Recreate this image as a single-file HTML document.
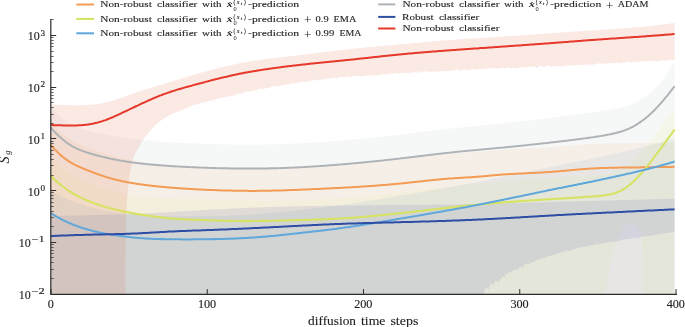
<!DOCTYPE html>
<html><head><meta charset="utf-8"><style>html,body{margin:0;padding:0;background:#fff;width:685px;height:327px;overflow:hidden}svg{display:block}</style></head><body>
<svg width="685" height="327" viewBox="0 0 685 327">
<rect width="685" height="327" fill="#fff"/>
<g stroke="none">
<polygon points="50.8,122.1 51.5,122.9 52.5,123.9 53.5,125.0 54.5,126.1 55.5,127.1 56.5,128.2 57.5,129.2 58.5,130.2 59.5,131.1 60.5,132.1 61.5,132.9 62.5,133.8 63.5,134.6 64.5,135.4 65.5,136.1 66.5,136.9 67.5,137.6 68.5,138.2 69.5,138.9 70.5,139.5 71.5,140.1 72.5,140.6 73.5,141.2 74.5,141.7 75.5,142.2 76.5,142.7 77.5,143.2 78.5,143.7 79.5,144.1 80.5,144.6 81.5,145.0 82.5,145.4 83.5,145.8 84.5,146.3 85.5,146.7 86.5,147.1 87.5,147.5 88.5,147.9 89.5,148.3 90.5,148.7 91.5,149.1 92.5,149.5 93.5,149.8 94.5,150.2 95.5,150.6 96.5,151.0 97.5,151.3 98.5,151.7 99.5,152.1 100.5,152.4 101.5,152.8 102.5,153.1 103.5,153.4 104.5,153.8 105.5,154.1 106.5,154.4 107.5,154.7 108.5,155.0 109.5,155.3 110.5,155.6 111.5,155.9 112.5,156.2 113.5,156.5 114.5,156.7 115.5,157.0 116.5,157.2 117.5,157.5 118.5,157.7 119.5,157.9 120.5,158.2 121.5,158.4 122.5,158.6 123.5,158.8 124.5,159.0 125.5,159.2 126.5,159.4 127.5,159.6 128.5,159.8 129.5,160.0 130.5,160.2 131.5,160.3 132.5,160.5 133.5,160.7 134.5,160.8 135.5,161.0 136.5,161.2 137.5,161.3 138.5,161.5 139.5,161.6 140.5,161.8 141.5,161.9 142.5,162.0 143.5,162.2 144.5,162.3 145.5,162.4 146.5,162.6 147.5,162.7 148.5,162.8 149.5,162.9 150.5,163.1 151.5,163.2 152.5,163.3 153.5,163.4 154.5,163.5 155.5,163.6 156.5,163.7 157.5,163.8 158.5,163.9 159.5,164.0 160.5,164.1 161.5,164.2 162.5,164.3 163.5,164.4 164.5,164.5 165.5,164.6 166.5,164.7 167.5,164.8 168.5,164.9 169.5,165.0 170.5,165.0 171.5,165.1 172.5,165.2 173.5,165.3 174.5,165.4 175.5,165.5 176.5,165.5 177.5,165.6 178.5,165.7 179.5,165.7 180.5,165.8 181.5,165.9 182.5,166.0 183.5,166.0 184.5,166.1 185.5,166.2 186.5,166.2 187.5,166.3 188.5,166.4 189.5,166.4 190.5,166.5 191.5,166.5 192.5,166.6 193.5,166.6 194.5,166.7 195.5,166.8 196.5,166.8 197.5,166.9 198.5,166.9 199.5,167.0 200.5,167.0 201.5,167.1 202.5,167.1 203.5,167.2 204.5,167.2 205.5,167.3 206.5,167.3 207.5,167.3 208.5,167.4 209.5,167.4 210.5,167.5 211.5,167.5 212.5,167.6 213.5,167.6 214.5,167.6 215.5,167.7 216.5,167.7 217.5,167.7 218.5,167.8 219.5,167.8 220.5,167.8 221.5,167.9 222.5,167.9 223.5,167.9 224.5,168.0 225.5,168.0 226.5,168.0 227.5,168.0 228.5,168.1 229.5,168.1 230.5,168.1 231.5,168.1 232.5,168.2 233.5,168.2 234.5,168.2 235.5,168.2 236.5,168.2 237.5,168.2 238.5,168.3 239.5,168.3 240.5,168.3 241.5,168.3 242.5,168.3 243.5,168.3 244.5,168.3 245.5,168.3 246.5,168.3 247.5,168.3 248.5,168.4 249.5,168.4 250.5,168.4 251.5,168.4 252.5,168.4 253.5,168.4 254.5,168.4 255.5,168.4 256.5,168.3 257.5,168.3 258.5,168.3 259.5,168.3 260.5,168.3 261.5,168.3 262.5,168.3 263.5,168.3 264.5,168.2 265.5,168.2 266.5,168.2 267.5,168.2 268.5,168.2 269.5,168.1 270.5,168.1 271.5,168.1 272.5,168.1 273.5,168.0 274.5,168.0 275.5,168.0 276.5,167.9 277.5,167.9 278.5,167.9 279.5,167.8 280.5,167.8 281.5,167.7 282.5,167.7 283.5,167.7 284.5,167.6 285.5,167.6 286.5,167.5 287.5,167.5 288.5,167.4 289.5,167.4 290.5,167.3 291.5,167.3 292.5,167.2 293.5,167.2 294.5,167.1 295.5,167.1 296.5,167.0 297.5,167.0 298.5,166.9 299.5,166.9 300.5,166.8 301.5,166.7 302.5,166.7 303.5,166.6 304.5,166.6 305.5,166.5 306.5,166.5 307.5,166.4 308.5,166.3 309.5,166.3 310.5,166.2 311.5,166.2 312.5,166.1 313.5,166.0 314.5,166.0 315.5,165.9 316.5,165.9 317.5,165.8 318.5,165.7 319.5,165.7 320.5,165.6 321.5,165.5 322.5,165.5 323.5,165.4 324.5,165.3 325.5,165.3 326.5,165.2 327.5,165.1 328.5,165.1 329.5,165.0 330.5,164.9 331.5,164.9 332.5,164.8 333.5,164.7 334.5,164.7 335.5,164.6 336.5,164.5 337.5,164.5 338.5,164.4 339.5,164.3 340.5,164.3 341.5,164.2 342.5,164.1 343.5,164.0 344.5,164.0 345.5,163.9 346.5,163.8 347.5,163.8 348.5,163.7 349.5,163.6 350.5,163.5 351.5,163.4 352.5,163.4 353.5,163.3 354.5,163.2 355.5,163.1 356.5,163.1 357.5,163.0 358.5,162.9 359.5,162.8 360.5,162.7 361.5,162.7 362.5,162.6 363.5,162.5 364.5,162.4 365.5,162.3 366.5,162.2 367.5,162.1 368.5,162.1 369.5,162.0 370.5,161.9 371.5,161.8 372.5,161.7 373.5,161.6 374.5,161.5 375.5,161.4 376.5,161.3 377.5,161.2 378.5,161.2 379.5,161.1 380.5,161.0 381.5,160.9 382.5,160.8 383.5,160.7 384.5,160.6 385.5,160.5 386.5,160.4 387.5,160.3 388.5,160.2 389.5,160.1 390.5,160.0 391.5,159.9 392.5,159.8 393.5,159.6 394.5,159.5 395.5,159.4 396.5,159.3 397.5,159.2 398.5,159.1 399.5,159.0 400.5,158.9 401.5,158.8 402.5,158.6 403.5,158.5 404.5,158.4 405.5,158.3 406.5,158.2 407.5,158.1 408.5,157.9 409.5,157.8 410.5,157.7 411.5,157.6 412.5,157.5 413.5,157.3 414.5,157.2 415.5,157.1 416.5,157.0 417.5,156.9 418.5,156.8 419.5,156.6 420.5,156.5 421.5,156.4 422.5,156.3 423.5,156.2 424.5,156.0 425.5,155.9 426.5,155.8 427.5,155.7 428.5,155.6 429.5,155.5 430.5,155.4 431.5,155.3 432.5,155.2 433.5,155.0 434.5,154.9 435.5,154.8 436.5,154.7 437.5,154.6 438.5,154.5 439.5,154.4 440.5,154.3 441.5,154.2 442.5,154.2 443.5,154.1 444.5,154.0 445.5,153.9 446.5,153.8 447.5,153.7 448.5,153.6 449.5,153.6 450.5,153.5 451.5,153.4 452.5,153.4 453.5,153.3 454.5,153.2 455.5,153.1 456.5,153.1 457.5,153.0 458.5,153.0 459.5,152.9 460.5,152.8 461.5,152.8 462.5,152.7 463.5,152.7 464.5,152.6 465.5,152.5 466.5,152.5 467.5,152.4 468.5,152.4 469.5,152.3 470.5,152.2 471.5,152.2 472.5,152.1 473.5,152.0 474.5,152.0 475.5,151.9 476.5,151.8 477.5,151.8 478.5,151.7 479.5,151.6 480.5,151.5 481.5,151.4 482.5,151.4 483.5,151.3 484.5,151.2 485.5,151.1 486.5,151.0 487.5,150.9 488.5,150.8 489.5,150.7 490.5,150.6 491.5,150.6 492.5,150.5 493.5,150.4 494.5,150.3 495.5,150.2 496.5,150.1 497.5,150.0 498.5,150.0 499.5,149.9 500.5,149.8 501.5,149.7 502.5,149.6 503.5,149.6 504.5,149.5 505.5,149.4 506.5,149.4 507.5,149.3 508.5,149.3 509.5,149.2 510.5,149.1 511.5,149.1 512.5,149.0 513.5,149.0 514.5,148.9 515.5,148.9 516.5,148.8 517.5,148.8 518.5,148.7 519.5,148.7 520.5,148.7 521.5,148.6 522.5,148.6 523.5,148.5 524.5,148.5 525.5,148.4 526.5,148.4 527.5,148.4 528.5,148.3 529.5,148.3 530.5,148.2 531.5,148.2 532.5,148.2 533.5,148.1 534.5,148.1 535.5,148.0 536.5,148.0 537.5,147.9 538.5,147.9 539.5,147.8 540.5,147.8 541.5,147.7 542.5,147.7 543.5,147.6 544.5,147.6 545.5,147.5 546.5,147.5 547.5,147.4 548.5,147.3 549.5,147.3 550.5,147.2 551.5,147.1 552.5,147.1 553.5,147.0 554.5,146.9 555.5,146.8 556.5,146.8 557.5,146.7 558.5,146.6 559.5,146.5 560.5,146.4 561.5,146.3 562.5,146.3 563.5,146.2 564.5,146.1 565.5,146.0 566.5,145.9 567.5,145.8 568.5,145.7 569.5,145.7 570.5,145.6 571.5,145.5 572.5,145.4 573.5,145.3 574.5,145.2 575.5,145.1 576.5,145.1 577.5,145.0 578.5,144.9 579.5,144.8 580.5,144.7 581.5,144.7 582.5,144.6 583.5,144.5 584.5,144.4 585.5,144.4 586.5,144.3 587.5,144.2 588.5,144.2 589.5,144.1 590.5,144.1 591.5,144.0 592.5,143.9 593.5,143.9 594.5,143.8 595.5,143.8 596.5,143.8 597.5,143.7 598.5,143.7 599.5,143.6 600.5,143.6 601.5,143.6 602.5,143.5 603.5,143.5 604.5,143.5 605.5,143.5 606.5,143.4 607.5,143.4 608.5,143.4 609.5,143.4 610.5,143.4 611.5,143.3 612.5,143.3 613.5,143.3 614.5,143.3 615.5,143.3 616.5,143.3 617.5,143.3 618.5,143.2 619.5,143.2 620.5,143.2 621.5,143.2 622.5,143.2 623.5,143.2 624.5,143.2 625.5,143.2 626.5,143.2 627.5,143.2 628.5,143.2 629.5,143.2 630.5,143.2 631.5,143.1 632.5,143.1 633.5,143.1 634.5,143.1 635.5,143.1 636.5,143.1 637.5,143.1 638.5,143.1 639.5,143.1 640.5,143.1 641.5,143.1 642.5,143.1 643.5,143.1 644.5,143.1 645.5,143.0 646.5,143.0 647.5,143.0 648.5,143.0 649.5,143.0 650.5,143.0 651.5,143.0 652.5,143.0 653.5,143.0 654.5,143.0 655.5,143.0 656.5,143.0 657.5,143.0 658.5,142.9 659.5,142.9 660.5,142.9 661.5,142.9 662.5,142.9 663.5,142.9 664.5,142.9 665.5,142.9 666.5,142.9 667.5,142.9 668.5,142.9 669.5,142.8 670.5,142.8 671.5,142.8 672.5,142.8 673.5,142.8 674.5,142.8 674.6,142.8 674.6,294.0 674.5,294.0 673.5,294.0 672.5,294.0 671.5,294.0 670.5,294.0 669.5,294.0 668.5,294.0 667.5,294.0 666.5,294.0 665.5,294.0 664.5,294.0 663.5,294.0 662.5,294.0 661.5,294.0 660.5,294.0 659.5,294.0 658.5,294.0 657.5,294.0 656.5,294.0 655.5,294.0 654.5,294.0 653.5,294.0 652.5,294.0 651.5,294.0 650.5,294.0 649.5,294.0 648.5,294.0 647.5,294.0 646.5,294.0 645.5,294.0 644.5,294.0 643.5,294.0 642.5,294.0 641.5,294.0 640.5,294.0 639.5,294.0 638.5,294.0 637.5,294.0 636.5,294.0 635.5,294.0 634.5,294.0 633.5,294.0 632.5,294.0 631.5,294.0 630.5,294.0 629.5,294.0 628.5,294.0 627.5,294.0 626.5,294.0 625.5,294.0 624.5,294.0 623.5,294.0 622.5,294.0 621.5,294.0 620.5,294.0 619.5,294.0 618.5,294.0 617.5,294.0 616.5,294.0 615.5,294.0 614.5,294.0 613.5,294.0 612.5,294.0 611.5,294.0 610.5,294.0 609.5,294.0 608.5,294.0 607.5,294.0 606.5,294.0 605.5,294.0 604.5,294.0 603.5,294.0 602.5,294.0 601.5,294.0 600.5,294.0 599.5,294.0 598.5,294.0 597.5,294.0 596.5,294.0 595.5,294.0 594.5,294.0 593.5,294.0 592.5,294.0 591.5,294.0 590.5,294.0 589.5,294.0 588.5,294.0 587.5,294.0 586.5,294.0 585.5,294.0 584.5,294.0 583.5,294.0 582.5,294.0 581.5,294.0 580.5,294.0 579.5,294.0 578.5,294.0 577.5,294.0 576.5,294.0 575.5,294.0 574.5,294.0 573.5,294.0 572.5,294.0 571.5,294.0 570.5,294.0 569.5,294.0 568.5,294.0 567.5,294.0 566.5,294.0 565.5,294.0 564.5,294.0 563.5,294.0 562.5,294.0 561.5,294.0 560.5,294.0 559.5,294.0 558.5,294.0 557.5,294.0 556.5,294.0 555.5,294.0 554.5,294.0 553.5,294.0 552.5,294.0 551.5,294.0 550.5,294.0 549.5,294.0 548.5,294.0 547.5,294.0 546.5,294.0 545.5,294.0 544.5,294.0 543.5,294.0 542.5,294.0 541.5,294.0 540.5,294.0 539.5,294.0 538.5,294.0 537.5,294.0 536.5,294.0 535.5,294.0 534.5,294.0 533.5,294.0 532.5,294.0 531.5,294.0 530.5,294.0 529.5,294.0 528.5,294.0 527.5,294.0 526.5,294.0 525.5,294.0 524.5,294.0 523.5,294.0 522.5,294.0 521.5,294.0 520.5,294.0 519.5,294.0 518.5,294.0 517.5,294.0 516.5,294.0 515.5,294.0 514.5,294.0 513.5,294.0 512.5,294.0 511.5,294.0 510.5,294.0 509.5,294.0 508.5,294.0 507.5,294.0 506.5,294.0 505.5,294.0 504.5,294.0 503.5,294.0 502.5,294.0 501.5,294.0 500.5,294.0 499.5,294.0 498.5,294.0 497.5,294.0 496.5,294.0 495.5,294.0 494.5,294.0 493.5,294.0 492.5,294.0 491.5,294.0 490.5,294.0 489.5,294.0 488.5,294.0 487.5,294.0 486.5,294.0 485.5,294.0 484.5,294.0 483.5,294.0 482.5,294.0 481.5,294.0 480.5,294.0 479.5,294.0 478.5,294.0 477.5,294.0 476.5,294.0 475.5,294.0 474.5,294.0 473.5,294.0 472.5,294.0 471.5,294.0 470.5,294.0 469.5,294.0 468.5,294.0 467.5,294.0 466.5,294.0 465.5,294.0 464.5,294.0 463.5,294.0 462.5,294.0 461.5,294.0 460.5,294.0 459.5,294.0 458.5,294.0 457.5,294.0 456.5,294.0 455.5,294.0 454.5,294.0 453.5,294.0 452.5,294.0 451.5,294.0 450.5,294.0 449.5,294.0 448.5,294.0 447.5,294.0 446.5,294.0 445.5,294.0 444.5,294.0 443.5,294.0 442.5,294.0 441.5,294.0 440.5,294.0 439.5,294.0 438.5,294.0 437.5,294.0 436.5,294.0 435.5,294.0 434.5,294.0 433.5,294.0 432.5,294.0 431.5,294.0 430.5,294.0 429.5,294.0 428.5,294.0 427.5,294.0 426.5,294.0 425.5,294.0 424.5,294.0 423.5,294.0 422.5,294.0 421.5,294.0 420.5,294.0 419.5,294.0 418.5,294.0 417.5,294.0 416.5,294.0 415.5,294.0 414.5,294.0 413.5,294.0 412.5,294.0 411.5,294.0 410.5,294.0 409.5,294.0 408.5,294.0 407.5,294.0 406.5,294.0 405.5,294.0 404.5,294.0 403.5,294.0 402.5,294.0 401.5,294.0 400.5,294.0 399.5,294.0 398.5,294.0 397.5,294.0 396.5,294.0 395.5,294.0 394.5,294.0 393.5,294.0 392.5,294.0 391.5,294.0 390.5,294.0 389.5,294.0 388.5,294.0 387.5,294.0 386.5,294.0 385.5,294.0 384.5,294.0 383.5,294.0 382.5,294.0 381.5,294.0 380.5,294.0 379.5,294.0 378.5,294.0 377.5,294.0 376.5,294.0 375.5,294.0 374.5,294.0 373.5,294.0 372.5,294.0 371.5,294.0 370.5,294.0 369.5,294.0 368.5,294.0 367.5,294.0 366.5,294.0 365.5,294.0 364.5,294.0 363.5,294.0 362.5,294.0 361.5,294.0 360.5,294.0 359.5,294.0 358.5,294.0 357.5,294.0 356.5,294.0 355.5,294.0 354.5,294.0 353.5,294.0 352.5,294.0 351.5,294.0 350.5,294.0 349.5,294.0 348.5,294.0 347.5,294.0 346.5,294.0 345.5,294.0 344.5,294.0 343.5,294.0 342.5,294.0 341.5,294.0 340.5,294.0 339.5,294.0 338.5,294.0 337.5,294.0 336.5,294.0 335.5,294.0 334.5,294.0 333.5,294.0 332.5,294.0 331.5,294.0 330.5,294.0 329.5,294.0 328.5,294.0 327.5,294.0 326.5,294.0 325.5,294.0 324.5,294.0 323.5,294.0 322.5,294.0 321.5,294.0 320.5,294.0 319.5,294.0 318.5,294.0 317.5,294.0 316.5,294.0 315.5,294.0 314.5,294.0 313.5,294.0 312.5,294.0 311.5,294.0 310.5,294.0 309.5,294.0 308.5,294.0 307.5,294.0 306.5,294.0 305.5,294.0 304.5,294.0 303.5,294.0 302.5,294.0 301.5,294.0 300.5,294.0 299.5,294.0 298.5,294.0 297.5,294.0 296.5,294.0 295.5,294.0 294.5,294.0 293.5,294.0 292.5,294.0 291.5,294.0 290.5,294.0 289.5,294.0 288.5,294.0 287.5,294.0 286.5,294.0 285.5,294.0 284.5,294.0 283.5,294.0 282.5,294.0 281.5,294.0 280.5,294.0 279.5,294.0 278.5,294.0 277.5,294.0 276.5,294.0 275.5,294.0 274.5,294.0 273.5,294.0 272.5,294.0 271.5,294.0 270.5,294.0 269.5,294.0 268.5,294.0 267.5,294.0 266.5,294.0 265.5,294.0 264.5,294.0 263.5,294.0 262.5,294.0 261.5,294.0 260.5,294.0 259.5,294.0 258.5,294.0 257.5,294.0 256.5,294.0 255.5,294.0 254.5,294.0 253.5,294.0 252.5,294.0 251.5,294.0 250.5,294.0 249.5,294.0 248.5,294.0 247.5,294.0 246.5,294.0 245.5,294.0 244.5,294.0 243.5,294.0 242.5,294.0 241.5,294.0 240.5,294.0 239.5,294.0 238.5,294.0 237.5,294.0 236.5,294.0 235.5,294.0 234.5,294.0 233.5,294.0 232.5,294.0 231.5,294.0 230.5,294.0 229.5,294.0 228.5,294.0 227.5,294.0 226.5,294.0 225.5,294.0 224.5,294.0 223.5,294.0 222.5,294.0 221.5,294.0 220.5,294.0 219.5,294.0 218.5,294.0 217.5,294.0 216.5,294.0 215.5,294.0 214.5,294.0 213.5,294.0 212.5,294.0 211.5,294.0 210.5,294.0 209.5,294.0 208.5,294.0 207.5,294.0 206.5,294.0 205.5,294.0 204.5,294.0 203.5,294.0 202.5,294.0 201.5,294.0 200.5,294.0 199.5,294.0 198.5,294.0 197.5,294.0 196.5,294.0 195.5,294.0 194.5,294.0 193.5,294.0 192.5,294.0 191.5,294.0 190.5,294.0 189.5,294.0 188.5,294.0 187.5,294.0 186.5,294.0 185.5,294.0 184.5,294.0 183.5,294.0 182.5,294.0 181.5,294.0 180.5,294.0 179.5,294.0 178.5,294.0 177.5,294.0 176.5,294.0 175.5,294.0 174.5,294.0 173.5,294.0 172.5,294.0 171.5,294.0 170.5,294.0 169.5,294.0 168.5,294.0 167.5,294.0 166.5,294.0 165.5,294.0 164.5,294.0 163.5,294.0 162.5,294.0 161.5,294.0 160.5,294.0 159.5,294.0 158.5,294.0 157.5,294.0 156.5,294.0 155.5,294.0 154.5,294.0 153.5,294.0 152.5,294.0 151.5,294.0 150.5,294.0 149.5,294.0 148.5,294.0 147.5,294.0 146.5,294.0 145.5,294.0 144.5,294.0 143.5,294.0 142.5,294.0 141.5,294.0 140.5,294.0 139.5,294.0 138.5,294.0 137.5,294.0 136.5,294.0 135.5,294.0 134.5,294.0 133.5,294.0 132.5,294.0 131.5,294.0 130.5,294.0 129.5,294.0 128.5,294.0 127.5,294.0 126.5,294.0 125.5,294.0 124.5,294.0 123.5,294.0 122.5,294.0 121.5,294.0 120.5,294.0 119.5,294.0 118.5,294.0 117.5,294.0 116.5,294.0 115.5,294.0 114.5,294.0 113.5,294.0 112.5,294.0 111.5,294.0 110.5,294.0 109.5,294.0 108.5,294.0 107.5,294.0 106.5,294.0 105.5,294.0 104.5,294.0 103.5,294.0 102.5,294.0 101.5,294.0 100.5,294.0 99.5,294.0 98.5,294.0 97.5,294.0 96.5,294.0 95.5,294.0 94.5,294.0 93.5,294.0 92.5,294.0 91.5,294.0 90.5,294.0 89.5,294.0 88.5,294.0 87.5,294.0 86.5,294.0 85.5,294.0 84.5,294.0 83.5,294.0 82.5,294.0 81.5,294.0 80.5,294.0 79.5,294.0 78.5,294.0 77.5,294.0 76.5,294.0 75.5,294.0 74.5,294.0 73.5,294.0 72.5,294.0 71.5,294.0 70.5,294.0 69.5,294.0 68.5,294.0 67.5,294.0 66.5,294.0 65.5,294.0 64.5,294.0 63.5,294.0 62.5,294.0 61.5,294.0 60.5,294.0 59.5,294.0 58.5,294.0 57.5,294.0 56.5,294.0 55.5,294.0 54.5,294.0 53.5,294.0 52.5,294.0 51.5,294.0 50.8,294.0" fill="#ff9f4b" fill-opacity="0.094"/>
<polygon points="50.8,158.3 51.5,158.9 52.5,159.8 53.5,160.7 54.5,161.6 55.5,162.5 56.5,163.4 57.5,164.3 58.5,165.1 59.5,166.0 60.5,166.8 61.5,167.6 62.5,168.4 63.5,169.2 64.5,170.0 65.5,170.7 66.5,171.4 67.5,172.1 68.5,172.8 69.5,173.5 70.5,174.1 71.5,174.8 72.5,175.4 73.5,176.0 74.5,176.6 75.5,177.2 76.5,177.7 77.5,178.2 78.5,178.8 79.5,179.3 80.5,179.8 81.5,180.3 82.5,180.7 83.5,181.2 84.5,181.6 85.5,182.1 86.5,182.5 87.5,183.0 88.5,183.4 89.5,183.8 90.5,184.2 91.5,184.6 92.5,185.0 93.5,185.3 94.5,185.7 95.5,186.1 96.5,186.4 97.5,186.8 98.5,187.1 99.5,187.4 100.5,187.8 101.5,188.1 102.5,188.4 103.5,188.7 104.5,189.0 105.5,189.3 106.5,189.6 107.5,189.9 108.5,190.1 109.5,190.4 110.5,190.7 111.5,190.9 112.5,191.2 113.5,191.4 114.5,191.7 115.5,191.9 116.5,192.2 117.5,192.4 118.5,192.6 119.5,192.9 120.5,193.1 121.5,193.3 122.5,193.5 123.5,193.8 124.5,194.0 125.5,194.2 126.5,194.4 127.5,194.6 128.5,194.8 129.5,195.0 130.5,195.2 131.5,195.3 132.5,195.5 133.5,195.7 134.5,195.8 135.5,195.9 136.5,196.1 137.5,196.2 138.5,196.3 139.5,196.4 140.5,196.5 141.5,196.6 142.5,196.7 143.5,196.8 144.5,196.9 145.5,197.0 146.5,197.1 147.5,197.2 148.5,197.3 149.5,197.4 150.5,197.5 151.5,197.5 152.5,197.6 153.5,197.7 154.5,197.8 155.5,197.8 156.5,197.9 157.5,198.0 158.5,198.0 159.5,198.1 160.5,198.1 161.5,198.2 162.5,198.3 163.5,198.3 164.5,198.3 165.5,198.4 166.5,198.4 167.5,198.5 168.5,198.5 169.5,198.5 170.5,198.5 171.5,198.6 172.5,198.6 173.5,198.6 174.5,198.6 175.5,198.6 176.5,198.6 177.5,198.7 178.5,198.7 179.5,198.7 180.5,198.7 181.5,198.7 182.5,198.7 183.5,198.7 184.5,198.7 185.5,198.7 186.5,198.7 187.5,198.7 188.5,198.7 189.5,198.7 190.5,198.7 191.5,198.7 192.5,198.7 193.5,198.8 194.5,198.8 195.5,198.8 196.5,198.8 197.5,198.8 198.5,198.9 199.5,198.9 200.5,198.9 201.5,199.0 202.5,199.0 203.5,199.1 204.5,199.1 205.5,199.1 206.5,199.2 207.5,199.2 208.5,199.3 209.5,199.3 210.5,199.4 211.5,199.4 212.5,199.4 213.5,199.5 214.5,199.5 215.5,199.6 216.5,199.6 217.5,199.7 218.5,199.7 219.5,199.7 220.5,199.8 221.5,199.8 222.5,199.9 223.5,199.9 224.5,200.0 225.5,200.0 226.5,200.0 227.5,200.1 228.5,200.1 229.5,200.2 230.5,200.2 231.5,200.2 232.5,200.3 233.5,200.3 234.5,200.3 235.5,200.4 236.5,200.4 237.5,200.4 238.5,200.5 239.5,200.5 240.5,200.5 241.5,200.5 242.5,200.6 243.5,200.6 244.5,200.6 245.5,200.6 246.5,200.6 247.5,200.7 248.5,200.7 249.5,200.7 250.5,200.7 251.5,200.7 252.5,200.7 253.5,200.7 254.5,200.7 255.5,200.7 256.5,200.7 257.5,200.8 258.5,200.8 259.5,200.8 260.5,200.8 261.5,200.8 262.5,200.8 263.5,200.8 264.5,200.8 265.5,200.8 266.5,200.7 267.5,200.7 268.5,200.7 269.5,200.7 270.5,200.7 271.5,200.7 272.5,200.7 273.5,200.7 274.5,200.7 275.5,200.7 276.5,200.6 277.5,200.6 278.5,200.6 279.5,200.6 280.5,200.6 281.5,200.5 282.5,200.5 283.5,200.5 284.5,200.5 285.5,200.4 286.5,200.4 287.5,200.4 288.5,200.4 289.5,200.3 290.5,200.3 291.5,200.3 292.5,200.3 293.5,200.2 294.5,200.2 295.5,200.2 296.5,200.1 297.5,200.1 298.5,200.1 299.5,200.0 300.5,200.0 301.5,200.0 302.5,200.0 303.5,199.9 304.5,199.9 305.5,199.9 306.5,199.8 307.5,199.8 308.5,199.8 309.5,199.7 310.5,199.7 311.5,199.7 312.5,199.6 313.5,199.6 314.5,199.6 315.5,199.5 316.5,199.5 317.5,199.5 318.5,199.4 319.5,199.4 320.5,199.3 321.5,199.3 322.5,199.3 323.5,199.2 324.5,199.2 325.5,199.1 326.5,199.1 327.5,199.0 328.5,199.0 329.5,198.9 330.5,198.9 331.5,198.8 332.5,198.7 333.5,198.7 334.5,198.6 335.5,198.6 336.5,198.5 337.5,198.4 338.5,198.4 339.5,198.3 340.5,198.2 341.5,198.2 342.5,198.1 343.5,198.0 344.5,198.0 345.5,197.9 346.5,197.8 347.5,197.7 348.5,197.7 349.5,197.6 350.5,197.5 351.5,197.4 352.5,197.3 353.5,197.3 354.5,197.2 355.5,197.1 356.5,197.0 357.5,196.9 358.5,196.8 359.5,196.7 360.5,196.7 361.5,196.6 362.5,196.5 363.5,196.4 364.5,196.3 365.5,196.2 366.5,196.1 367.5,196.0 368.5,195.9 369.5,195.8 370.5,195.7 371.5,195.6 372.5,195.5 373.5,195.4 374.5,195.3 375.5,195.2 376.5,195.1 377.5,195.0 378.5,194.9 379.5,194.8 380.5,194.7 381.5,194.6 382.5,194.5 383.5,194.3 384.5,194.2 385.5,194.1 386.5,194.0 387.5,193.9 388.5,193.8 389.5,193.7 390.5,193.6 391.5,193.4 392.5,193.3 393.5,193.2 394.5,193.1 395.5,193.0 396.5,192.9 397.5,192.8 398.5,192.6 399.5,192.5 400.5,192.4 401.5,192.3 402.5,192.2 403.5,192.0 404.5,191.9 405.5,191.8 406.5,191.7 407.5,191.6 408.5,191.4 409.5,191.3 410.5,191.2 411.5,191.1 412.5,191.0 413.5,190.8 414.5,190.7 415.5,190.6 416.5,190.5 417.5,190.4 418.5,190.2 419.5,190.1 420.5,190.0 421.5,189.9 422.5,189.7 423.5,189.6 424.5,189.5 425.5,189.4 426.5,189.3 427.5,189.1 428.5,189.0 429.5,188.9 430.5,188.8 431.5,188.7 432.5,188.5 433.5,188.4 434.5,188.3 435.5,188.2 436.5,188.1 437.5,187.9 438.5,187.8 439.5,187.7 440.5,187.6 441.5,187.5 442.5,187.4 443.5,187.2 444.5,187.1 445.5,187.0 446.5,186.9 447.5,186.8 448.5,186.7 449.5,186.6 450.5,186.4 451.5,186.3 452.5,186.2 453.5,186.1 454.5,186.0 455.5,185.9 456.5,185.8 457.5,185.7 458.5,185.6 459.5,185.5 460.5,185.4 461.5,185.3 462.5,185.1 463.5,185.0 464.5,184.9 465.5,184.8 466.5,184.7 467.5,184.6 468.5,184.5 469.5,184.4 470.5,184.3 471.5,184.2 472.5,184.1 473.5,184.0 474.5,183.9 475.5,183.8 476.5,183.8 477.5,183.7 478.5,183.6 479.5,183.5 480.5,183.4 481.5,183.3 482.5,183.2 483.5,183.1 484.5,183.0 485.5,182.9 486.5,182.8 487.5,182.8 488.5,182.7 489.5,182.6 490.5,182.5 491.5,182.4 492.5,182.3 493.5,182.2 494.5,182.2 495.5,182.1 496.5,182.0 497.5,181.9 498.5,181.8 499.5,181.7 500.5,181.7 501.5,181.6 502.5,181.5 503.5,181.4 504.5,181.3 505.5,181.3 506.5,181.2 507.5,181.1 508.5,181.0 509.5,181.0 510.5,180.9 511.5,180.8 512.5,180.7 513.5,180.7 514.5,180.6 515.5,180.5 516.5,180.4 517.5,180.4 518.5,180.3 519.5,180.2 520.5,180.2 521.5,180.1 522.5,180.0 523.5,179.9 524.5,179.9 525.5,179.8 526.5,179.7 527.5,179.7 528.5,179.6 529.5,179.5 530.5,179.5 531.5,179.4 532.5,179.3 533.5,179.3 534.5,179.2 535.5,179.1 536.5,179.1 537.5,179.0 538.5,178.9 539.5,178.9 540.5,178.8 541.5,178.7 542.5,178.7 543.5,178.6 544.5,178.5 545.5,178.5 546.5,178.4 547.5,178.4 548.5,178.3 549.5,178.2 550.5,178.2 551.5,178.1 552.5,178.0 553.5,178.0 554.5,177.9 555.5,177.9 556.5,177.8 557.5,177.7 558.5,177.7 559.5,177.6 560.5,177.6 561.5,177.5 562.5,177.4 563.5,177.4 564.5,177.3 565.5,177.2 566.5,177.2 567.5,177.1 568.5,177.1 569.5,177.0 570.5,176.9 571.5,176.9 572.5,176.8 573.5,176.7 574.5,176.7 575.5,176.6 576.5,176.6 577.5,176.5 578.5,176.4 579.5,176.4 580.5,176.3 581.5,176.2 582.5,176.2 583.5,176.1 584.5,176.1 585.5,176.0 586.5,175.9 587.5,175.9 588.5,175.8 589.5,175.7 590.5,175.7 591.5,175.6 592.5,175.5 593.5,175.5 594.5,175.4 595.5,175.3 596.5,175.2 597.5,175.1 598.5,175.1 599.5,175.0 600.5,174.9 601.5,174.7 602.5,174.6 603.5,174.5 604.5,174.4 605.5,174.2 606.5,174.1 607.5,173.9 608.5,173.7 609.5,173.5 610.5,173.3 611.5,173.1 612.5,172.8 613.5,172.6 614.5,172.3 615.5,171.9 616.5,171.6 617.5,171.2 618.5,170.8 619.5,170.4 620.5,169.9 621.5,169.4 622.5,168.8 623.5,168.3 624.5,167.6 625.5,167.0 626.5,166.3 627.5,165.6 628.5,164.8 629.5,164.0 630.5,163.2 631.5,162.3 632.5,161.4 633.5,160.5 634.5,159.5 635.5,158.6 636.5,157.5 637.5,156.5 638.5,155.4 639.5,154.3 640.5,153.2 641.5,152.1 642.5,150.9 643.5,149.8 644.5,148.6 645.5,147.4 646.5,146.1 647.5,144.9 648.5,143.6 649.5,142.4 650.5,141.1 651.5,139.8 652.5,138.5 653.5,137.1 654.5,135.8 655.5,134.5 656.5,133.1 657.5,131.8 658.5,130.5 659.5,129.1 660.5,127.8 661.5,126.4 662.5,125.0 663.5,123.7 664.5,122.3 665.5,121.0 666.5,119.6 667.5,118.2 668.5,116.9 669.5,115.5 670.5,114.1 671.5,112.8 672.5,111.4 673.5,110.0 674.5,108.7 674.6,108.5 674.6,294.0 674.5,294.0 673.5,294.0 672.5,294.0 671.5,294.0 670.5,294.0 669.5,294.0 668.5,294.0 667.5,294.0 666.5,294.0 665.5,294.0 664.5,294.0 663.5,294.0 662.5,294.0 661.5,294.0 660.5,294.0 659.5,294.0 658.5,294.0 657.5,294.0 656.5,294.0 655.5,294.0 654.5,294.0 653.5,294.0 652.5,294.0 651.5,294.0 650.5,294.0 649.5,294.0 648.5,294.0 647.5,294.0 646.5,294.0 645.5,294.0 644.5,294.0 643.5,294.0 642.5,251.6 641.5,239.2 640.5,233.6 639.5,230.5 638.5,228.1 637.5,226.3 636.5,225.0 635.5,224.4 634.5,223.9 633.5,223.5 632.5,223.2 631.5,223.1 630.5,223.0 629.5,223.1 628.5,223.6 627.5,224.1 626.5,224.9 625.5,225.6 624.5,226.5 623.5,227.8 622.5,229.2 621.5,230.9 620.5,232.7 619.5,234.7 618.5,237.1 617.5,239.8 616.5,242.7 615.5,245.7 614.5,248.8 613.5,252.2 612.5,255.9 611.5,259.8 610.5,264.2 609.5,268.9 608.5,274.1 607.5,280.0 606.5,286.8 605.5,294.2 604.5,294.0 603.5,294.0 602.5,294.0 601.5,294.0 600.5,294.0 599.5,294.0 598.5,294.0 597.5,294.0 596.5,294.0 595.5,294.0 594.5,294.0 593.5,294.0 592.5,294.0 591.5,294.0 590.5,294.0 589.5,294.0 588.5,294.0 587.5,294.0 586.5,294.0 585.5,294.0 584.5,294.0 583.5,294.0 582.5,294.0 581.5,294.0 580.5,294.0 579.5,294.0 578.5,294.0 577.5,294.0 576.5,294.0 575.5,294.0 574.5,294.0 573.5,294.0 572.5,294.0 571.5,294.0 570.5,294.0 569.5,294.0 568.5,294.0 567.5,294.0 566.5,294.0 565.5,294.0 564.5,294.0 563.5,294.0 562.5,294.0 561.5,294.0 560.5,294.0 559.5,294.0 558.5,294.0 557.5,294.0 556.5,294.0 555.5,294.0 554.5,294.0 553.5,294.0 552.5,294.0 551.5,294.0 550.5,294.0 549.5,294.0 548.5,294.0 547.5,294.0 546.5,294.0 545.5,294.0 544.5,294.0 543.5,294.0 542.5,294.0 541.5,294.0 540.5,294.0 539.5,294.0 538.5,294.0 537.5,294.0 536.5,294.0 535.5,294.0 534.5,294.0 533.5,294.0 532.5,294.0 531.5,294.0 530.5,294.0 529.5,294.0 528.5,294.0 527.5,294.0 526.5,294.0 525.5,294.0 524.5,294.0 523.5,294.0 522.5,294.0 521.5,294.0 520.5,294.0 519.5,294.0 518.5,294.0 517.5,294.0 516.5,294.0 515.5,294.0 514.5,294.0 513.5,294.0 512.5,294.0 511.5,294.0 510.5,294.0 509.5,294.0 508.5,294.0 507.5,294.0 506.5,294.0 505.5,294.0 504.5,294.0 503.5,294.0 502.5,294.0 501.5,294.0 500.5,294.0 499.5,294.0 498.5,294.0 497.5,294.0 496.5,294.0 495.5,294.0 494.5,294.0 493.5,294.0 492.5,294.0 491.5,294.0 490.5,294.0 489.5,294.0 488.5,294.0 487.5,294.0 486.5,294.0 485.5,294.0 484.5,294.0 483.5,294.0 482.5,294.0 481.5,294.0 480.5,294.0 479.5,294.0 478.5,294.0 477.5,294.0 476.5,294.0 475.5,294.0 474.5,294.0 473.5,294.0 472.5,294.0 471.5,294.0 470.5,294.0 469.5,294.0 468.5,294.0 467.5,294.0 466.5,294.0 465.5,294.0 464.5,294.0 463.5,294.0 462.5,294.0 461.5,294.0 460.5,294.0 459.5,294.0 458.5,294.0 457.5,294.0 456.5,294.0 455.5,294.0 454.5,294.0 453.5,294.0 452.5,294.0 451.5,294.0 450.5,294.0 449.5,294.0 448.5,294.0 447.5,294.0 446.5,294.0 445.5,294.0 444.5,294.0 443.5,294.0 442.5,294.0 441.5,294.0 440.5,294.0 439.5,294.0 438.5,294.0 437.5,294.0 436.5,294.0 435.5,294.0 434.5,294.0 433.5,294.0 432.5,294.0 431.5,294.0 430.5,294.0 429.5,294.0 428.5,294.0 427.5,294.0 426.5,294.0 425.5,294.0 424.5,294.0 423.5,294.0 422.5,294.0 421.5,294.0 420.5,294.0 419.5,294.0 418.5,294.0 417.5,294.0 416.5,294.0 415.5,294.0 414.5,294.0 413.5,294.0 412.5,294.0 411.5,294.0 410.5,294.0 409.5,294.0 408.5,294.0 407.5,294.0 406.5,294.0 405.5,294.0 404.5,294.0 403.5,294.0 402.5,294.0 401.5,294.0 400.5,294.0 399.5,294.0 398.5,294.0 397.5,294.0 396.5,294.0 395.5,294.0 394.5,294.0 393.5,294.0 392.5,294.0 391.5,294.0 390.5,294.0 389.5,294.0 388.5,294.0 387.5,294.0 386.5,294.0 385.5,294.0 384.5,294.0 383.5,294.0 382.5,294.0 381.5,294.0 380.5,294.0 379.5,294.0 378.5,294.0 377.5,294.0 376.5,294.0 375.5,294.0 374.5,294.0 373.5,294.0 372.5,294.0 371.5,294.0 370.5,294.0 369.5,294.0 368.5,294.0 367.5,294.0 366.5,294.0 365.5,294.0 364.5,294.0 363.5,294.0 362.5,294.0 361.5,294.0 360.5,294.0 359.5,294.0 358.5,294.0 357.5,294.0 356.5,294.0 355.5,294.0 354.5,294.0 353.5,294.0 352.5,294.0 351.5,294.0 350.5,294.0 349.5,294.0 348.5,294.0 347.5,294.0 346.5,294.0 345.5,294.0 344.5,294.0 343.5,294.0 342.5,294.0 341.5,294.0 340.5,294.0 339.5,294.0 338.5,294.0 337.5,294.0 336.5,294.0 335.5,294.0 334.5,294.0 333.5,294.0 332.5,294.0 331.5,294.0 330.5,294.0 329.5,294.0 328.5,294.0 327.5,294.0 326.5,294.0 325.5,294.0 324.5,294.0 323.5,294.0 322.5,294.0 321.5,294.0 320.5,294.0 319.5,294.0 318.5,294.0 317.5,294.0 316.5,294.0 315.5,294.0 314.5,294.0 313.5,294.0 312.5,294.0 311.5,294.0 310.5,294.0 309.5,294.0 308.5,294.0 307.5,294.0 306.5,294.0 305.5,294.0 304.5,294.0 303.5,294.0 302.5,294.0 301.5,294.0 300.5,294.0 299.5,294.0 298.5,294.0 297.5,294.0 296.5,294.0 295.5,294.0 294.5,294.0 293.5,294.0 292.5,294.0 291.5,294.0 290.5,294.0 289.5,294.0 288.5,294.0 287.5,294.0 286.5,294.0 285.5,294.0 284.5,294.0 283.5,294.0 282.5,294.0 281.5,294.0 280.5,294.0 279.5,294.0 278.5,294.0 277.5,294.0 276.5,294.0 275.5,294.0 274.5,294.0 273.5,294.0 272.5,294.0 271.5,294.0 270.5,294.0 269.5,294.0 268.5,294.0 267.5,294.0 266.5,294.0 265.5,294.0 264.5,294.0 263.5,294.0 262.5,294.0 261.5,294.0 260.5,294.0 259.5,294.0 258.5,294.0 257.5,294.0 256.5,294.0 255.5,294.0 254.5,294.0 253.5,294.0 252.5,294.0 251.5,294.0 250.5,294.0 249.5,294.0 248.5,294.0 247.5,294.0 246.5,294.0 245.5,294.0 244.5,294.0 243.5,294.0 242.5,294.0 241.5,294.0 240.5,294.0 239.5,294.0 238.5,294.0 237.5,294.0 236.5,294.0 235.5,294.0 234.5,294.0 233.5,294.0 232.5,294.0 231.5,294.0 230.5,294.0 229.5,294.0 228.5,294.0 227.5,294.0 226.5,294.0 225.5,294.0 224.5,294.0 223.5,294.0 222.5,294.0 221.5,294.0 220.5,294.0 219.5,294.0 218.5,294.0 217.5,294.0 216.5,294.0 215.5,294.0 214.5,294.0 213.5,294.0 212.5,294.0 211.5,294.0 210.5,294.0 209.5,294.0 208.5,294.0 207.5,294.0 206.5,294.0 205.5,294.0 204.5,294.0 203.5,294.0 202.5,294.0 201.5,294.0 200.5,294.0 199.5,294.0 198.5,294.0 197.5,294.0 196.5,294.0 195.5,294.0 194.5,294.0 193.5,294.0 192.5,294.0 191.5,294.0 190.5,294.0 189.5,294.0 188.5,294.0 187.5,294.0 186.5,294.0 185.5,294.0 184.5,294.0 183.5,294.0 182.5,294.0 181.5,294.0 180.5,294.0 179.5,294.0 178.5,294.0 177.5,294.0 176.5,294.0 175.5,294.0 174.5,294.0 173.5,294.0 172.5,294.0 171.5,294.0 170.5,294.0 169.5,294.0 168.5,294.0 167.5,294.0 166.5,294.0 165.5,294.0 164.5,294.0 163.5,294.0 162.5,294.0 161.5,294.0 160.5,294.0 159.5,294.0 158.5,294.0 157.5,294.0 156.5,294.0 155.5,294.0 154.5,294.0 153.5,294.0 152.5,294.0 151.5,294.0 150.5,294.0 149.5,294.0 148.5,294.0 147.5,294.0 146.5,294.0 145.5,294.0 144.5,294.0 143.5,294.0 142.5,294.0 141.5,294.0 140.5,294.0 139.5,294.0 138.5,294.0 137.5,294.0 136.5,294.0 135.5,294.0 134.5,294.0 133.5,294.0 132.5,294.0 131.5,294.0 130.5,294.0 129.5,294.0 128.5,294.0 127.5,294.0 126.5,294.0 125.5,294.0 124.5,294.0 123.5,294.0 122.5,294.0 121.5,294.0 120.5,294.0 119.5,294.0 118.5,294.0 117.5,294.0 116.5,294.0 115.5,294.0 114.5,294.0 113.5,294.0 112.5,294.0 111.5,294.0 110.5,294.0 109.5,294.0 108.5,294.0 107.5,294.0 106.5,294.0 105.5,294.0 104.5,294.0 103.5,294.0 102.5,294.0 101.5,294.0 100.5,294.0 99.5,294.0 98.5,294.0 97.5,294.0 96.5,294.0 95.5,294.0 94.5,294.0 93.5,294.0 92.5,294.0 91.5,294.0 90.5,294.0 89.5,294.0 88.5,294.0 87.5,294.0 86.5,294.0 85.5,294.0 84.5,294.0 83.5,294.0 82.5,294.0 81.5,294.0 80.5,294.0 79.5,294.0 78.5,294.0 77.5,294.0 76.5,294.0 75.5,294.0 74.5,294.0 73.5,294.0 72.5,294.0 71.5,294.0 70.5,294.0 69.5,294.0 68.5,294.0 67.5,294.0 66.5,294.0 65.5,294.0 64.5,294.0 63.5,294.0 62.5,294.0 61.5,294.0 60.5,294.0 59.5,294.0 58.5,294.0 57.5,294.0 56.5,294.0 55.5,294.0 54.5,294.0 53.5,294.0 52.5,294.0 51.5,294.0 50.8,294.0" fill="#deec46" fill-opacity="0.075"/>
<polygon points="50.8,190.2 51.5,190.7 52.5,191.2 53.5,191.8 54.5,192.4 55.5,193.0 56.5,193.6 57.5,194.1 58.5,194.7 59.5,195.2 60.5,195.8 61.5,196.3 62.5,196.8 63.5,197.3 64.5,197.8 65.5,198.3 66.5,198.7 67.5,199.2 68.5,199.7 69.5,200.1 70.5,200.5 71.5,200.9 72.5,201.4 73.5,201.8 74.5,202.2 75.5,202.5 76.5,202.9 77.5,203.3 78.5,203.6 79.5,204.0 80.5,204.3 81.5,204.7 82.5,205.0 83.5,205.3 84.5,205.6 85.5,205.9 86.5,206.2 87.5,206.5 88.5,206.8 89.5,207.1 90.5,207.3 91.5,207.6 92.5,207.9 93.5,208.1 94.5,208.4 95.5,208.6 96.5,208.8 97.5,209.0 98.5,209.3 99.5,209.5 100.5,209.7 101.5,209.9 102.5,210.1 103.5,210.3 104.5,210.5 105.5,210.7 106.5,210.8 107.5,211.0 108.5,211.2 109.5,211.3 110.5,211.5 111.5,211.7 112.5,211.8 113.5,212.0 114.5,212.1 115.5,212.3 116.5,212.4 117.5,212.6 118.5,212.7 119.5,212.8 120.5,213.0 121.5,213.1 122.5,213.2 123.5,213.3 124.5,213.5 125.5,213.6 126.5,213.7 127.5,213.8 128.5,213.9 129.5,214.1 130.5,214.2 131.5,214.3 132.5,214.4 133.5,214.5 134.5,214.6 135.5,214.7 136.5,214.8 137.5,214.9 138.5,214.9 139.5,215.0 140.5,215.1 141.5,215.2 142.5,215.3 143.5,215.3 144.5,215.4 145.5,215.5 146.5,215.5 147.5,215.6 148.5,215.6 149.5,215.7 150.5,215.7 151.5,215.8 152.5,215.8 153.5,215.9 154.5,215.9 155.5,215.9 156.5,216.0 157.5,216.0 158.5,216.0 159.5,216.1 160.5,216.1 161.5,216.1 162.5,216.1 163.5,216.1 164.5,216.2 165.5,216.2 166.5,216.2 167.5,216.2 168.5,216.2 169.5,216.2 170.5,216.3 171.5,216.3 172.5,216.3 173.5,216.3 174.5,216.3 175.5,216.3 176.5,216.3 177.5,216.3 178.5,216.3 179.5,216.3 180.5,216.3 181.5,216.3 182.5,216.4 183.5,216.4 184.5,216.4 185.5,216.4 186.5,216.4 187.5,216.4 188.5,216.4 189.5,216.4 190.5,216.4 191.5,216.4 192.5,216.4 193.5,216.3 194.5,216.3 195.5,216.3 196.5,216.3 197.5,216.3 198.5,216.3 199.5,216.3 200.5,216.3 201.5,216.3 202.5,216.3 203.5,216.3 204.5,216.3 205.5,216.2 206.5,216.2 207.5,216.2 208.5,216.2 209.5,216.2 210.5,216.2 211.5,216.2 212.5,216.1 213.5,216.1 214.5,216.1 215.5,216.1 216.5,216.1 217.5,216.0 218.5,216.0 219.5,216.0 220.5,216.0 221.5,216.0 222.5,215.9 223.5,215.9 224.5,215.9 225.5,215.8 226.5,215.8 227.5,215.8 228.5,215.7 229.5,215.7 230.5,215.7 231.5,215.6 232.5,215.6 233.5,215.6 234.5,215.5 235.5,215.5 236.5,215.4 237.5,215.4 238.5,215.3 239.5,215.3 240.5,215.2 241.5,215.2 242.5,215.1 243.5,215.1 244.5,215.0 245.5,215.0 246.5,214.9 247.5,214.9 248.5,214.8 249.5,214.8 250.5,214.7 251.5,214.6 252.5,214.6 253.5,214.5 254.5,214.4 255.5,214.4 256.5,214.3 257.5,214.2 258.5,214.1 259.5,214.1 260.5,214.0 261.5,213.9 262.5,213.8 263.5,213.8 264.5,213.7 265.5,213.6 266.5,213.5 267.5,213.4 268.5,213.3 269.5,213.2 270.5,213.1 271.5,213.0 272.5,213.0 273.5,212.9 274.5,212.8 275.5,212.7 276.5,212.6 277.5,212.5 278.5,212.4 279.5,212.3 280.5,212.1 281.5,212.0 282.5,211.9 283.5,211.8 284.5,211.7 285.5,211.6 286.5,211.5 287.5,211.4 288.5,211.3 289.5,211.2 290.5,211.1 291.5,210.9 292.5,210.8 293.5,210.7 294.5,210.6 295.5,210.5 296.5,210.4 297.5,210.3 298.5,210.2 299.5,210.0 300.5,209.9 301.5,209.8 302.5,209.7 303.5,209.6 304.5,209.5 305.5,209.4 306.5,209.3 307.5,209.2 308.5,209.0 309.5,208.9 310.5,208.8 311.5,208.7 312.5,208.6 313.5,208.5 314.5,208.4 315.5,208.3 316.5,208.2 317.5,208.0 318.5,207.9 319.5,207.8 320.5,207.7 321.5,207.6 322.5,207.5 323.5,207.4 324.5,207.2 325.5,207.1 326.5,207.0 327.5,206.9 328.5,206.8 329.5,206.6 330.5,206.5 331.5,206.4 332.5,206.2 333.5,206.1 334.5,206.0 335.5,205.9 336.5,205.7 337.5,205.6 338.5,205.5 339.5,205.3 340.5,205.2 341.5,205.0 342.5,204.9 343.5,204.8 344.5,204.6 345.5,204.5 346.5,204.3 347.5,204.2 348.5,204.0 349.5,203.9 350.5,203.7 351.5,203.6 352.5,203.5 353.5,203.3 354.5,203.2 355.5,203.0 356.5,202.8 357.5,202.7 358.5,202.5 359.5,202.4 360.5,202.2 361.5,202.1 362.5,201.9 363.5,201.8 364.5,201.6 365.5,201.4 366.5,201.3 367.5,201.1 368.5,201.0 369.5,200.8 370.5,200.6 371.5,200.5 372.5,200.3 373.5,200.2 374.5,200.0 375.5,199.8 376.5,199.7 377.5,199.5 378.5,199.3 379.5,199.2 380.5,199.0 381.5,198.8 382.5,198.7 383.5,198.5 384.5,198.3 385.5,198.2 386.5,198.0 387.5,197.8 388.5,197.7 389.5,197.5 390.5,197.3 391.5,197.2 392.5,197.0 393.5,196.8 394.5,196.7 395.5,196.5 396.5,196.3 397.5,196.1 398.5,196.0 399.5,195.8 400.5,195.6 401.5,195.5 402.5,195.3 403.5,195.1 404.5,195.0 405.5,194.8 406.5,194.6 407.5,194.4 408.5,194.3 409.5,194.1 410.5,193.9 411.5,193.8 412.5,193.6 413.5,193.4 414.5,193.2 415.5,193.1 416.5,192.9 417.5,192.7 418.5,192.6 419.5,192.4 420.5,192.2 421.5,192.0 422.5,191.9 423.5,191.7 424.5,191.5 425.5,191.3 426.5,191.2 427.5,191.0 428.5,190.8 429.5,190.7 430.5,190.5 431.5,190.3 432.5,190.1 433.5,190.0 434.5,189.8 435.5,189.6 436.5,189.4 437.5,189.3 438.5,189.1 439.5,188.9 440.5,188.7 441.5,188.5 442.5,188.4 443.5,188.2 444.5,188.0 445.5,187.8 446.5,187.6 447.5,187.5 448.5,187.3 449.5,187.1 450.5,186.9 451.5,186.7 452.5,186.6 453.5,186.4 454.5,186.2 455.5,186.0 456.5,185.8 457.5,185.7 458.5,185.5 459.5,185.3 460.5,185.1 461.5,184.9 462.5,184.7 463.5,184.5 464.5,184.4 465.5,184.2 466.5,184.0 467.5,183.8 468.5,183.6 469.5,183.4 470.5,183.2 471.5,183.0 472.5,182.8 473.5,182.7 474.5,182.5 475.5,182.3 476.5,182.1 477.5,181.9 478.5,181.7 479.5,181.5 480.5,181.3 481.5,181.1 482.5,180.9 483.5,180.7 484.5,180.5 485.5,180.3 486.5,180.1 487.5,179.9 488.5,179.7 489.5,179.5 490.5,179.3 491.5,179.1 492.5,178.9 493.5,178.7 494.5,178.5 495.5,178.3 496.5,178.1 497.5,177.9 498.5,177.7 499.5,177.5 500.5,177.3 501.5,177.1 502.5,176.9 503.5,176.7 504.5,176.5 505.5,176.3 506.5,176.1 507.5,175.9 508.5,175.6 509.5,175.4 510.5,175.2 511.5,175.0 512.5,174.8 513.5,174.6 514.5,174.4 515.5,174.2 516.5,174.0 517.5,173.8 518.5,173.6 519.5,173.4 520.5,173.2 521.5,173.0 522.5,172.7 523.5,172.5 524.5,172.3 525.5,172.1 526.5,171.9 527.5,171.7 528.5,171.5 529.5,171.3 530.5,171.1 531.5,170.9 532.5,170.7 533.5,170.5 534.5,170.2 535.5,170.0 536.5,169.8 537.5,169.6 538.5,169.4 539.5,169.2 540.5,169.0 541.5,168.8 542.5,168.6 543.5,168.4 544.5,168.2 545.5,168.0 546.5,167.8 547.5,167.6 548.5,167.3 549.5,167.1 550.5,166.9 551.5,166.7 552.5,166.5 553.5,166.3 554.5,166.1 555.5,165.9 556.5,165.7 557.5,165.5 558.5,165.3 559.5,165.1 560.5,164.9 561.5,164.7 562.5,164.5 563.5,164.3 564.5,164.1 565.5,163.9 566.5,163.7 567.5,163.5 568.5,163.3 569.5,163.1 570.5,162.9 571.5,162.7 572.5,162.5 573.5,162.3 574.5,162.1 575.5,161.9 576.5,161.7 577.5,161.5 578.5,161.3 579.5,161.1 580.5,160.9 581.5,160.7 582.5,160.5 583.5,160.3 584.5,160.1 585.5,159.9 586.5,159.7 587.5,159.5 588.5,159.3 589.5,159.1 590.5,158.9 591.5,158.7 592.5,158.5 593.5,158.3 594.5,158.0 595.5,157.8 596.5,157.6 597.5,157.4 598.5,157.2 599.5,157.0 600.5,156.8 601.5,156.6 602.5,156.3 603.5,156.1 604.5,155.9 605.5,155.7 606.5,155.5 607.5,155.3 608.5,155.0 609.5,154.8 610.5,154.6 611.5,154.4 612.5,154.2 613.5,154.0 614.5,153.7 615.5,153.5 616.5,153.3 617.5,153.1 618.5,152.9 619.5,152.6 620.5,152.4 621.5,152.2 622.5,152.0 623.5,151.7 624.5,151.5 625.5,151.3 626.5,151.1 627.5,150.8 628.5,150.6 629.5,150.4 630.5,150.2 631.5,149.9 632.5,149.7 633.5,149.5 634.5,149.3 635.5,149.0 636.5,148.8 637.5,148.5 638.5,148.3 639.5,148.1 640.5,147.8 641.5,147.6 642.5,147.4 643.5,147.1 644.5,146.9 645.5,146.6 646.5,146.4 647.5,146.1 648.5,145.9 649.5,145.6 650.5,145.3 651.5,145.1 652.5,144.8 653.5,144.5 654.5,144.3 655.5,144.0 656.5,143.7 657.5,143.5 658.5,143.2 659.5,142.9 660.5,142.6 661.5,142.4 662.5,142.1 663.5,141.8 664.5,141.5 665.5,141.2 666.5,140.9 667.5,140.7 668.5,140.4 669.5,140.1 670.5,139.8 671.5,139.5 672.5,139.2 673.5,138.9 674.5,138.6 674.6,138.6 674.6,294.0 674.5,294.0 673.5,294.0 672.5,294.0 671.5,294.0 670.5,294.0 669.5,294.0 668.5,294.0 667.5,294.0 666.5,294.0 665.5,294.0 664.5,294.0 663.5,294.0 662.5,294.0 661.5,294.0 660.5,294.0 659.5,294.0 658.5,294.0 657.5,294.0 656.5,294.0 655.5,294.0 654.5,294.0 653.5,294.0 652.5,294.0 651.5,294.0 650.5,294.0 649.5,294.0 648.5,294.0 647.5,294.0 646.5,294.0 645.5,294.0 644.5,294.0 643.5,294.0 642.5,294.0 641.5,294.0 640.5,294.0 639.5,294.0 638.5,294.0 637.5,294.0 636.5,294.0 635.5,294.0 634.5,294.0 633.5,294.0 632.5,294.0 631.5,294.0 630.5,294.0 629.5,294.0 628.5,294.0 627.5,294.0 626.5,294.0 625.5,294.0 624.5,294.0 623.5,294.0 622.5,294.0 621.5,294.0 620.5,294.0 619.5,294.0 618.5,294.0 617.5,294.0 616.5,294.0 615.5,294.0 614.5,294.0 613.5,294.0 612.5,294.0 611.5,294.0 610.5,294.0 609.5,294.0 608.5,294.0 607.5,294.0 606.5,294.0 605.5,294.0 604.5,294.0 603.5,294.0 602.5,294.0 601.5,294.0 600.5,294.0 599.5,294.0 598.5,294.0 597.5,294.0 596.5,294.0 595.5,294.0 594.5,294.0 593.5,294.0 592.5,294.0 591.5,294.0 590.5,294.0 589.5,294.0 588.5,294.0 587.5,294.0 586.5,294.0 585.5,294.0 584.5,294.0 583.5,294.0 582.5,294.0 581.5,294.0 580.5,294.0 579.5,294.0 578.5,294.0 577.5,294.0 576.5,294.0 575.5,294.0 574.5,294.0 573.5,294.0 572.5,294.0 571.5,294.0 570.5,294.0 569.5,294.0 568.5,294.0 567.5,294.0 566.5,294.0 565.5,294.0 564.5,294.0 563.5,294.0 562.5,294.0 561.5,294.0 560.5,294.0 559.5,294.0 558.5,294.0 557.5,294.0 556.5,294.0 555.5,294.0 554.5,294.0 553.5,294.0 552.5,294.0 551.5,294.0 550.5,294.0 549.5,294.0 548.5,294.0 547.5,294.0 546.5,294.0 545.5,294.0 544.5,294.0 543.5,294.0 542.5,294.0 541.5,294.0 540.5,294.0 539.5,294.0 538.5,294.0 537.5,294.0 536.5,294.0 535.5,294.0 534.5,294.0 533.5,294.0 532.5,294.0 531.5,294.0 530.5,294.0 529.5,294.0 528.5,294.0 527.5,294.0 526.5,294.0 525.5,294.0 524.5,294.0 523.5,294.0 522.5,294.0 521.5,294.0 520.5,294.0 519.5,294.0 518.5,294.0 517.5,294.0 516.5,294.0 515.5,294.0 514.5,294.0 513.5,294.0 512.5,294.0 511.5,294.0 510.5,294.0 509.5,294.0 508.5,294.0 507.5,294.0 506.5,294.0 505.5,294.0 504.5,294.0 503.5,294.0 502.5,294.0 501.5,294.0 500.5,294.0 499.5,294.0 498.5,294.0 497.5,294.0 496.5,294.0 495.5,294.0 494.5,294.0 493.5,294.0 492.5,294.0 491.5,294.0 490.5,294.0 489.5,294.0 488.5,294.0 487.5,294.0 486.5,294.0 485.5,294.0 484.5,294.0 483.5,294.0 482.5,294.0 481.5,294.0 480.5,294.0 479.5,294.0 478.5,294.0 477.5,294.0 476.5,294.0 475.5,294.0 474.5,294.0 473.5,294.0 472.5,294.0 471.5,294.0 470.5,294.0 469.5,294.0 468.5,294.0 467.5,294.0 466.5,294.0 465.5,294.0 464.5,294.0 463.5,294.0 462.5,294.0 461.5,294.0 460.5,294.0 459.5,294.0 458.5,294.0 457.5,294.0 456.5,294.0 455.5,294.0 454.5,294.0 453.5,294.0 452.5,294.0 451.5,294.0 450.5,294.0 449.5,294.0 448.5,294.0 447.5,294.0 446.5,294.0 445.5,294.0 444.5,294.0 443.5,294.0 442.5,294.0 441.5,294.0 440.5,294.0 439.5,294.0 438.5,294.0 437.5,294.0 436.5,294.0 435.5,294.0 434.5,294.0 433.5,294.0 432.5,294.0 431.5,294.0 430.5,294.0 429.5,294.0 428.5,294.0 427.5,294.0 426.5,294.0 425.5,294.0 424.5,294.0 423.5,294.0 422.5,294.0 421.5,294.0 420.5,294.0 419.5,294.0 418.5,294.0 417.5,294.0 416.5,294.0 415.5,294.0 414.5,294.0 413.5,294.0 412.5,294.0 411.5,294.0 410.5,294.0 409.5,294.0 408.5,294.0 407.5,294.0 406.5,294.0 405.5,294.0 404.5,294.0 403.5,294.0 402.5,294.0 401.5,294.0 400.5,294.0 399.5,294.0 398.5,294.0 397.5,294.0 396.5,294.0 395.5,294.0 394.5,294.0 393.5,294.0 392.5,294.0 391.5,294.0 390.5,294.0 389.5,294.0 388.5,294.0 387.5,294.0 386.5,294.0 385.5,294.0 384.5,294.0 383.5,294.0 382.5,294.0 381.5,294.0 380.5,294.0 379.5,294.0 378.5,294.0 377.5,294.0 376.5,294.0 375.5,294.0 374.5,294.0 373.5,294.0 372.5,294.0 371.5,294.0 370.5,294.0 369.5,294.0 368.5,294.0 367.5,294.0 366.5,294.0 365.5,294.0 364.5,294.0 363.5,294.0 362.5,294.0 361.5,294.0 360.5,294.0 359.5,294.0 358.5,294.0 357.5,294.0 356.5,294.0 355.5,294.0 354.5,294.0 353.5,294.0 352.5,294.0 351.5,294.0 350.5,294.0 349.5,294.0 348.5,294.0 347.5,294.0 346.5,294.0 345.5,294.0 344.5,294.0 343.5,294.0 342.5,294.0 341.5,294.0 340.5,294.0 339.5,294.0 338.5,294.0 337.5,294.0 336.5,294.0 335.5,294.0 334.5,294.0 333.5,294.0 332.5,294.0 331.5,294.0 330.5,294.0 329.5,294.0 328.5,294.0 327.5,294.0 326.5,294.0 325.5,294.0 324.5,294.0 323.5,294.0 322.5,294.0 321.5,294.0 320.5,294.0 319.5,294.0 318.5,294.0 317.5,294.0 316.5,294.0 315.5,294.0 314.5,294.0 313.5,294.0 312.5,294.0 311.5,294.0 310.5,294.0 309.5,294.0 308.5,294.0 307.5,294.0 306.5,294.0 305.5,294.0 304.5,294.0 303.5,294.0 302.5,294.0 301.5,294.0 300.5,294.0 299.5,294.0 298.5,294.0 297.5,294.0 296.5,294.0 295.5,294.0 294.5,294.0 293.5,294.0 292.5,294.0 291.5,294.0 290.5,294.0 289.5,294.0 288.5,294.0 287.5,294.0 286.5,294.0 285.5,294.0 284.5,294.0 283.5,294.0 282.5,294.0 281.5,294.0 280.5,294.0 279.5,294.0 278.5,294.0 277.5,294.0 276.5,294.0 275.5,294.0 274.5,294.0 273.5,294.0 272.5,294.0 271.5,294.0 270.5,294.0 269.5,294.0 268.5,294.0 267.5,294.0 266.5,294.0 265.5,294.0 264.5,294.0 263.5,294.0 262.5,294.0 261.5,294.0 260.5,294.0 259.5,294.0 258.5,294.0 257.5,294.0 256.5,294.0 255.5,294.0 254.5,294.0 253.5,294.0 252.5,294.0 251.5,294.0 250.5,294.0 249.5,294.0 248.5,294.0 247.5,294.0 246.5,294.0 245.5,294.0 244.5,294.0 243.5,294.0 242.5,294.0 241.5,294.0 240.5,294.0 239.5,294.0 238.5,294.0 237.5,294.0 236.5,294.0 235.5,294.0 234.5,294.0 233.5,294.0 232.5,294.0 231.5,294.0 230.5,294.0 229.5,294.0 228.5,294.0 227.5,294.0 226.5,294.0 225.5,294.0 224.5,294.0 223.5,294.0 222.5,294.0 221.5,294.0 220.5,294.0 219.5,294.0 218.5,294.0 217.5,294.0 216.5,294.0 215.5,294.0 214.5,294.0 213.5,294.0 212.5,294.0 211.5,294.0 210.5,294.0 209.5,294.0 208.5,294.0 207.5,294.0 206.5,294.0 205.5,294.0 204.5,294.0 203.5,294.0 202.5,294.0 201.5,294.0 200.5,294.0 199.5,294.0 198.5,294.0 197.5,294.0 196.5,294.0 195.5,294.0 194.5,294.0 193.5,294.0 192.5,294.0 191.5,294.0 190.5,294.0 189.5,294.0 188.5,294.0 187.5,294.0 186.5,294.0 185.5,294.0 184.5,294.0 183.5,294.0 182.5,294.0 181.5,294.0 180.5,294.0 179.5,294.0 178.5,294.0 177.5,294.0 176.5,294.0 175.5,294.0 174.5,294.0 173.5,294.0 172.5,294.0 171.5,294.0 170.5,294.0 169.5,294.0 168.5,294.0 167.5,294.0 166.5,294.0 165.5,294.0 164.5,294.0 163.5,294.0 162.5,294.0 161.5,294.0 160.5,294.0 159.5,294.0 158.5,294.0 157.5,294.0 156.5,294.0 155.5,294.0 154.5,294.0 153.5,294.0 152.5,294.0 151.5,294.0 150.5,294.0 149.5,294.0 148.5,294.0 147.5,294.0 146.5,294.0 145.5,294.0 144.5,294.0 143.5,294.0 142.5,294.0 141.5,294.0 140.5,294.0 139.5,294.0 138.5,294.0 137.5,294.0 136.5,294.0 135.5,294.0 134.5,294.0 133.5,294.0 132.5,294.0 131.5,294.0 130.5,294.0 129.5,294.0 128.5,294.0 127.5,294.0 126.5,294.0 125.5,294.0 124.5,294.0 123.5,294.0 122.5,294.0 121.5,294.0 120.5,294.0 119.5,294.0 118.5,294.0 117.5,294.0 116.5,294.0 115.5,294.0 114.5,294.0 113.5,294.0 112.5,294.0 111.5,294.0 110.5,294.0 109.5,294.0 108.5,294.0 107.5,294.0 106.5,294.0 105.5,294.0 104.5,294.0 103.5,294.0 102.5,294.0 101.5,294.0 100.5,294.0 99.5,294.0 98.5,294.0 97.5,294.0 96.5,294.0 95.5,294.0 94.5,294.0 93.5,294.0 92.5,294.0 91.5,294.0 90.5,294.0 89.5,294.0 88.5,294.0 87.5,294.0 86.5,294.0 85.5,294.0 84.5,294.0 83.5,294.0 82.5,294.0 81.5,294.0 80.5,294.0 79.5,294.0 78.5,294.0 77.5,294.0 76.5,294.0 75.5,294.0 74.5,294.0 73.5,294.0 72.5,294.0 71.5,294.0 70.5,294.0 69.5,294.0 68.5,294.0 67.5,294.0 66.5,294.0 65.5,294.0 64.5,294.0 63.5,294.0 62.5,294.0 61.5,294.0 60.5,294.0 59.5,294.0 58.5,294.0 57.5,294.0 56.5,294.0 55.5,294.0 54.5,294.0 53.5,294.0 52.5,294.0 51.5,294.0 50.8,294.0" fill="#5a99d8" fill-opacity="0.094"/>
<polygon points="50.8,107.8 51.5,108.5 52.5,109.5 53.5,110.5 54.5,111.4 55.5,112.4 56.5,113.4 57.5,114.3 58.5,115.2 59.5,116.1 60.5,117.0 61.5,117.8 62.5,118.6 63.5,119.4 64.5,120.1 65.5,120.8 66.5,121.5 67.5,122.2 68.5,122.8 69.5,123.4 70.5,124.0 71.5,124.5 72.5,125.0 73.5,125.5 74.5,126.0 75.5,126.5 76.5,126.9 77.5,127.3 78.5,127.7 79.5,128.1 80.5,128.4 81.5,128.7 82.5,129.1 83.5,129.4 84.5,129.7 85.5,130.0 86.5,130.3 87.5,130.5 88.5,130.8 89.5,131.1 90.5,131.3 91.5,131.6 92.5,131.8 93.5,132.0 94.5,132.3 95.5,132.5 96.5,132.7 97.5,133.0 98.5,133.2 99.5,133.4 100.5,133.6 101.5,133.8 102.5,134.0 103.5,134.2 104.5,134.4 105.5,134.6 106.5,134.8 107.5,135.0 108.5,135.2 109.5,135.4 110.5,135.6 111.5,135.8 112.5,135.9 113.5,136.1 114.5,136.3 115.5,136.4 116.5,136.6 117.5,136.8 118.5,136.9 119.5,137.1 120.5,137.2 121.5,137.4 122.5,137.5 123.5,137.7 124.5,137.8 125.5,138.0 126.5,138.1 127.5,138.3 128.5,138.4 129.5,138.5 130.5,138.7 131.5,138.8 132.5,138.9 133.5,139.0 134.5,139.2 135.5,139.3 136.5,139.4 137.5,139.5 138.5,139.6 139.5,139.7 140.5,139.8 141.5,140.0 142.5,140.1 143.5,140.2 144.5,140.3 145.5,140.4 146.5,140.4 147.5,140.5 148.5,140.6 149.5,140.7 150.5,140.8 151.5,140.9 152.5,141.0 153.5,141.1 154.5,141.1 155.5,141.2 156.5,141.3 157.5,141.4 158.5,141.4 159.5,141.5 160.5,141.6 161.5,141.6 162.5,141.7 163.5,141.8 164.5,141.8 165.5,141.9 166.5,142.0 167.5,142.0 168.5,142.1 169.5,142.2 170.5,142.2 171.5,142.3 172.5,142.3 173.5,142.4 174.5,142.4 175.5,142.5 176.5,142.6 177.5,142.6 178.5,142.7 179.5,142.7 180.5,142.8 181.5,142.8 182.5,142.9 183.5,142.9 184.5,142.9 185.5,143.0 186.5,143.0 187.5,143.1 188.5,143.1 189.5,143.2 190.5,143.2 191.5,143.3 192.5,143.3 193.5,143.3 194.5,143.4 195.5,143.4 196.5,143.5 197.5,143.5 198.5,143.5 199.5,143.6 200.5,143.6 201.5,143.6 202.5,143.7 203.5,143.7 204.5,143.7 205.5,143.8 206.5,143.8 207.5,143.8 208.5,143.9 209.5,143.9 210.5,143.9 211.5,144.0 212.5,144.0 213.5,144.0 214.5,144.0 215.5,144.1 216.5,144.1 217.5,144.1 218.5,144.1 219.5,144.2 220.5,144.2 221.5,144.2 222.5,144.2 223.5,144.2 224.5,144.3 225.5,144.3 226.5,144.3 227.5,144.3 228.5,144.3 229.5,144.4 230.5,144.4 231.5,144.4 232.5,144.4 233.5,144.4 234.5,144.4 235.5,144.4 236.5,144.5 237.5,144.5 238.5,144.5 239.5,144.5 240.5,144.5 241.5,144.5 242.5,144.5 243.5,144.5 244.5,144.5 245.5,144.5 246.5,144.5 247.5,144.5 248.5,144.5 249.5,144.5 250.5,144.5 251.5,144.5 252.5,144.5 253.5,144.5 254.5,144.5 255.5,144.5 256.5,144.5 257.5,144.5 258.5,144.5 259.5,144.5 260.5,144.5 261.5,144.5 262.5,144.5 263.5,144.4 264.5,144.4 265.5,144.4 266.5,144.4 267.5,144.4 268.5,144.4 269.5,144.3 270.5,144.3 271.5,144.3 272.5,144.3 273.5,144.3 274.5,144.2 275.5,144.2 276.5,144.2 277.5,144.2 278.5,144.1 279.5,144.1 280.5,144.1 281.5,144.0 282.5,144.0 283.5,144.0 284.5,143.9 285.5,143.9 286.5,143.9 287.5,143.8 288.5,143.8 289.5,143.7 290.5,143.7 291.5,143.6 292.5,143.6 293.5,143.6 294.5,143.5 295.5,143.5 296.5,143.4 297.5,143.4 298.5,143.3 299.5,143.3 300.5,143.2 301.5,143.2 302.5,143.1 303.5,143.1 304.5,143.0 305.5,142.9 306.5,142.9 307.5,142.8 308.5,142.8 309.5,142.7 310.5,142.6 311.5,142.6 312.5,142.5 313.5,142.5 314.5,142.4 315.5,142.3 316.5,142.3 317.5,142.2 318.5,142.1 319.5,142.1 320.5,142.0 321.5,141.9 322.5,141.9 323.5,141.8 324.5,141.7 325.5,141.6 326.5,141.6 327.5,141.5 328.5,141.4 329.5,141.3 330.5,141.3 331.5,141.2 332.5,141.1 333.5,141.0 334.5,141.0 335.5,140.9 336.5,140.8 337.5,140.7 338.5,140.6 339.5,140.6 340.5,140.5 341.5,140.4 342.5,140.3 343.5,140.2 344.5,140.1 345.5,140.0 346.5,140.0 347.5,139.9 348.5,139.8 349.5,139.7 350.5,139.6 351.5,139.5 352.5,139.4 353.5,139.3 354.5,139.2 355.5,139.2 356.5,139.1 357.5,139.0 358.5,138.9 359.5,138.8 360.5,138.7 361.5,138.6 362.5,138.5 363.5,138.4 364.5,138.3 365.5,138.2 366.5,138.1 367.5,138.0 368.5,137.9 369.5,137.8 370.5,137.7 371.5,137.6 372.5,137.5 373.5,137.4 374.5,137.3 375.5,137.2 376.5,137.1 377.5,137.0 378.5,136.9 379.5,136.8 380.5,136.7 381.5,136.6 382.5,136.5 383.5,136.4 384.5,136.2 385.5,136.1 386.5,136.0 387.5,135.9 388.5,135.8 389.5,135.7 390.5,135.6 391.5,135.5 392.5,135.4 393.5,135.2 394.5,135.1 395.5,135.0 396.5,134.9 397.5,134.8 398.5,134.7 399.5,134.6 400.5,134.4 401.5,134.3 402.5,134.2 403.5,134.1 404.5,134.0 405.5,133.8 406.5,133.7 407.5,133.6 408.5,133.5 409.5,133.4 410.5,133.2 411.5,133.1 412.5,133.0 413.5,132.9 414.5,132.8 415.5,132.6 416.5,132.5 417.5,132.4 418.5,132.3 419.5,132.2 420.5,132.0 421.5,131.9 422.5,131.8 423.5,131.7 424.5,131.6 425.5,131.4 426.5,131.3 427.5,131.2 428.5,131.1 429.5,131.0 430.5,130.8 431.5,130.7 432.5,130.6 433.5,130.5 434.5,130.4 435.5,130.2 436.5,130.1 437.5,130.0 438.5,129.9 439.5,129.8 440.5,129.7 441.5,129.6 442.5,129.4 443.5,129.3 444.5,129.2 445.5,129.1 446.5,129.0 447.5,128.9 448.5,128.8 449.5,128.7 450.5,128.6 451.5,128.4 452.5,128.3 453.5,128.2 454.5,128.1 455.5,128.0 456.5,127.9 457.5,127.8 458.5,127.7 459.5,127.6 460.5,127.5 461.5,127.4 462.5,127.3 463.5,127.2 464.5,127.1 465.5,127.0 466.5,126.9 467.5,126.8 468.5,126.7 469.5,126.6 470.5,126.5 471.5,126.4 472.5,126.3 473.5,126.2 474.5,126.1 475.5,126.0 476.5,125.9 477.5,125.8 478.5,125.7 479.5,125.6 480.5,125.5 481.5,125.4 482.5,125.3 483.5,125.2 484.5,125.1 485.5,125.0 486.5,124.9 487.5,124.8 488.5,124.7 489.5,124.6 490.5,124.5 491.5,124.4 492.5,124.3 493.5,124.2 494.5,124.1 495.5,124.0 496.5,123.9 497.5,123.8 498.5,123.7 499.5,123.6 500.5,123.5 501.5,123.4 502.5,123.3 503.5,123.2 504.5,123.1 505.5,123.0 506.5,122.9 507.5,122.7 508.5,122.6 509.5,122.5 510.5,122.4 511.5,122.3 512.5,122.2 513.5,122.1 514.5,122.0 515.5,121.9 516.5,121.8 517.5,121.7 518.5,121.5 519.5,121.4 520.5,121.3 521.5,121.2 522.5,121.1 523.5,121.0 524.5,120.9 525.5,120.8 526.5,120.6 527.5,120.5 528.5,120.4 529.5,120.3 530.5,120.2 531.5,120.1 532.5,119.9 533.5,119.8 534.5,119.7 535.5,119.6 536.5,119.5 537.5,119.4 538.5,119.2 539.5,119.1 540.5,119.0 541.5,118.9 542.5,118.8 543.5,118.6 544.5,118.5 545.5,118.4 546.5,118.3 547.5,118.2 548.5,118.0 549.5,117.9 550.5,117.8 551.5,117.7 552.5,117.6 553.5,117.4 554.5,117.3 555.5,117.2 556.5,117.1 557.5,116.9 558.5,116.8 559.5,116.7 560.5,116.6 561.5,116.4 562.5,116.3 563.5,116.2 564.5,116.1 565.5,115.9 566.5,115.8 567.5,115.7 568.5,115.5 569.5,115.4 570.5,115.3 571.5,115.2 572.5,115.0 573.5,114.9 574.5,114.8 575.5,114.6 576.5,114.5 577.5,114.4 578.5,114.2 579.5,114.1 580.5,114.0 581.5,113.8 582.5,113.7 583.5,113.6 584.5,113.4 585.5,113.3 586.5,113.1 587.5,113.0 588.5,112.9 589.5,112.7 590.5,112.6 591.5,112.4 592.5,112.3 593.5,112.1 594.5,112.0 595.5,111.9 596.5,111.7 597.5,111.5 598.5,111.4 599.5,111.2 600.5,111.1 601.5,110.9 602.5,110.8 603.5,110.6 604.5,110.4 605.5,110.3 606.5,110.1 607.5,110.0 608.5,109.8 609.5,109.7 610.5,109.5 611.5,109.3 612.5,109.2 613.5,109.0 614.5,108.8 615.5,108.6 616.5,108.5 617.5,108.3 618.5,108.1 619.5,107.9 620.5,107.6 621.5,107.4 622.5,107.2 623.5,106.9 624.5,106.6 625.5,106.3 626.5,106.0 627.5,105.7 628.5,105.4 629.5,105.0 630.5,104.6 631.5,104.2 632.5,103.8 633.5,103.3 634.5,102.8 635.5,102.3 636.5,101.8 637.5,101.3 638.5,100.7 639.5,100.1 640.5,99.5 641.5,98.9 642.5,98.2 643.5,97.6 644.5,96.9 645.5,96.2 646.5,95.5 647.5,94.8 648.5,94.1 649.5,93.3 650.5,92.5 651.5,91.7 652.5,90.8 653.5,89.9 654.5,88.9 655.5,87.9 656.5,86.9 657.5,85.9 658.5,84.8 659.5,83.6 660.5,82.5 661.5,81.2 662.5,79.9 663.5,78.6 664.5,77.2 665.5,75.8 666.5,74.3 667.5,72.8 668.5,71.2 669.5,69.7 670.5,68.0 671.5,66.4 672.5,64.7 673.5,63.0 674.5,61.3 674.6,61.2 674.6,294.0 674.5,294.0 673.5,294.0 672.5,294.0 671.5,294.0 670.5,294.0 669.5,294.0 668.5,294.0 667.5,294.0 666.5,294.0 665.5,294.0 664.5,294.0 663.5,294.0 662.5,294.0 661.5,294.0 660.5,294.0 659.5,294.0 658.5,294.0 657.5,294.0 656.5,294.0 655.5,294.0 654.5,294.0 653.5,294.0 652.5,294.0 651.5,294.0 650.5,294.0 649.5,294.0 648.5,294.0 647.5,294.0 646.5,294.0 645.5,294.0 644.5,294.0 643.5,294.0 642.5,294.0 641.5,294.0 640.5,294.0 639.5,294.0 638.5,294.0 637.5,294.0 636.5,294.0 635.5,294.0 634.5,294.0 633.5,294.0 632.5,294.0 631.5,294.0 630.5,294.0 629.5,294.0 628.5,294.0 627.5,294.0 626.5,294.0 625.5,294.0 624.5,294.0 623.5,294.0 622.5,294.0 621.5,294.0 620.5,294.0 619.5,294.0 618.5,294.0 617.5,294.0 616.5,294.0 615.5,294.0 614.5,294.0 613.5,294.0 612.5,294.0 611.5,294.0 610.5,294.0 609.5,294.0 608.5,294.0 607.5,294.0 606.5,294.0 605.5,294.0 604.5,294.0 603.5,294.0 602.5,294.0 601.5,294.0 600.5,294.0 599.5,294.0 598.5,294.0 597.5,294.0 596.5,294.0 595.5,294.0 594.5,294.0 593.5,294.0 592.5,294.0 591.5,294.0 590.5,294.0 589.5,294.0 588.5,294.0 587.5,294.0 586.5,294.0 585.5,294.0 584.5,294.0 583.5,294.0 582.5,294.0 581.5,294.0 580.5,294.0 579.5,294.0 578.5,294.0 577.5,294.0 576.5,294.0 575.5,294.0 574.5,294.0 573.5,294.0 572.5,294.0 571.5,294.0 570.5,294.0 569.5,294.0 568.5,294.0 567.5,294.0 566.5,294.0 565.5,294.0 564.5,294.0 563.5,294.0 562.5,294.0 561.5,294.0 560.5,294.0 559.5,294.0 558.5,294.0 557.5,294.0 556.5,294.0 555.5,294.0 554.5,294.0 553.5,294.0 552.5,294.0 551.5,294.0 550.5,294.0 549.5,294.0 548.5,294.0 547.5,294.0 546.5,294.0 545.5,294.0 544.5,294.0 543.5,294.0 542.5,294.0 541.5,294.0 540.5,294.0 539.5,294.0 538.5,294.0 537.5,294.0 536.5,294.0 535.5,294.0 534.5,294.0 533.5,294.0 532.5,294.0 531.5,294.0 530.5,294.0 529.5,294.0 528.5,294.0 527.5,294.0 526.5,294.0 525.5,294.0 524.5,294.0 523.5,294.0 522.5,294.0 521.5,294.0 520.5,294.0 519.5,294.0 518.5,294.0 517.5,294.0 516.5,294.0 515.5,294.0 514.5,294.0 513.5,294.0 512.5,294.0 511.5,294.0 510.5,294.0 509.5,294.0 508.5,294.0 507.5,294.0 506.5,294.0 505.5,294.0 504.5,294.0 503.5,294.0 502.5,294.0 501.5,294.0 500.5,294.0 499.5,294.0 498.5,294.0 497.5,294.0 496.5,294.0 495.5,294.0 494.5,294.0 493.5,294.0 492.5,294.0 491.5,294.0 490.5,294.0 489.5,294.0 488.5,294.0 487.5,294.0 486.5,294.0 485.5,294.0 484.5,294.0 483.5,294.0 482.5,294.0 481.5,294.0 480.5,294.0 479.5,294.0 478.5,294.0 477.5,294.0 476.5,294.0 475.5,294.0 474.5,294.0 473.5,294.0 472.5,294.0 471.5,294.0 470.5,294.0 469.5,294.0 468.5,294.0 467.5,294.0 466.5,294.0 465.5,294.0 464.5,294.0 463.5,294.0 462.5,294.0 461.5,294.0 460.5,294.0 459.5,294.0 458.5,294.0 457.5,294.0 456.5,294.0 455.5,294.0 454.5,294.0 453.5,294.0 452.5,294.0 451.5,294.0 450.5,294.0 449.5,294.0 448.5,294.0 447.5,294.0 446.5,294.0 445.5,294.0 444.5,294.0 443.5,294.0 442.5,294.0 441.5,294.0 440.5,294.0 439.5,294.0 438.5,294.0 437.5,294.0 436.5,294.0 435.5,294.0 434.5,294.0 433.5,294.0 432.5,294.0 431.5,294.0 430.5,294.0 429.5,294.0 428.5,294.0 427.5,294.0 426.5,294.0 425.5,294.0 424.5,294.0 423.5,294.0 422.5,294.0 421.5,294.0 420.5,294.0 419.5,294.0 418.5,294.0 417.5,294.0 416.5,294.0 415.5,294.0 414.5,294.0 413.5,294.0 412.5,294.0 411.5,294.0 410.5,294.0 409.5,294.0 408.5,294.0 407.5,294.0 406.5,294.0 405.5,294.0 404.5,294.0 403.5,294.0 402.5,294.0 401.5,294.0 400.5,294.0 399.5,294.0 398.5,294.0 397.5,294.0 396.5,294.0 395.5,294.0 394.5,294.0 393.5,294.0 392.5,294.0 391.5,294.0 390.5,294.0 389.5,294.0 388.5,294.0 387.5,294.0 386.5,294.0 385.5,294.0 384.5,294.0 383.5,294.0 382.5,294.0 381.5,294.0 380.5,294.0 379.5,294.0 378.5,294.0 377.5,294.0 376.5,294.0 375.5,294.0 374.5,294.0 373.5,294.0 372.5,294.0 371.5,294.0 370.5,294.0 369.5,294.0 368.5,294.0 367.5,294.0 366.5,294.0 365.5,294.0 364.5,294.0 363.5,294.0 362.5,294.0 361.5,294.0 360.5,294.0 359.5,294.0 358.5,294.0 357.5,294.0 356.5,294.0 355.5,294.0 354.5,294.0 353.5,294.0 352.5,294.0 351.5,294.0 350.5,294.0 349.5,294.0 348.5,294.0 347.5,294.0 346.5,294.0 345.5,294.0 344.5,294.0 343.5,294.0 342.5,294.0 341.5,294.0 340.5,294.0 339.5,294.0 338.5,294.0 337.5,294.0 336.5,294.0 335.5,294.0 334.5,294.0 333.5,294.0 332.5,294.0 331.5,294.0 330.5,294.0 329.5,294.0 328.5,294.0 327.5,294.0 326.5,294.0 325.5,294.0 324.5,294.0 323.5,294.0 322.5,294.0 321.5,294.0 320.5,294.0 319.5,294.0 318.5,294.0 317.5,294.0 316.5,294.0 315.5,294.0 314.5,294.0 313.5,294.0 312.5,294.0 311.5,294.0 310.5,294.0 309.5,294.0 308.5,294.0 307.5,294.0 306.5,294.0 305.5,294.0 304.5,294.0 303.5,294.0 302.5,294.0 301.5,294.0 300.5,294.0 299.5,294.0 298.5,294.0 297.5,294.0 296.5,294.0 295.5,294.0 294.5,294.0 293.5,294.0 292.5,294.0 291.5,294.0 290.5,294.0 289.5,294.0 288.5,294.0 287.5,294.0 286.5,294.0 285.5,294.0 284.5,294.0 283.5,294.0 282.5,294.0 281.5,294.0 280.5,294.0 279.5,294.0 278.5,294.0 277.5,294.0 276.5,294.0 275.5,294.0 274.5,294.0 273.5,294.0 272.5,294.0 271.5,294.0 270.5,294.0 269.5,294.0 268.5,294.0 267.5,294.0 266.5,294.0 265.5,294.0 264.5,294.0 263.5,294.0 262.5,294.0 261.5,294.0 260.5,294.0 259.5,294.0 258.5,294.0 257.5,294.0 256.5,294.0 255.5,294.0 254.5,294.0 253.5,294.0 252.5,294.0 251.5,294.0 250.5,294.0 249.5,294.0 248.5,294.0 247.5,294.0 246.5,294.0 245.5,294.0 244.5,294.0 243.5,294.0 242.5,294.0 241.5,294.0 240.5,294.0 239.5,294.0 238.5,294.0 237.5,294.0 236.5,294.0 235.5,294.0 234.5,294.0 233.5,294.0 232.5,294.0 231.5,294.0 230.5,294.0 229.5,294.0 228.5,294.0 227.5,294.0 226.5,294.0 225.5,294.0 224.5,294.0 223.5,294.0 222.5,294.0 221.5,294.0 220.5,294.0 219.5,294.0 218.5,294.0 217.5,294.0 216.5,294.0 215.5,294.0 214.5,294.0 213.5,294.0 212.5,294.0 211.5,294.0 210.5,294.0 209.5,294.0 208.5,294.0 207.5,294.0 206.5,294.0 205.5,294.0 204.5,294.0 203.5,294.0 202.5,294.0 201.5,294.0 200.5,294.0 199.5,294.0 198.5,294.0 197.5,294.0 196.5,294.0 195.5,294.0 194.5,294.0 193.5,294.0 192.5,294.0 191.5,294.0 190.5,294.0 189.5,294.0 188.5,294.0 187.5,294.0 186.5,294.0 185.5,294.0 184.5,294.0 183.5,294.0 182.5,294.0 181.5,294.0 180.5,294.0 179.5,294.0 178.5,294.0 177.5,294.0 176.5,294.0 175.5,294.0 174.5,294.0 173.5,294.0 172.5,294.0 171.5,294.0 170.5,294.0 169.5,294.0 168.5,294.0 167.5,294.0 166.5,294.0 165.5,294.0 164.5,294.0 163.5,294.0 162.5,294.0 161.5,294.0 160.5,294.0 159.5,294.0 158.5,294.0 157.5,294.0 156.5,294.0 155.5,294.0 154.5,294.0 153.5,294.0 152.5,294.0 151.5,294.0 150.5,294.0 149.5,294.0 148.5,294.0 147.5,294.0 146.5,294.0 145.5,294.0 144.5,294.0 143.5,294.0 142.5,294.0 141.5,294.0 140.5,294.0 139.5,294.0 138.5,294.0 137.5,294.0 136.5,294.0 135.5,294.0 134.5,294.0 133.5,294.0 132.5,294.0 131.5,294.0 130.5,294.0 129.5,294.0 128.5,294.0 127.5,294.0 126.5,294.0 125.5,294.0 124.5,294.0 123.5,294.0 122.5,294.0 121.5,294.0 120.5,294.0 119.5,294.0 118.5,294.0 117.5,294.0 116.5,294.0 115.5,294.0 114.5,294.0 113.5,294.0 112.5,294.0 111.5,294.0 110.5,294.0 109.5,294.0 108.5,294.0 107.5,294.0 106.5,294.0 105.5,294.0 104.5,294.0 103.5,294.0 102.5,294.0 101.5,294.0 100.5,294.0 99.5,294.0 98.5,294.0 97.5,294.0 96.5,294.0 95.5,294.0 94.5,294.0 93.5,294.0 92.5,294.0 91.5,294.0 90.5,294.0 89.5,294.0 88.5,294.0 87.5,294.0 86.5,294.0 85.5,294.0 84.5,294.0 83.5,294.0 82.5,294.0 81.5,294.0 80.5,294.0 79.5,294.0 78.5,294.0 77.5,294.0 76.5,294.0 75.5,294.0 74.5,294.0 73.5,294.0 72.5,294.0 71.5,294.0 70.5,294.0 69.5,294.0 68.5,294.0 67.5,294.0 66.5,294.0 65.5,294.0 64.5,294.0 63.5,294.0 62.5,294.0 61.5,294.0 60.5,294.0 59.5,294.0 58.5,294.0 57.5,294.0 56.5,294.0 55.5,294.0 54.5,294.0 53.5,294.0 52.5,294.0 51.5,294.0 50.8,294.0" fill="#a4b0ae" fill-opacity="0.1"/>
<polygon points="50.8,216.0 51.5,216.0 52.5,216.0 53.5,216.0 54.5,215.9 55.5,215.9 56.5,215.9 57.5,215.9 58.5,215.9 59.5,215.8 60.5,215.8 61.5,215.8 62.5,215.8 63.5,215.8 64.5,215.7 65.5,215.7 66.5,215.7 67.5,215.7 68.5,215.6 69.5,215.6 70.5,215.6 71.5,215.6 72.5,215.6 73.5,215.5 74.5,215.5 75.5,215.5 76.5,215.5 77.5,215.4 78.5,215.4 79.5,215.4 80.5,215.4 81.5,215.4 82.5,215.3 83.5,215.3 84.5,215.3 85.5,215.3 86.5,215.2 87.5,215.2 88.5,215.2 89.5,215.2 90.5,215.1 91.5,215.1 92.5,215.1 93.5,215.1 94.5,215.1 95.5,215.0 96.5,215.0 97.5,215.0 98.5,215.0 99.5,214.9 100.5,214.9 101.5,214.9 102.5,214.9 103.5,214.9 104.5,214.8 105.5,214.8 106.5,214.8 107.5,214.8 108.5,214.7 109.5,214.7 110.5,214.7 111.5,214.7 112.5,214.7 113.5,214.6 114.5,214.6 115.5,214.6 116.5,214.6 117.5,214.5 118.5,214.5 119.5,214.5 120.5,214.4 121.5,214.4 122.5,214.4 123.5,214.4 124.5,214.3 125.5,214.3 126.5,214.3 127.5,214.2 128.5,214.2 129.5,214.2 130.5,214.1 131.5,214.1 132.5,214.1 133.5,214.0 134.5,214.0 135.5,213.9 136.5,213.9 137.5,213.9 138.5,213.8 139.5,213.8 140.5,213.7 141.5,213.7 142.5,213.6 143.5,213.6 144.5,213.5 145.5,213.5 146.5,213.4 147.5,213.4 148.5,213.3 149.5,213.3 150.5,213.2 151.5,213.1 152.5,213.1 153.5,213.0 154.5,213.0 155.5,212.9 156.5,212.8 157.5,212.8 158.5,212.7 159.5,212.7 160.5,212.6 161.5,212.5 162.5,212.5 163.5,212.4 164.5,212.4 165.5,212.3 166.5,212.2 167.5,212.2 168.5,212.1 169.5,212.0 170.5,212.0 171.5,211.9 172.5,211.9 173.5,211.8 174.5,211.7 175.5,211.7 176.5,211.6 177.5,211.6 178.5,211.5 179.5,211.5 180.5,211.4 181.5,211.3 182.5,211.3 183.5,211.2 184.5,211.2 185.5,211.1 186.5,211.1 187.5,211.0 188.5,210.9 189.5,210.9 190.5,210.8 191.5,210.8 192.5,210.7 193.5,210.7 194.5,210.6 195.5,210.5 196.5,210.5 197.5,210.4 198.5,210.4 199.5,210.3 200.5,210.3 201.5,210.2 202.5,210.2 203.5,210.1 204.5,210.0 205.5,210.0 206.5,209.9 207.5,209.9 208.5,209.8 209.5,209.8 210.5,209.7 211.5,209.7 212.5,209.6 213.5,209.6 214.5,209.5 215.5,209.5 216.5,209.4 217.5,209.3 218.5,209.3 219.5,209.2 220.5,209.2 221.5,209.1 222.5,209.1 223.5,209.0 224.5,209.0 225.5,208.9 226.5,208.9 227.5,208.8 228.5,208.8 229.5,208.7 230.5,208.7 231.5,208.6 232.5,208.6 233.5,208.5 234.5,208.5 235.5,208.4 236.5,208.4 237.5,208.3 238.5,208.3 239.5,208.2 240.5,208.2 241.5,208.2 242.5,208.1 243.5,208.1 244.5,208.0 245.5,208.0 246.5,207.9 247.5,207.9 248.5,207.8 249.5,207.8 250.5,207.8 251.5,207.7 252.5,207.7 253.5,207.6 254.5,207.6 255.5,207.5 256.5,207.5 257.5,207.5 258.5,207.4 259.5,207.4 260.5,207.4 261.5,207.3 262.5,207.3 263.5,207.2 264.5,207.2 265.5,207.2 266.5,207.1 267.5,207.1 268.5,207.1 269.5,207.0 270.5,207.0 271.5,207.0 272.5,206.9 273.5,206.9 274.5,206.9 275.5,206.9 276.5,206.8 277.5,206.8 278.5,206.8 279.5,206.8 280.5,206.7 281.5,206.7 282.5,206.7 283.5,206.7 284.5,206.6 285.5,206.6 286.5,206.6 287.5,206.6 288.5,206.5 289.5,206.5 290.5,206.5 291.5,206.5 292.5,206.5 293.5,206.4 294.5,206.4 295.5,206.4 296.5,206.4 297.5,206.4 298.5,206.3 299.5,206.3 300.5,206.3 301.5,206.3 302.5,206.3 303.5,206.2 304.5,206.2 305.5,206.2 306.5,206.2 307.5,206.1 308.5,206.1 309.5,206.1 310.5,206.1 311.5,206.1 312.5,206.0 313.5,206.0 314.5,206.0 315.5,206.0 316.5,206.0 317.5,206.0 318.5,205.9 319.5,205.9 320.5,205.9 321.5,205.9 322.5,205.9 323.5,205.8 324.5,205.8 325.5,205.8 326.5,205.8 327.5,205.8 328.5,205.8 329.5,205.7 330.5,205.7 331.5,205.7 332.5,205.7 333.5,205.7 334.5,205.7 335.5,205.6 336.5,205.6 337.5,205.6 338.5,205.6 339.5,205.6 340.5,205.6 341.5,205.6 342.5,205.5 343.5,205.5 344.5,205.5 345.5,205.5 346.5,205.5 347.5,205.5 348.5,205.5 349.5,205.5 350.5,205.4 351.5,205.4 352.5,205.4 353.5,205.4 354.5,205.4 355.5,205.4 356.5,205.4 357.5,205.4 358.5,205.4 359.5,205.3 360.5,205.3 361.5,205.3 362.5,205.3 363.5,205.3 364.5,205.3 365.5,205.3 366.5,205.3 367.5,205.3 368.5,205.3 369.5,205.2 370.5,205.2 371.5,205.2 372.5,205.2 373.5,205.2 374.5,205.2 375.5,205.2 376.5,205.2 377.5,205.2 378.5,205.2 379.5,205.2 380.5,205.1 381.5,205.1 382.5,205.1 383.5,205.1 384.5,205.1 385.5,205.1 386.5,205.1 387.5,205.1 388.5,205.1 389.5,205.1 390.5,205.1 391.5,205.1 392.5,205.0 393.5,205.0 394.5,205.0 395.5,205.0 396.5,205.0 397.5,205.0 398.5,205.0 399.5,205.0 400.5,205.0 401.5,205.0 402.5,205.0 403.5,205.0 404.5,204.9 405.5,204.9 406.5,204.9 407.5,204.9 408.5,204.9 409.5,204.9 410.5,204.9 411.5,204.9 412.5,204.9 413.5,204.9 414.5,204.9 415.5,204.8 416.5,204.8 417.5,204.8 418.5,204.8 419.5,204.8 420.5,204.8 421.5,204.8 422.5,204.8 423.5,204.8 424.5,204.8 425.5,204.7 426.5,204.7 427.5,204.7 428.5,204.7 429.5,204.7 430.5,204.7 431.5,204.7 432.5,204.7 433.5,204.7 434.5,204.6 435.5,204.6 436.5,204.6 437.5,204.6 438.5,204.6 439.5,204.6 440.5,204.6 441.5,204.6 442.5,204.6 443.5,204.5 444.5,204.5 445.5,204.5 446.5,204.5 447.5,204.5 448.5,204.5 449.5,204.5 450.5,204.4 451.5,204.4 452.5,204.4 453.5,204.4 454.5,204.4 455.5,204.4 456.5,204.4 457.5,204.3 458.5,204.3 459.5,204.3 460.5,204.3 461.5,204.3 462.5,204.3 463.5,204.2 464.5,204.2 465.5,204.2 466.5,204.2 467.5,204.2 468.5,204.2 469.5,204.1 470.5,204.1 471.5,204.1 472.5,204.1 473.5,204.1 474.5,204.0 475.5,204.0 476.5,204.0 477.5,204.0 478.5,204.0 479.5,203.9 480.5,203.9 481.5,203.9 482.5,203.9 483.5,203.9 484.5,203.8 485.5,203.8 486.5,203.8 487.5,203.8 488.5,203.7 489.5,203.7 490.5,203.7 491.5,203.7 492.5,203.6 493.5,203.6 494.5,203.6 495.5,203.6 496.5,203.5 497.5,203.5 498.5,203.5 499.5,203.5 500.5,203.4 501.5,203.4 502.5,203.4 503.5,203.4 504.5,203.3 505.5,203.3 506.5,203.3 507.5,203.3 508.5,203.2 509.5,203.2 510.5,203.2 511.5,203.1 512.5,203.1 513.5,203.1 514.5,203.1 515.5,203.0 516.5,203.0 517.5,203.0 518.5,203.0 519.5,202.9 520.5,202.9 521.5,202.9 522.5,202.8 523.5,202.8 524.5,202.8 525.5,202.7 526.5,202.7 527.5,202.7 528.5,202.7 529.5,202.6 530.5,202.6 531.5,202.6 532.5,202.5 533.5,202.5 534.5,202.5 535.5,202.5 536.5,202.4 537.5,202.4 538.5,202.4 539.5,202.3 540.5,202.3 541.5,202.3 542.5,202.2 543.5,202.2 544.5,202.2 545.5,202.2 546.5,202.1 547.5,202.1 548.5,202.1 549.5,202.0 550.5,202.0 551.5,202.0 552.5,202.0 553.5,201.9 554.5,201.9 555.5,201.9 556.5,201.8 557.5,201.8 558.5,201.8 559.5,201.7 560.5,201.7 561.5,201.7 562.5,201.7 563.5,201.6 564.5,201.6 565.5,201.6 566.5,201.6 567.5,201.5 568.5,201.5 569.5,201.5 570.5,201.4 571.5,201.4 572.5,201.4 573.5,201.4 574.5,201.3 575.5,201.3 576.5,201.3 577.5,201.3 578.5,201.2 579.5,201.2 580.5,201.2 581.5,201.1 582.5,201.1 583.5,201.1 584.5,201.1 585.5,201.0 586.5,201.0 587.5,201.0 588.5,201.0 589.5,200.9 590.5,200.9 591.5,200.9 592.5,200.9 593.5,200.8 594.5,200.8 595.5,200.8 596.5,200.8 597.5,200.7 598.5,200.7 599.5,200.7 600.5,200.7 601.5,200.6 602.5,200.6 603.5,200.6 604.5,200.6 605.5,200.5 606.5,200.5 607.5,200.5 608.5,200.5 609.5,200.4 610.5,200.4 611.5,200.4 612.5,200.3 613.5,200.3 614.5,200.3 615.5,200.3 616.5,200.2 617.5,200.2 618.5,200.2 619.5,200.2 620.5,200.1 621.5,200.1 622.5,200.1 623.5,200.1 624.5,200.0 625.5,200.0 626.5,200.0 627.5,200.0 628.5,199.9 629.5,199.9 630.5,199.9 631.5,199.9 632.5,199.8 633.5,199.8 634.5,199.8 635.5,199.7 636.5,199.7 637.5,199.7 638.5,199.7 639.5,199.6 640.5,199.6 641.5,199.6 642.5,199.6 643.5,199.5 644.5,199.5 645.5,199.5 646.5,199.5 647.5,199.4 648.5,199.4 649.5,199.4 650.5,199.3 651.5,199.3 652.5,199.3 653.5,199.3 654.5,199.2 655.5,199.2 656.5,199.2 657.5,199.2 658.5,199.1 659.5,199.1 660.5,199.1 661.5,199.0 662.5,199.0 663.5,199.0 664.5,199.0 665.5,198.9 666.5,198.9 667.5,198.9 668.5,198.8 669.5,198.8 670.5,198.8 671.5,198.8 672.5,198.7 673.5,198.7 674.5,198.7 674.6,198.7 674.6,231.6 674.5,232.0 673.5,232.5 672.5,232.0 671.5,232.1 670.5,232.4 669.5,232.8 668.5,232.7 667.5,232.9 666.5,232.9 665.5,233.0 664.5,233.6 663.5,233.1 662.5,233.8 661.5,233.8 660.5,234.7 659.5,233.9 658.5,234.4 657.5,234.2 656.5,234.5 655.5,234.8 654.5,234.9 653.5,235.2 652.5,235.3 651.5,236.3 650.5,235.4 649.5,236.0 648.5,235.7 647.5,236.4 646.5,236.1 645.5,236.2 644.5,236.5 643.5,236.6 642.5,236.8 641.5,236.9 640.5,236.7 639.5,237.9 638.5,237.8 637.5,238.4 636.5,238.2 635.5,237.5 634.5,237.7 633.5,238.2 632.5,238.5 631.5,238.4 630.5,239.3 629.5,238.3 628.5,238.8 627.5,239.1 626.5,239.2 625.5,239.2 624.5,239.2 623.5,239.6 622.5,239.7 621.5,239.9 620.5,240.2 619.5,240.7 618.5,240.8 617.5,241.2 616.5,241.1 615.5,242.3 614.5,241.1 613.5,241.7 612.5,241.2 611.5,242.1 610.5,242.0 609.5,242.0 608.5,242.5 607.5,242.4 606.5,242.9 605.5,242.7 604.5,242.7 603.5,243.5 602.5,243.4 601.5,243.5 600.5,243.3 599.5,243.5 598.5,245.5 597.5,244.4 596.5,243.7 595.5,244.2 594.5,244.6 593.5,245.4 592.5,245.6 591.5,245.6 590.5,244.9 589.5,245.5 588.5,246.1 587.5,245.8 586.5,245.8 585.5,247.4 584.5,246.5 583.5,246.8 582.5,247.5 581.5,246.9 580.5,247.3 579.5,247.6 578.5,247.9 577.5,247.8 576.5,248.4 575.5,249.0 574.5,249.0 573.5,248.9 572.5,248.8 571.5,250.2 570.5,250.8 569.5,251.2 568.5,250.0 567.5,250.6 566.5,250.4 565.5,251.6 564.5,251.6 563.5,251.4 562.5,252.4 561.5,252.0 560.5,252.6 559.5,253.0 558.5,253.5 557.5,253.0 556.5,254.3 555.5,254.5 554.5,254.6 553.5,254.7 552.5,255.2 551.5,255.7 550.5,255.5 549.5,256.1 548.5,256.3 547.5,256.8 546.5,256.7 545.5,258.5 544.5,257.6 543.5,257.8 542.5,258.5 541.5,258.5 540.5,259.9 539.5,258.7 538.5,259.8 537.5,260.1 536.5,259.8 535.5,261.0 534.5,261.2 533.5,261.7 532.5,262.2 531.5,262.8 530.5,262.2 529.5,263.2 528.5,264.5 527.5,264.1 526.5,263.8 525.5,264.3 524.5,264.3 523.5,266.3 522.5,267.1 521.5,267.8 520.5,266.4 519.5,267.3 518.5,268.7 517.5,270.9 516.5,268.7 515.5,270.0 514.5,270.3 513.5,269.9 512.5,270.9 511.5,272.4 510.5,272.3 509.5,271.5 508.5,272.4 507.5,273.6 506.5,273.9 505.5,273.4 504.5,277.6 503.5,277.0 502.5,275.6 501.5,279.8 500.5,279.1 499.5,278.7 498.5,283.2 497.5,281.5 496.5,281.1 495.5,280.7 494.5,281.5 493.5,285.3 492.5,282.9 491.5,285.7 490.5,282.1 489.5,286.3 488.5,290.3 487.5,287.9 486.5,287.3 485.5,288.6 484.5,289.3 483.5,294.0 482.5,294.0 481.5,293.4 480.5,294.0 479.5,294.0 478.5,294.0 477.5,294.0 476.5,294.0 475.5,294.0 474.5,294.0 473.5,294.0 472.5,294.0 471.5,294.0 470.5,294.0 469.5,294.0 468.5,294.0 467.5,294.0 466.5,294.0 465.5,294.0 464.5,294.0 463.5,294.0 462.5,294.0 461.5,294.0 460.5,294.0 459.5,294.0 458.5,294.0 457.5,294.0 456.5,294.0 455.5,294.0 454.5,294.0 453.5,294.0 452.5,294.0 451.5,294.0 450.5,294.0 449.5,294.0 448.5,294.0 447.5,294.0 446.5,294.0 445.5,294.0 444.5,294.0 443.5,294.0 442.5,294.0 441.5,294.0 440.5,294.0 439.5,294.0 438.5,294.0 437.5,294.0 436.5,294.0 435.5,294.0 434.5,294.0 433.5,294.0 432.5,294.0 431.5,294.0 430.5,294.0 429.5,294.0 428.5,294.0 427.5,294.0 426.5,294.0 425.5,294.0 424.5,294.0 423.5,294.0 422.5,294.0 421.5,294.0 420.5,294.0 419.5,294.0 418.5,294.0 417.5,294.0 416.5,294.0 415.5,294.0 414.5,294.0 413.5,294.0 412.5,294.0 411.5,294.0 410.5,294.0 409.5,294.0 408.5,294.0 407.5,294.0 406.5,294.0 405.5,294.0 404.5,294.0 403.5,294.0 402.5,294.0 401.5,294.0 400.5,294.0 399.5,294.0 398.5,294.0 397.5,294.0 396.5,294.0 395.5,294.0 394.5,294.0 393.5,294.0 392.5,294.0 391.5,294.0 390.5,294.0 389.5,294.0 388.5,294.0 387.5,294.0 386.5,294.0 385.5,294.0 384.5,294.0 383.5,294.0 382.5,294.0 381.5,294.0 380.5,294.0 379.5,294.0 378.5,294.0 377.5,294.0 376.5,294.0 375.5,294.0 374.5,294.0 373.5,294.0 372.5,294.0 371.5,294.0 370.5,294.0 369.5,294.0 368.5,294.0 367.5,294.0 366.5,294.0 365.5,294.0 364.5,294.0 363.5,294.0 362.5,294.0 361.5,294.0 360.5,294.0 359.5,294.0 358.5,294.0 357.5,294.0 356.5,294.0 355.5,294.0 354.5,294.0 353.5,294.0 352.5,294.0 351.5,294.0 350.5,294.0 349.5,294.0 348.5,294.0 347.5,294.0 346.5,294.0 345.5,294.0 344.5,294.0 343.5,294.0 342.5,294.0 341.5,294.0 340.5,294.0 339.5,294.0 338.5,294.0 337.5,294.0 336.5,294.0 335.5,294.0 334.5,294.0 333.5,294.0 332.5,294.0 331.5,294.0 330.5,294.0 329.5,294.0 328.5,294.0 327.5,294.0 326.5,294.0 325.5,294.0 324.5,294.0 323.5,294.0 322.5,294.0 321.5,294.0 320.5,294.0 319.5,294.0 318.5,294.0 317.5,294.0 316.5,294.0 315.5,294.0 314.5,294.0 313.5,294.0 312.5,294.0 311.5,294.0 310.5,294.0 309.5,294.0 308.5,294.0 307.5,294.0 306.5,294.0 305.5,294.0 304.5,294.0 303.5,294.0 302.5,294.0 301.5,294.0 300.5,294.0 299.5,294.0 298.5,294.0 297.5,294.0 296.5,294.0 295.5,294.0 294.5,294.0 293.5,294.0 292.5,294.0 291.5,294.0 290.5,294.0 289.5,294.0 288.5,294.0 287.5,294.0 286.5,294.0 285.5,294.0 284.5,294.0 283.5,294.0 282.5,294.0 281.5,294.0 280.5,294.0 279.5,294.0 278.5,294.0 277.5,294.0 276.5,294.0 275.5,294.0 274.5,294.0 273.5,294.0 272.5,294.0 271.5,294.0 270.5,294.0 269.5,294.0 268.5,294.0 267.5,294.0 266.5,294.0 265.5,294.0 264.5,294.0 263.5,294.0 262.5,294.0 261.5,294.0 260.5,294.0 259.5,294.0 258.5,294.0 257.5,294.0 256.5,294.0 255.5,294.0 254.5,294.0 253.5,294.0 252.5,294.0 251.5,294.0 250.5,294.0 249.5,294.0 248.5,294.0 247.5,294.0 246.5,294.0 245.5,294.0 244.5,294.0 243.5,294.0 242.5,294.0 241.5,294.0 240.5,294.0 239.5,294.0 238.5,294.0 237.5,294.0 236.5,294.0 235.5,294.0 234.5,294.0 233.5,294.0 232.5,294.0 231.5,294.0 230.5,294.0 229.5,294.0 228.5,294.0 227.5,294.0 226.5,294.0 225.5,294.0 224.5,294.0 223.5,294.0 222.5,294.0 221.5,294.0 220.5,294.0 219.5,294.0 218.5,294.0 217.5,294.0 216.5,294.0 215.5,294.0 214.5,294.0 213.5,294.0 212.5,294.0 211.5,294.0 210.5,294.0 209.5,294.0 208.5,294.0 207.5,294.0 206.5,294.0 205.5,294.0 204.5,294.0 203.5,294.0 202.5,294.0 201.5,294.0 200.5,294.0 199.5,294.0 198.5,294.0 197.5,294.0 196.5,294.0 195.5,294.0 194.5,294.0 193.5,294.0 192.5,294.0 191.5,294.0 190.5,294.0 189.5,294.0 188.5,294.0 187.5,294.0 186.5,294.0 185.5,294.0 184.5,294.0 183.5,294.0 182.5,294.0 181.5,294.0 180.5,294.0 179.5,294.0 178.5,294.0 177.5,294.0 176.5,294.0 175.5,294.0 174.5,294.0 173.5,294.0 172.5,294.0 171.5,294.0 170.5,294.0 169.5,294.0 168.5,294.0 167.5,294.0 166.5,294.0 165.5,294.0 164.5,294.0 163.5,294.0 162.5,294.0 161.5,294.0 160.5,294.0 159.5,294.0 158.5,294.0 157.5,294.0 156.5,294.0 155.5,294.0 154.5,294.0 153.5,294.0 152.5,294.0 151.5,294.0 150.5,294.0 149.5,294.0 148.5,294.0 147.5,294.0 146.5,294.0 145.5,294.0 144.5,294.0 143.5,294.0 142.5,294.0 141.5,294.0 140.5,294.0 139.5,294.0 138.5,294.0 137.5,294.0 136.5,294.0 135.5,294.0 134.5,294.0 133.5,294.0 132.5,294.0 131.5,294.0 130.5,294.0 129.5,294.0 128.5,294.0 127.5,294.0 126.5,294.0 125.5,294.0 124.5,294.0 123.5,294.0 122.5,294.0 121.5,294.0 120.5,294.0 119.5,294.0 118.5,294.0 117.5,294.0 116.5,294.0 115.5,294.0 114.5,294.0 113.5,294.0 112.5,294.0 111.5,294.0 110.5,294.0 109.5,294.0 108.5,294.0 107.5,294.0 106.5,294.0 105.5,294.0 104.5,294.0 103.5,294.0 102.5,294.0 101.5,294.0 100.5,294.0 99.5,294.0 98.5,294.0 97.5,294.0 96.5,294.0 95.5,294.0 94.5,294.0 93.5,294.0 92.5,294.0 91.5,294.0 90.5,294.0 89.5,294.0 88.5,294.0 87.5,294.0 86.5,294.0 85.5,294.0 84.5,294.0 83.5,294.0 82.5,294.0 81.5,294.0 80.5,294.0 79.5,294.0 78.5,294.0 77.5,294.0 76.5,294.0 75.5,294.0 74.5,294.0 73.5,294.0 72.5,294.0 71.5,294.0 70.5,294.0 69.5,294.0 68.5,294.0 67.5,294.0 66.5,294.0 65.5,294.0 64.5,294.0 63.5,294.0 62.5,294.0 61.5,294.0 60.5,294.0 59.5,294.0 58.5,294.0 57.5,294.0 56.5,294.0 55.5,294.0 54.5,294.0 53.5,294.0 52.5,294.0 51.5,294.0 50.8,294.0" fill="#3238aa" fill-opacity="0.101"/>
<polygon points="50.8,104.6 51.5,104.6 52.5,104.6 53.5,104.6 54.5,104.7 55.5,104.7 56.5,104.8 57.5,104.8 58.5,104.8 59.5,104.9 60.5,104.9 61.5,104.9 62.5,104.9 63.5,105.0 64.5,105.0 65.5,105.0 66.5,105.1 67.5,105.1 68.5,105.1 69.5,105.1 70.5,105.2 71.5,105.2 72.5,105.2 73.5,105.2 74.5,105.2 75.5,105.2 76.5,105.2 77.5,105.2 78.5,105.2 79.5,105.2 80.5,105.2 81.5,105.2 82.5,105.2 83.5,105.2 84.5,105.1 85.5,105.1 86.5,105.0 87.5,105.0 88.5,104.9 89.5,104.8 90.5,104.8 91.5,104.7 92.5,104.6 93.5,104.5 94.5,104.4 95.5,104.3 96.5,104.1 97.5,104.0 98.5,103.9 99.5,103.7 100.5,103.5 101.5,103.4 102.5,103.2 103.5,103.0 104.5,102.8 105.5,102.5 106.5,102.3 107.5,102.1 108.5,101.8 109.5,101.6 110.5,101.3 111.5,101.0 112.5,100.7 113.5,100.4 114.5,100.1 115.5,99.8 116.5,99.5 117.5,99.1 118.5,98.8 119.5,98.4 120.5,98.1 121.5,97.7 122.5,97.4 123.5,97.0 124.5,96.7 125.5,96.3 126.5,95.9 127.5,95.6 128.5,95.2 129.5,94.8 130.5,94.5 131.5,94.1 132.5,93.8 133.5,93.4 134.5,93.1 135.5,92.7 136.5,92.4 137.5,92.1 138.5,91.7 139.5,91.4 140.5,91.1 141.5,90.7 142.5,90.4 143.5,90.1 144.5,89.8 145.5,89.4 146.5,89.1 147.5,88.8 148.5,88.5 149.5,88.2 150.5,87.9 151.5,87.6 152.5,87.3 153.5,87.0 154.5,86.7 155.5,86.4 156.5,86.1 157.5,85.8 158.5,85.5 159.5,85.2 160.5,84.9 161.5,84.6 162.5,84.3 163.5,84.0 164.5,83.7 165.5,83.4 166.5,83.1 167.5,82.8 168.5,82.5 169.5,82.2 170.5,81.9 171.5,81.6 172.5,81.3 173.5,81.0 174.5,80.7 175.5,80.4 176.5,80.1 177.5,79.8 178.5,79.5 179.5,79.2 180.5,78.9 181.5,78.6 182.5,78.3 183.5,78.0 184.5,77.7 185.5,77.4 186.5,77.1 187.5,76.8 188.5,76.5 189.5,76.2 190.5,75.9 191.5,75.6 192.5,75.3 193.5,75.0 194.5,74.7 195.5,74.4 196.5,74.1 197.5,73.8 198.5,73.5 199.5,73.2 200.5,72.9 201.5,72.6 202.5,72.3 203.5,72.0 204.5,71.8 205.5,71.5 206.5,71.2 207.5,70.9 208.5,70.6 209.5,70.4 210.5,70.1 211.5,69.8 212.5,69.6 213.5,69.3 214.5,69.0 215.5,68.8 216.5,68.5 217.5,68.3 218.5,68.0 219.5,67.8 220.5,67.5 221.5,67.3 222.5,67.1 223.5,66.8 224.5,66.6 225.5,66.4 226.5,66.1 227.5,65.9 228.5,65.7 229.5,65.4 230.5,65.2 231.5,65.0 232.5,64.8 233.5,64.6 234.5,64.4 235.5,64.2 236.5,63.9 237.5,63.7 238.5,63.5 239.5,63.3 240.5,63.1 241.5,62.9 242.5,62.8 243.5,62.6 244.5,62.4 245.5,62.2 246.5,62.0 247.5,61.8 248.5,61.7 249.5,61.5 250.5,61.3 251.5,61.1 252.5,61.0 253.5,60.8 254.5,60.7 255.5,60.5 256.5,60.4 257.5,60.2 258.5,60.1 259.5,59.9 260.5,59.8 261.5,59.6 262.5,59.5 263.5,59.4 264.5,59.2 265.5,59.1 266.5,59.0 267.5,58.9 268.5,58.7 269.5,58.6 270.5,58.5 271.5,58.4 272.5,58.3 273.5,58.1 274.5,58.0 275.5,57.9 276.5,57.8 277.5,57.7 278.5,57.6 279.5,57.5 280.5,57.3 281.5,57.2 282.5,57.1 283.5,57.0 284.5,56.9 285.5,56.8 286.5,56.7 287.5,56.6 288.5,56.5 289.5,56.3 290.5,56.2 291.5,56.1 292.5,56.0 293.5,55.9 294.5,55.8 295.5,55.6 296.5,55.5 297.5,55.4 298.5,55.3 299.5,55.2 300.5,55.0 301.5,54.9 302.5,54.8 303.5,54.7 304.5,54.6 305.5,54.4 306.5,54.3 307.5,54.2 308.5,54.1 309.5,53.9 310.5,53.8 311.5,53.7 312.5,53.6 313.5,53.4 314.5,53.3 315.5,53.2 316.5,53.1 317.5,52.9 318.5,52.8 319.5,52.7 320.5,52.5 321.5,52.4 322.5,52.3 323.5,52.2 324.5,52.0 325.5,51.9 326.5,51.8 327.5,51.7 328.5,51.6 329.5,51.4 330.5,51.3 331.5,51.2 332.5,51.1 333.5,50.9 334.5,50.8 335.5,50.7 336.5,50.6 337.5,50.5 338.5,50.3 339.5,50.2 340.5,50.1 341.5,50.0 342.5,49.9 343.5,49.8 344.5,49.7 345.5,49.5 346.5,49.4 347.5,49.3 348.5,49.2 349.5,49.1 350.5,49.0 351.5,48.9 352.5,48.8 353.5,48.7 354.5,48.6 355.5,48.5 356.5,48.4 357.5,48.3 358.5,48.2 359.5,48.1 360.5,48.0 361.5,47.9 362.5,47.8 363.5,47.7 364.5,47.6 365.5,47.5 366.5,47.4 367.5,47.3 368.5,47.2 369.5,47.1 370.5,47.0 371.5,47.0 372.5,46.9 373.5,46.8 374.5,46.7 375.5,46.6 376.5,46.5 377.5,46.4 378.5,46.3 379.5,46.2 380.5,46.2 381.5,46.1 382.5,46.0 383.5,45.9 384.5,45.8 385.5,45.7 386.5,45.6 387.5,45.5 388.5,45.5 389.5,45.4 390.5,45.3 391.5,45.2 392.5,45.1 393.5,45.0 394.5,44.9 395.5,44.9 396.5,44.8 397.5,44.7 398.5,44.6 399.5,44.5 400.5,44.4 401.5,44.3 402.5,44.2 403.5,44.1 404.5,44.1 405.5,44.0 406.5,43.9 407.5,43.8 408.5,43.7 409.5,43.6 410.5,43.5 411.5,43.4 412.5,43.3 413.5,43.2 414.5,43.1 415.5,43.0 416.5,43.0 417.5,42.9 418.5,42.8 419.5,42.7 420.5,42.6 421.5,42.5 422.5,42.4 423.5,42.3 424.5,42.2 425.5,42.1 426.5,42.0 427.5,41.9 428.5,41.9 429.5,41.8 430.5,41.7 431.5,41.6 432.5,41.5 433.5,41.4 434.5,41.3 435.5,41.2 436.5,41.1 437.5,41.1 438.5,41.0 439.5,40.9 440.5,40.8 441.5,40.7 442.5,40.6 443.5,40.6 444.5,40.5 445.5,40.4 446.5,40.3 447.5,40.2 448.5,40.2 449.5,40.1 450.5,40.0 451.5,39.9 452.5,39.9 453.5,39.8 454.5,39.7 455.5,39.6 456.5,39.6 457.5,39.5 458.5,39.4 459.5,39.3 460.5,39.3 461.5,39.2 462.5,39.1 463.5,39.1 464.5,39.0 465.5,38.9 466.5,38.9 467.5,38.8 468.5,38.7 469.5,38.7 470.5,38.6 471.5,38.5 472.5,38.5 473.5,38.4 474.5,38.4 475.5,38.3 476.5,38.2 477.5,38.2 478.5,38.1 479.5,38.0 480.5,38.0 481.5,37.9 482.5,37.9 483.5,37.8 484.5,37.7 485.5,37.7 486.5,37.6 487.5,37.6 488.5,37.5 489.5,37.4 490.5,37.4 491.5,37.3 492.5,37.2 493.5,37.2 494.5,37.1 495.5,37.1 496.5,37.0 497.5,36.9 498.5,36.9 499.5,36.8 500.5,36.7 501.5,36.7 502.5,36.6 503.5,36.5 504.5,36.5 505.5,36.4 506.5,36.3 507.5,36.3 508.5,36.2 509.5,36.1 510.5,36.1 511.5,36.0 512.5,35.9 513.5,35.9 514.5,35.8 515.5,35.7 516.5,35.7 517.5,35.6 518.5,35.5 519.5,35.5 520.5,35.4 521.5,35.3 522.5,35.3 523.5,35.2 524.5,35.1 525.5,35.0 526.5,35.0 527.5,34.9 528.5,34.8 529.5,34.8 530.5,34.7 531.5,34.6 532.5,34.5 533.5,34.5 534.5,34.4 535.5,34.3 536.5,34.3 537.5,34.2 538.5,34.1 539.5,34.1 540.5,34.0 541.5,33.9 542.5,33.8 543.5,33.8 544.5,33.7 545.5,33.6 546.5,33.6 547.5,33.5 548.5,33.4 549.5,33.3 550.5,33.3 551.5,33.2 552.5,33.1 553.5,33.1 554.5,33.0 555.5,32.9 556.5,32.9 557.5,32.8 558.5,32.7 559.5,32.6 560.5,32.6 561.5,32.5 562.5,32.4 563.5,32.4 564.5,32.3 565.5,32.2 566.5,32.2 567.5,32.1 568.5,32.0 569.5,32.0 570.5,31.9 571.5,31.8 572.5,31.8 573.5,31.7 574.5,31.6 575.5,31.6 576.5,31.5 577.5,31.4 578.5,31.4 579.5,31.3 580.5,31.2 581.5,31.2 582.5,31.1 583.5,31.0 584.5,30.9 585.5,30.9 586.5,30.8 587.5,30.8 588.5,30.7 589.5,30.6 590.5,30.6 591.5,30.5 592.5,30.4 593.5,30.4 594.5,30.3 595.5,30.2 596.5,30.2 597.5,30.1 598.5,30.0 599.5,30.0 600.5,29.9 601.5,29.8 602.5,29.8 603.5,29.7 604.5,29.6 605.5,29.6 606.5,29.5 607.5,29.4 608.5,29.4 609.5,29.3 610.5,29.2 611.5,29.2 612.5,29.1 613.5,29.0 614.5,29.0 615.5,28.9 616.5,28.8 617.5,28.8 618.5,28.7 619.5,28.6 620.5,28.6 621.5,28.5 622.5,28.4 623.5,28.3 624.5,28.3 625.5,28.2 626.5,28.1 627.5,28.0 628.5,28.0 629.5,27.9 630.5,27.8 631.5,27.7 632.5,27.6 633.5,27.6 634.5,27.5 635.5,27.4 636.5,27.3 637.5,27.2 638.5,27.1 639.5,27.0 640.5,27.0 641.5,26.9 642.5,26.8 643.5,26.7 644.5,26.6 645.5,26.5 646.5,26.4 647.5,26.3 648.5,26.2 649.5,26.1 650.5,26.0 651.5,25.9 652.5,25.7 653.5,25.6 654.5,25.5 655.5,25.4 656.5,25.3 657.5,25.2 658.5,25.1 659.5,24.9 660.5,24.8 661.5,24.7 662.5,24.6 663.5,24.5 664.5,24.3 665.5,24.2 666.5,24.1 667.5,24.0 668.5,23.8 669.5,23.7 670.5,23.6 671.5,23.5 672.5,23.3 673.5,23.2 674.5,23.1 674.6,23.1 674.6,58.2 674.5,59.6 673.5,60.6 672.5,59.7 671.5,60.5 670.5,59.0 669.5,61.0 668.5,60.3 667.5,59.8 666.5,60.1 665.5,60.9 664.5,61.0 663.5,60.1 662.5,60.3 661.5,60.1 660.5,60.4 659.5,61.7 658.5,60.9 657.5,61.0 656.5,61.0 655.5,61.2 654.5,61.0 653.5,62.0 652.5,60.4 651.5,60.3 650.5,60.9 649.5,61.6 648.5,61.1 647.5,61.7 646.5,59.9 645.5,61.2 644.5,61.8 643.5,61.2 642.5,61.4 641.5,61.3 640.5,61.1 639.5,62.4 638.5,61.9 637.5,61.2 636.5,61.5 635.5,62.4 634.5,61.4 633.5,62.2 632.5,61.8 631.5,62.7 630.5,62.4 629.5,62.3 628.5,61.9 627.5,61.1 626.5,62.8 625.5,61.5 624.5,62.9 623.5,62.4 622.5,62.4 621.5,63.0 620.5,62.5 619.5,63.6 618.5,62.7 617.5,63.4 616.5,61.7 615.5,62.8 614.5,63.2 613.5,62.5 612.5,63.7 611.5,63.3 610.5,62.8 609.5,63.0 608.5,63.3 607.5,63.2 606.5,63.4 605.5,63.6 604.5,63.5 603.5,63.5 602.5,63.4 601.5,63.3 600.5,64.4 599.5,63.4 598.5,62.9 597.5,63.9 596.5,63.4 595.5,64.3 594.5,64.0 593.5,65.1 592.5,64.3 591.5,65.6 590.5,64.0 589.5,64.5 588.5,64.5 587.5,65.3 586.5,64.3 585.5,65.4 584.5,64.0 583.5,65.2 582.5,65.4 581.5,64.7 580.5,64.6 579.5,65.3 578.5,64.6 577.5,65.1 576.5,65.5 575.5,65.5 574.5,65.1 573.5,64.7 572.5,66.0 571.5,64.7 570.5,65.6 569.5,65.8 568.5,65.1 567.5,65.2 566.5,65.7 565.5,65.7 564.5,65.9 563.5,66.2 562.5,65.8 561.5,66.6 560.5,66.6 559.5,66.7 558.5,65.7 557.5,66.3 556.5,65.8 555.5,66.2 554.5,66.3 553.5,65.9 552.5,66.1 551.5,66.6 550.5,67.5 549.5,65.8 548.5,66.3 547.5,65.0 546.5,65.9 545.5,66.6 544.5,67.0 543.5,67.2 542.5,66.2 541.5,66.0 540.5,65.6 539.5,66.2 538.5,67.0 537.5,67.2 536.5,67.9 535.5,67.1 534.5,66.5 533.5,67.2 532.5,67.1 531.5,66.0 530.5,67.4 529.5,66.5 528.5,67.0 527.5,67.5 526.5,67.1 525.5,67.0 524.5,67.0 523.5,67.9 522.5,67.8 521.5,67.6 520.5,67.0 519.5,67.4 518.5,67.6 517.5,68.6 516.5,68.0 515.5,67.9 514.5,68.5 513.5,68.3 512.5,67.5 511.5,68.5 510.5,67.4 509.5,67.4 508.5,68.1 507.5,67.6 506.5,68.0 505.5,68.0 504.5,69.0 503.5,68.1 502.5,67.7 501.5,68.2 500.5,68.3 499.5,68.0 498.5,68.2 497.5,69.0 496.5,68.6 495.5,68.1 494.5,68.8 493.5,68.1 492.5,68.4 491.5,67.8 490.5,68.6 489.5,68.5 488.5,68.6 487.5,68.5 486.5,69.1 485.5,68.7 484.5,68.3 483.5,68.7 482.5,68.9 481.5,69.2 480.5,69.7 479.5,68.7 478.5,68.8 477.5,69.1 476.5,69.4 475.5,69.9 474.5,69.3 473.5,69.2 472.5,69.3 471.5,69.5 470.5,69.5 469.5,69.8 468.5,70.0 467.5,70.1 466.5,70.4 465.5,69.0 464.5,69.7 463.5,69.6 462.5,70.6 461.5,70.0 460.5,70.2 459.5,70.7 458.5,70.1 457.5,68.4 456.5,69.8 455.5,70.4 454.5,69.9 453.5,70.6 452.5,69.4 451.5,70.8 450.5,71.0 449.5,70.5 448.5,71.4 447.5,71.6 446.5,70.3 445.5,70.9 444.5,70.9 443.5,70.5 442.5,71.6 441.5,70.9 440.5,71.4 439.5,70.8 438.5,71.4 437.5,71.6 436.5,71.8 435.5,71.5 434.5,71.5 433.5,71.6 432.5,71.7 431.5,72.2 430.5,71.3 429.5,71.3 428.5,71.9 427.5,72.5 426.5,71.6 425.5,70.5 424.5,71.2 423.5,71.8 422.5,71.2 421.5,72.2 420.5,72.8 419.5,70.4 418.5,72.4 417.5,72.4 416.5,72.8 415.5,72.3 414.5,71.9 413.5,72.6 412.5,72.6 411.5,73.1 410.5,71.9 409.5,73.8 408.5,73.1 407.5,73.1 406.5,72.7 405.5,73.2 404.5,72.7 403.5,72.7 402.5,73.0 401.5,72.9 400.5,73.6 399.5,73.4 398.5,73.7 397.5,72.8 396.5,73.0 395.5,73.6 394.5,73.1 393.5,73.4 392.5,73.9 391.5,72.6 390.5,74.0 389.5,74.2 388.5,73.2 387.5,73.4 386.5,74.6 385.5,74.3 384.5,73.9 383.5,74.8 382.5,73.7 381.5,74.1 380.5,75.3 379.5,75.6 378.5,75.2 377.5,75.1 376.5,75.3 375.5,74.4 374.5,75.7 373.5,74.9 372.5,75.6 371.5,75.6 370.5,75.7 369.5,75.6 368.5,75.4 367.5,76.0 366.5,76.0 365.5,75.1 364.5,75.5 363.5,76.0 362.5,76.2 361.5,76.5 360.5,76.1 359.5,76.1 358.5,76.1 357.5,76.6 356.5,76.1 355.5,76.3 354.5,74.9 353.5,76.7 352.5,76.5 351.5,77.4 350.5,76.3 349.5,76.4 348.5,77.0 347.5,76.0 346.5,77.4 345.5,76.9 344.5,77.4 343.5,76.7 342.5,77.9 341.5,76.8 340.5,77.4 339.5,76.1 338.5,77.3 337.5,78.6 336.5,78.2 335.5,77.7 334.5,77.4 333.5,79.1 332.5,78.1 331.5,78.0 330.5,78.5 329.5,78.6 328.5,78.9 327.5,78.7 326.5,77.7 325.5,78.9 324.5,79.3 323.5,79.9 322.5,79.0 321.5,80.2 320.5,79.2 319.5,79.6 318.5,79.6 317.5,80.1 316.5,80.0 315.5,80.8 314.5,80.0 313.5,80.5 312.5,80.6 311.5,79.2 310.5,81.6 309.5,81.7 308.5,80.6 307.5,81.5 306.5,81.9 305.5,81.4 304.5,82.2 303.5,81.3 302.5,82.6 301.5,81.4 300.5,82.7 299.5,82.2 298.5,81.9 297.5,83.0 296.5,82.9 295.5,83.4 294.5,83.6 293.5,84.1 292.5,82.6 291.5,84.1 290.5,83.6 289.5,84.3 288.5,84.4 287.5,84.1 286.5,85.0 285.5,85.2 284.5,84.9 283.5,85.1 282.5,85.5 281.5,85.6 280.5,85.4 279.5,85.4 278.5,87.0 277.5,85.5 276.5,85.9 275.5,86.3 274.5,85.7 273.5,86.1 272.5,87.2 271.5,86.6 270.5,87.6 269.5,87.6 268.5,88.2 267.5,87.8 266.5,87.9 265.5,88.3 264.5,88.8 263.5,89.2 262.5,88.7 261.5,89.1 260.5,88.8 259.5,88.2 258.5,89.6 257.5,90.0 256.5,89.9 255.5,90.0 254.5,91.1 253.5,90.5 252.5,90.7 251.5,90.9 250.5,91.6 249.5,92.0 248.5,91.6 247.5,91.3 246.5,91.2 245.5,92.6 244.5,92.2 243.5,92.2 242.5,93.6 241.5,93.7 240.5,93.5 239.5,93.5 238.5,92.8 237.5,94.4 236.5,94.3 235.5,94.9 234.5,94.7 233.5,95.9 232.5,95.8 231.5,95.7 230.5,96.3 229.5,96.1 228.5,96.7 227.5,96.7 226.5,96.3 225.5,97.5 224.5,97.5 223.5,97.3 222.5,97.9 221.5,98.4 220.5,96.5 219.5,99.1 218.5,98.8 217.5,98.5 216.5,99.3 215.5,99.6 214.5,99.7 213.5,99.8 212.5,100.7 211.5,100.5 210.5,100.5 209.5,101.5 208.5,101.1 207.5,101.3 206.5,101.7 205.5,101.7 204.5,102.5 203.5,102.7 202.5,102.8 201.5,102.6 200.5,103.4 199.5,103.8 198.5,104.0 197.5,104.0 196.5,104.5 195.5,104.5 194.5,104.8 193.5,105.1 192.5,105.6 191.5,105.9 190.5,106.4 189.5,106.7 188.5,107.0 187.5,107.5 186.5,107.9 185.5,108.4 184.5,108.8 183.5,109.3 182.5,109.7 181.5,110.2 180.5,110.6 179.5,111.0 178.5,111.4 177.5,111.8 176.5,112.2 175.5,112.6 168.4,115.8 161.7,120.0 158.0,122.8 154.5,126.0 149.6,131.7 144.7,137.6 141.3,142.5 139.3,146.3 137.0,150.2 134.0,155.7 130.8,168.5 128.7,181.3 127.0,198.4 126.1,215.0 125.6,250.0 125.3,294.0 50.8,294.0" fill="#e66440" fill-opacity="0.141"/>
</g>
<g fill="none" stroke-linejoin="round" stroke-linecap="butt">
<polyline points="50.8,145.1 51.5,145.8 52.5,146.9 53.5,148.0 54.5,149.1 55.5,150.1 56.5,151.1 57.5,152.1 58.5,153.1 59.5,154.1 60.5,155.0 61.5,155.9 62.5,156.7 63.5,157.5 64.5,158.3 65.5,159.0 66.5,159.7 67.5,160.4 68.5,161.1 69.5,161.7 70.5,162.3 71.5,162.9 72.5,163.5 73.5,164.0 74.5,164.6 75.5,165.1 76.5,165.5 77.5,166.0 78.5,166.5 79.5,166.9 80.5,167.4 81.5,167.8 82.5,168.2 83.5,168.6 84.5,169.0 85.5,169.4 86.5,169.9 87.5,170.3 88.5,170.6 89.5,171.0 90.5,171.4 91.5,171.8 92.5,172.2 93.5,172.6 94.5,173.0 95.5,173.3 96.5,173.7 97.5,174.1 98.5,174.4 99.5,174.8 100.5,175.1 101.5,175.5 102.5,175.8 103.5,176.1 104.5,176.5 105.5,176.8 106.5,177.1 107.5,177.4 108.5,177.7 109.5,178.0 110.5,178.3 111.5,178.6 112.5,178.9 113.5,179.1 114.5,179.4 115.5,179.6 116.5,179.9 117.5,180.1 118.5,180.4 119.5,180.6 120.5,180.8 121.5,181.0 122.5,181.2 123.5,181.4 124.5,181.6 125.5,181.8 126.5,182.0 127.5,182.2 128.5,182.4 129.5,182.6 130.5,182.8 131.5,182.9 132.5,183.1 133.5,183.3 134.5,183.4 135.5,183.6 136.5,183.7 137.5,183.9 138.5,184.0 139.5,184.2 140.5,184.3 141.5,184.5 142.5,184.6 143.5,184.8 144.5,184.9 145.5,185.0 146.5,185.1 147.5,185.3 148.5,185.4 149.5,185.5 150.5,185.6 151.5,185.7 152.5,185.9 153.5,186.0 154.5,186.1 155.5,186.2 156.5,186.3 157.5,186.4 158.5,186.5 159.5,186.6 160.5,186.7 161.5,186.8 162.5,186.9 163.5,187.0 164.5,187.1 165.5,187.2 166.5,187.2 167.5,187.3 168.5,187.4 169.5,187.5 170.5,187.6 171.5,187.7 172.5,187.7 173.5,187.8 174.5,187.9 175.5,188.0 176.5,188.1 177.5,188.1 178.5,188.2 179.5,188.3 180.5,188.3 181.5,188.4 182.5,188.5 183.5,188.5 184.5,188.6 185.5,188.7 186.5,188.7 187.5,188.8 188.5,188.9 189.5,188.9 190.5,189.0 191.5,189.0 192.5,189.1 193.5,189.2 194.5,189.2 195.5,189.3 196.5,189.3 197.5,189.4 198.5,189.4 199.5,189.5 200.5,189.5 201.5,189.6 202.5,189.6 203.5,189.7 204.5,189.7 205.5,189.8 206.5,189.8 207.5,189.9 208.5,189.9 209.5,189.9 210.5,190.0 211.5,190.0 212.5,190.1 213.5,190.1 214.5,190.1 215.5,190.2 216.5,190.2 217.5,190.2 218.5,190.3 219.5,190.3 220.5,190.3 221.5,190.4 222.5,190.4 223.5,190.4 224.5,190.5 225.5,190.5 226.5,190.5 227.5,190.5 228.5,190.6 229.5,190.6 230.5,190.6 231.5,190.6 232.5,190.7 233.5,190.7 234.5,190.7 235.5,190.7 236.5,190.7 237.5,190.7 238.5,190.8 239.5,190.8 240.5,190.8 241.5,190.8 242.5,190.8 243.5,190.8 244.5,190.8 245.5,190.8 246.5,190.8 247.5,190.8 248.5,190.9 249.5,190.9 250.5,190.9 251.5,190.9 252.5,190.9 253.5,190.9 254.5,190.9 255.5,190.9 256.5,190.9 257.5,190.8 258.5,190.8 259.5,190.8 260.5,190.8 261.5,190.8 262.5,190.8 263.5,190.8 264.5,190.8 265.5,190.8 266.5,190.8 267.5,190.7 268.5,190.7 269.5,190.7 270.5,190.7 271.5,190.7 272.5,190.6 273.5,190.6 274.5,190.6 275.5,190.6 276.5,190.5 277.5,190.5 278.5,190.5 279.5,190.5 280.5,190.4 281.5,190.4 282.5,190.4 283.5,190.3 284.5,190.3 285.5,190.3 286.5,190.2 287.5,190.2 288.5,190.2 289.5,190.1 290.5,190.1 291.5,190.1 292.5,190.0 293.5,190.0 294.5,189.9 295.5,189.9 296.5,189.9 297.5,189.8 298.5,189.8 299.5,189.7 300.5,189.7 301.5,189.7 302.5,189.6 303.5,189.6 304.5,189.5 305.5,189.5 306.5,189.4 307.5,189.4 308.5,189.4 309.5,189.3 310.5,189.3 311.5,189.2 312.5,189.2 313.5,189.1 314.5,189.1 315.5,189.0 316.5,189.0 317.5,189.0 318.5,188.9 319.5,188.9 320.5,188.8 321.5,188.8 322.5,188.7 323.5,188.7 324.5,188.6 325.5,188.6 326.5,188.5 327.5,188.5 328.5,188.4 329.5,188.4 330.5,188.3 331.5,188.3 332.5,188.2 333.5,188.2 334.5,188.1 335.5,188.1 336.5,188.0 337.5,188.0 338.5,187.9 339.5,187.9 340.5,187.8 341.5,187.8 342.5,187.7 343.5,187.7 344.5,187.6 345.5,187.6 346.5,187.5 347.5,187.5 348.5,187.4 349.5,187.3 350.5,187.3 351.5,187.2 352.5,187.2 353.5,187.1 354.5,187.1 355.5,187.0 356.5,186.9 357.5,186.9 358.5,186.8 359.5,186.7 360.5,186.7 361.5,186.6 362.5,186.6 363.5,186.5 364.5,186.4 365.5,186.4 366.5,186.3 367.5,186.2 368.5,186.2 369.5,186.1 370.5,186.0 371.5,185.9 372.5,185.9 373.5,185.8 374.5,185.7 375.5,185.7 376.5,185.6 377.5,185.5 378.5,185.4 379.5,185.3 380.5,185.3 381.5,185.2 382.5,185.1 383.5,185.0 384.5,184.9 385.5,184.9 386.5,184.8 387.5,184.7 388.5,184.6 389.5,184.5 390.5,184.4 391.5,184.3 392.5,184.3 393.5,184.2 394.5,184.1 395.5,184.0 396.5,183.9 397.5,183.8 398.5,183.7 399.5,183.6 400.5,183.5 401.5,183.4 402.5,183.3 403.5,183.2 404.5,183.1 405.5,183.0 406.5,182.9 407.5,182.8 408.5,182.7 409.5,182.6 410.5,182.5 411.5,182.3 412.5,182.2 413.5,182.1 414.5,182.0 415.5,181.9 416.5,181.8 417.5,181.7 418.5,181.6 419.5,181.5 420.5,181.4 421.5,181.3 422.5,181.2 423.5,181.0 424.5,180.9 425.5,180.8 426.5,180.7 427.5,180.6 428.5,180.5 429.5,180.4 430.5,180.3 431.5,180.2 432.5,180.1 433.5,180.0 434.5,179.9 435.5,179.8 436.5,179.7 437.5,179.6 438.5,179.5 439.5,179.4 440.5,179.3 441.5,179.2 442.5,179.1 443.5,179.1 444.5,179.0 445.5,178.9 446.5,178.8 447.5,178.7 448.5,178.6 449.5,178.6 450.5,178.5 451.5,178.4 452.5,178.4 453.5,178.3 454.5,178.2 455.5,178.1 456.5,178.1 457.5,178.0 458.5,178.0 459.5,177.9 460.5,177.8 461.5,177.8 462.5,177.7 463.5,177.7 464.5,177.6 465.5,177.5 466.5,177.5 467.5,177.4 468.5,177.3 469.5,177.3 470.5,177.2 471.5,177.2 472.5,177.1 473.5,177.0 474.5,177.0 475.5,176.9 476.5,176.8 477.5,176.7 478.5,176.7 479.5,176.6 480.5,176.5 481.5,176.4 482.5,176.3 483.5,176.2 484.5,176.2 485.5,176.1 486.5,176.0 487.5,175.9 488.5,175.8 489.5,175.7 490.5,175.6 491.5,175.5 492.5,175.4 493.5,175.3 494.5,175.2 495.5,175.1 496.5,175.0 497.5,175.0 498.5,174.9 499.5,174.8 500.5,174.7 501.5,174.6 502.5,174.6 503.5,174.5 504.5,174.4 505.5,174.3 506.5,174.3 507.5,174.2 508.5,174.2 509.5,174.1 510.5,174.0 511.5,174.0 512.5,173.9 513.5,173.9 514.5,173.8 515.5,173.8 516.5,173.7 517.5,173.7 518.5,173.6 519.5,173.6 520.5,173.5 521.5,173.5 522.5,173.4 523.5,173.4 524.5,173.3 525.5,173.3 526.5,173.2 527.5,173.2 528.5,173.1 529.5,173.1 530.5,173.1 531.5,173.0 532.5,173.0 533.5,172.9 534.5,172.9 535.5,172.8 536.5,172.8 537.5,172.7 538.5,172.7 539.5,172.6 540.5,172.6 541.5,172.5 542.5,172.4 543.5,172.4 544.5,172.3 545.5,172.3 546.5,172.2 547.5,172.1 548.5,172.1 549.5,172.0 550.5,171.9 551.5,171.9 552.5,171.8 553.5,171.7 554.5,171.6 555.5,171.5 556.5,171.5 557.5,171.4 558.5,171.3 559.5,171.2 560.5,171.1 561.5,171.0 562.5,170.9 563.5,170.9 564.5,170.8 565.5,170.7 566.5,170.6 567.5,170.5 568.5,170.4 569.5,170.3 570.5,170.2 571.5,170.1 572.5,170.0 573.5,169.9 574.5,169.8 575.5,169.8 576.5,169.7 577.5,169.6 578.5,169.5 579.5,169.4 580.5,169.3 581.5,169.2 582.5,169.2 583.5,169.1 584.5,169.0 585.5,168.9 586.5,168.9 587.5,168.8 588.5,168.7 589.5,168.7 590.5,168.6 591.5,168.5 592.5,168.5 593.5,168.4 594.5,168.4 595.5,168.3 596.5,168.3 597.5,168.2 598.5,168.2 599.5,168.1 600.5,168.1 601.5,168.1 602.5,168.0 603.5,168.0 604.5,168.0 605.5,167.9 606.5,167.9 607.5,167.9 608.5,167.8 609.5,167.8 610.5,167.8 611.5,167.8 612.5,167.8 613.5,167.7 614.5,167.7 615.5,167.7 616.5,167.7 617.5,167.7 618.5,167.6 619.5,167.6 620.5,167.6 621.5,167.6 622.5,167.6 623.5,167.6 624.5,167.6 625.5,167.5 626.5,167.5 627.5,167.5 628.5,167.5 629.5,167.5 630.5,167.5 631.5,167.5 632.5,167.5 633.5,167.4 634.5,167.4 635.5,167.4 636.5,167.4 637.5,167.4 638.5,167.4 639.5,167.4 640.5,167.3 641.5,167.3 642.5,167.3 643.5,167.3 644.5,167.3 645.5,167.3 646.5,167.3 647.5,167.2 648.5,167.2 649.5,167.2 650.5,167.2 651.5,167.2 652.5,167.2 653.5,167.1 654.5,167.1 655.5,167.1 656.5,167.1 657.5,167.1 658.5,167.1 659.5,167.1 660.5,167.0 661.5,167.0 662.5,167.0 663.5,167.0 664.5,167.0 665.5,167.0 666.5,166.9 667.5,166.9 668.5,166.9 669.5,166.9 670.5,166.9 671.5,166.9 672.5,166.8 673.5,166.8 674.5,166.8 674.6,166.8" stroke="#f49c55" stroke-width="2.0"/>
<polyline points="50.8,176.3 51.5,176.9 52.5,177.8 53.5,178.7 54.5,179.6 55.5,180.4 56.5,181.3 57.5,182.2 58.5,183.0 59.5,183.9 60.5,184.7 61.5,185.5 62.5,186.3 63.5,187.0 64.5,187.8 65.5,188.5 66.5,189.2 67.5,189.9 68.5,190.6 69.5,191.3 70.5,191.9 71.5,192.5 72.5,193.1 73.5,193.7 74.5,194.3 75.5,194.9 76.5,195.4 77.5,195.9 78.5,196.5 79.5,197.0 80.5,197.5 81.5,197.9 82.5,198.4 83.5,198.9 84.5,199.3 85.5,199.7 86.5,200.2 87.5,200.6 88.5,201.0 89.5,201.4 90.5,201.8 91.5,202.2 92.5,202.6 93.5,203.0 94.5,203.3 95.5,203.7 96.5,204.0 97.5,204.4 98.5,204.7 99.5,205.1 100.5,205.4 101.5,205.7 102.5,206.0 103.5,206.3 104.5,206.6 105.5,206.9 106.5,207.2 107.5,207.5 108.5,207.7 109.5,208.0 110.5,208.3 111.5,208.5 112.5,208.8 113.5,209.0 114.5,209.3 115.5,209.5 116.5,209.8 117.5,210.0 118.5,210.2 119.5,210.5 120.5,210.7 121.5,210.9 122.5,211.1 123.5,211.4 124.5,211.6 125.5,211.8 126.5,212.0 127.5,212.2 128.5,212.4 129.5,212.6 130.5,212.8 131.5,213.0 132.5,213.2 133.5,213.4 134.5,213.6 135.5,213.7 136.5,213.9 137.5,214.1 138.5,214.2 139.5,214.4 140.5,214.5 141.5,214.7 142.5,214.8 143.5,215.0 144.5,215.1 145.5,215.3 146.5,215.4 147.5,215.5 148.5,215.7 149.5,215.8 150.5,216.0 151.5,216.1 152.5,216.3 153.5,216.4 154.5,216.5 155.5,216.7 156.5,216.8 157.5,216.9 158.5,217.1 159.5,217.2 160.5,217.3 161.5,217.4 162.5,217.6 163.5,217.7 164.5,217.8 165.5,217.9 166.5,218.0 167.5,218.1 168.5,218.2 169.5,218.3 170.5,218.4 171.5,218.5 172.5,218.6 173.5,218.6 174.5,218.7 175.5,218.8 176.5,218.9 177.5,218.9 178.5,219.0 179.5,219.0 180.5,219.1 181.5,219.2 182.5,219.2 183.5,219.3 184.5,219.3 185.5,219.4 186.5,219.4 187.5,219.5 188.5,219.5 189.5,219.5 190.5,219.6 191.5,219.6 192.5,219.7 193.5,219.7 194.5,219.7 195.5,219.8 196.5,219.8 197.5,219.8 198.5,219.9 199.5,219.9 200.5,219.9 201.5,220.0 202.5,220.0 203.5,220.1 204.5,220.1 205.5,220.1 206.5,220.2 207.5,220.2 208.5,220.2 209.5,220.3 210.5,220.3 211.5,220.3 212.5,220.4 213.5,220.4 214.5,220.5 215.5,220.5 216.5,220.5 217.5,220.6 218.5,220.6 219.5,220.6 220.5,220.6 221.5,220.7 222.5,220.7 223.5,220.7 224.5,220.8 225.5,220.8 226.5,220.8 227.5,220.8 228.5,220.9 229.5,220.9 230.5,220.9 231.5,220.9 232.5,220.9 233.5,221.0 234.5,221.0 235.5,221.0 236.5,221.0 237.5,221.0 238.5,221.0 239.5,221.0 240.5,221.0 241.5,221.1 242.5,221.1 243.5,221.1 244.5,221.1 245.5,221.1 246.5,221.1 247.5,221.1 248.5,221.1 249.5,221.1 250.5,221.1 251.5,221.1 252.5,221.0 253.5,221.0 254.5,221.0 255.5,221.0 256.5,221.0 257.5,221.0 258.5,221.0 259.5,221.0 260.5,221.0 261.5,220.9 262.5,220.9 263.5,220.9 264.5,220.9 265.5,220.9 266.5,220.9 267.5,220.8 268.5,220.8 269.5,220.8 270.5,220.8 271.5,220.8 272.5,220.8 273.5,220.7 274.5,220.7 275.5,220.7 276.5,220.7 277.5,220.6 278.5,220.6 279.5,220.6 280.5,220.6 281.5,220.5 282.5,220.5 283.5,220.5 284.5,220.5 285.5,220.4 286.5,220.4 287.5,220.4 288.5,220.4 289.5,220.3 290.5,220.3 291.5,220.3 292.5,220.3 293.5,220.2 294.5,220.2 295.5,220.2 296.5,220.1 297.5,220.1 298.5,220.1 299.5,220.1 300.5,220.0 301.5,220.0 302.5,220.0 303.5,220.0 304.5,219.9 305.5,219.9 306.5,219.9 307.5,219.8 308.5,219.8 309.5,219.8 310.5,219.8 311.5,219.7 312.5,219.7 313.5,219.7 314.5,219.6 315.5,219.6 316.5,219.6 317.5,219.6 318.5,219.5 319.5,219.5 320.5,219.5 321.5,219.4 322.5,219.4 323.5,219.3 324.5,219.3 325.5,219.3 326.5,219.2 327.5,219.2 328.5,219.1 329.5,219.1 330.5,219.0 331.5,219.0 332.5,218.9 333.5,218.9 334.5,218.8 335.5,218.8 336.5,218.7 337.5,218.7 338.5,218.6 339.5,218.6 340.5,218.5 341.5,218.4 342.5,218.4 343.5,218.3 344.5,218.3 345.5,218.2 346.5,218.1 347.5,218.1 348.5,218.0 349.5,217.9 350.5,217.9 351.5,217.8 352.5,217.7 353.5,217.6 354.5,217.6 355.5,217.5 356.5,217.4 357.5,217.3 358.5,217.2 359.5,217.2 360.5,217.1 361.5,217.0 362.5,216.9 363.5,216.8 364.5,216.8 365.5,216.7 366.5,216.6 367.5,216.5 368.5,216.4 369.5,216.3 370.5,216.2 371.5,216.1 372.5,216.0 373.5,216.0 374.5,215.9 375.5,215.8 376.5,215.7 377.5,215.6 378.5,215.5 379.5,215.4 380.5,215.3 381.5,215.2 382.5,215.1 383.5,215.0 384.5,214.9 385.5,214.8 386.5,214.7 387.5,214.6 388.5,214.5 389.5,214.4 390.5,214.3 391.5,214.2 392.5,214.1 393.5,213.9 394.5,213.8 395.5,213.7 396.5,213.6 397.5,213.5 398.5,213.4 399.5,213.3 400.5,213.2 401.5,213.1 402.5,213.0 403.5,212.9 404.5,212.7 405.5,212.6 406.5,212.5 407.5,212.4 408.5,212.3 409.5,212.2 410.5,212.1 411.5,211.9 412.5,211.8 413.5,211.7 414.5,211.6 415.5,211.5 416.5,211.4 417.5,211.3 418.5,211.1 419.5,211.0 420.5,210.9 421.5,210.8 422.5,210.7 423.5,210.6 424.5,210.4 425.5,210.3 426.5,210.2 427.5,210.1 428.5,210.0 429.5,209.9 430.5,209.7 431.5,209.6 432.5,209.5 433.5,209.4 434.5,209.3 435.5,209.2 436.5,209.0 437.5,208.9 438.5,208.8 439.5,208.7 440.5,208.6 441.5,208.5 442.5,208.4 443.5,208.2 444.5,208.1 445.5,208.0 446.5,207.9 447.5,207.8 448.5,207.7 449.5,207.6 450.5,207.4 451.5,207.3 452.5,207.2 453.5,207.1 454.5,207.0 455.5,206.9 456.5,206.8 457.5,206.7 458.5,206.6 459.5,206.5 460.5,206.4 461.5,206.3 462.5,206.1 463.5,206.0 464.5,205.9 465.5,205.8 466.5,205.7 467.5,205.6 468.5,205.5 469.5,205.4 470.5,205.3 471.5,205.2 472.5,205.1 473.5,205.0 474.5,204.9 475.5,204.8 476.5,204.8 477.5,204.7 478.5,204.6 479.5,204.5 480.5,204.4 481.5,204.3 482.5,204.2 483.5,204.1 484.5,204.0 485.5,203.9 486.5,203.8 487.5,203.8 488.5,203.7 489.5,203.6 490.5,203.5 491.5,203.4 492.5,203.3 493.5,203.2 494.5,203.2 495.5,203.1 496.5,203.0 497.5,202.9 498.5,202.8 499.5,202.7 500.5,202.7 501.5,202.6 502.5,202.5 503.5,202.4 504.5,202.3 505.5,202.3 506.5,202.2 507.5,202.1 508.5,202.0 509.5,202.0 510.5,201.9 511.5,201.8 512.5,201.7 513.5,201.7 514.5,201.6 515.5,201.5 516.5,201.4 517.5,201.4 518.5,201.3 519.5,201.2 520.5,201.2 521.5,201.1 522.5,201.0 523.5,200.9 524.5,200.9 525.5,200.8 526.5,200.7 527.5,200.7 528.5,200.6 529.5,200.5 530.5,200.5 531.5,200.4 532.5,200.3 533.5,200.3 534.5,200.2 535.5,200.1 536.5,200.1 537.5,200.0 538.5,199.9 539.5,199.9 540.5,199.8 541.5,199.7 542.5,199.7 543.5,199.6 544.5,199.5 545.5,199.5 546.5,199.4 547.5,199.4 548.5,199.3 549.5,199.2 550.5,199.2 551.5,199.1 552.5,199.0 553.5,199.0 554.5,198.9 555.5,198.9 556.5,198.8 557.5,198.7 558.5,198.7 559.5,198.6 560.5,198.6 561.5,198.5 562.5,198.4 563.5,198.4 564.5,198.3 565.5,198.2 566.5,198.2 567.5,198.1 568.5,198.1 569.5,198.0 570.5,197.9 571.5,197.9 572.5,197.8 573.5,197.7 574.5,197.7 575.5,197.6 576.5,197.6 577.5,197.5 578.5,197.4 579.5,197.4 580.5,197.3 581.5,197.2 582.5,197.2 583.5,197.1 584.5,197.1 585.5,197.0 586.5,196.9 587.5,196.9 588.5,196.8 589.5,196.7 590.5,196.7 591.5,196.6 592.5,196.5 593.5,196.5 594.5,196.4 595.5,196.3 596.5,196.2 597.5,196.1 598.5,196.1 599.5,196.0 600.5,195.9 601.5,195.7 602.5,195.6 603.5,195.5 604.5,195.4 605.5,195.2 606.5,195.1 607.5,194.9 608.5,194.7 609.5,194.5 610.5,194.3 611.5,194.1 612.5,193.8 613.5,193.6 614.5,193.3 615.5,192.9 616.5,192.6 617.5,192.2 618.5,191.8 619.5,191.4 620.5,190.9 621.5,190.4 622.5,189.8 623.5,189.3 624.5,188.6 625.5,188.0 626.5,187.3 627.5,186.6 628.5,185.8 629.5,185.0 630.5,184.2 631.5,183.3 632.5,182.4 633.5,181.5 634.5,180.5 635.5,179.6 636.5,178.5 637.5,177.5 638.5,176.4 639.5,175.3 640.5,174.2 641.5,173.1 642.5,171.9 643.5,170.8 644.5,169.6 645.5,168.4 646.5,167.1 647.5,165.9 648.5,164.6 649.5,163.4 650.5,162.1 651.5,160.8 652.5,159.5 653.5,158.1 654.5,156.8 655.5,155.5 656.5,154.1 657.5,152.8 658.5,151.5 659.5,150.1 660.5,148.8 661.5,147.4 662.5,146.0 663.5,144.7 664.5,143.3 665.5,142.0 666.5,140.6 667.5,139.2 668.5,137.9 669.5,136.5 670.5,135.1 671.5,133.8 672.5,132.4 673.5,131.0 674.5,129.7 674.6,129.5" stroke="#d6e262" stroke-width="2.1"/>
<polyline points="50.8,213.2 51.5,213.7 52.5,214.2 53.5,214.8 54.5,215.4 55.5,216.0 56.5,216.6 57.5,217.1 58.5,217.7 59.5,218.2 60.5,218.8 61.5,219.3 62.5,219.8 63.5,220.3 64.5,220.8 65.5,221.3 66.5,221.7 67.5,222.2 68.5,222.7 69.5,223.1 70.5,223.5 71.5,223.9 72.5,224.4 73.5,224.8 74.5,225.2 75.5,225.5 76.5,225.9 77.5,226.3 78.5,226.6 79.5,227.0 80.5,227.3 81.5,227.7 82.5,228.0 83.5,228.3 84.5,228.6 85.5,228.9 86.5,229.2 87.5,229.5 88.5,229.8 89.5,230.1 90.5,230.3 91.5,230.6 92.5,230.9 93.5,231.1 94.5,231.4 95.5,231.6 96.5,231.8 97.5,232.0 98.5,232.3 99.5,232.5 100.5,232.7 101.5,232.9 102.5,233.1 103.5,233.3 104.5,233.5 105.5,233.7 106.5,233.8 107.5,234.0 108.5,234.2 109.5,234.3 110.5,234.5 111.5,234.7 112.5,234.8 113.5,235.0 114.5,235.1 115.5,235.3 116.5,235.4 117.5,235.6 118.5,235.7 119.5,235.8 120.5,236.0 121.5,236.1 122.5,236.2 123.5,236.3 124.5,236.5 125.5,236.6 126.5,236.7 127.5,236.8 128.5,236.9 129.5,237.1 130.5,237.2 131.5,237.3 132.5,237.4 133.5,237.5 134.5,237.6 135.5,237.7 136.5,237.8 137.5,237.9 138.5,237.9 139.5,238.0 140.5,238.1 141.5,238.2 142.5,238.3 143.5,238.3 144.5,238.4 145.5,238.5 146.5,238.5 147.5,238.6 148.5,238.6 149.5,238.7 150.5,238.7 151.5,238.8 152.5,238.8 153.5,238.9 154.5,238.9 155.5,238.9 156.5,239.0 157.5,239.0 158.5,239.0 159.5,239.1 160.5,239.1 161.5,239.1 162.5,239.1 163.5,239.1 164.5,239.2 165.5,239.2 166.5,239.2 167.5,239.2 168.5,239.2 169.5,239.2 170.5,239.3 171.5,239.3 172.5,239.3 173.5,239.3 174.5,239.3 175.5,239.3 176.5,239.3 177.5,239.3 178.5,239.3 179.5,239.3 180.5,239.3 181.5,239.3 182.5,239.4 183.5,239.4 184.5,239.4 185.5,239.4 186.5,239.4 187.5,239.4 188.5,239.4 189.5,239.4 190.5,239.4 191.5,239.4 192.5,239.4 193.5,239.3 194.5,239.3 195.5,239.3 196.5,239.3 197.5,239.3 198.5,239.3 199.5,239.3 200.5,239.3 201.5,239.3 202.5,239.3 203.5,239.3 204.5,239.3 205.5,239.2 206.5,239.2 207.5,239.2 208.5,239.2 209.5,239.2 210.5,239.2 211.5,239.2 212.5,239.1 213.5,239.1 214.5,239.1 215.5,239.1 216.5,239.1 217.5,239.0 218.5,239.0 219.5,239.0 220.5,239.0 221.5,239.0 222.5,238.9 223.5,238.9 224.5,238.9 225.5,238.8 226.5,238.8 227.5,238.8 228.5,238.7 229.5,238.7 230.5,238.7 231.5,238.6 232.5,238.6 233.5,238.6 234.5,238.5 235.5,238.5 236.5,238.4 237.5,238.4 238.5,238.3 239.5,238.3 240.5,238.2 241.5,238.2 242.5,238.1 243.5,238.1 244.5,238.0 245.5,238.0 246.5,237.9 247.5,237.9 248.5,237.8 249.5,237.8 250.5,237.7 251.5,237.6 252.5,237.6 253.5,237.5 254.5,237.4 255.5,237.4 256.5,237.3 257.5,237.2 258.5,237.1 259.5,237.1 260.5,237.0 261.5,236.9 262.5,236.8 263.5,236.8 264.5,236.7 265.5,236.6 266.5,236.5 267.5,236.4 268.5,236.3 269.5,236.2 270.5,236.1 271.5,236.0 272.5,236.0 273.5,235.9 274.5,235.8 275.5,235.7 276.5,235.6 277.5,235.5 278.5,235.4 279.5,235.3 280.5,235.1 281.5,235.0 282.5,234.9 283.5,234.8 284.5,234.7 285.5,234.6 286.5,234.5 287.5,234.4 288.5,234.3 289.5,234.2 290.5,234.1 291.5,233.9 292.5,233.8 293.5,233.7 294.5,233.6 295.5,233.5 296.5,233.4 297.5,233.3 298.5,233.2 299.5,233.0 300.5,232.9 301.5,232.8 302.5,232.7 303.5,232.6 304.5,232.5 305.5,232.4 306.5,232.3 307.5,232.2 308.5,232.0 309.5,231.9 310.5,231.8 311.5,231.7 312.5,231.6 313.5,231.5 314.5,231.4 315.5,231.3 316.5,231.2 317.5,231.0 318.5,230.9 319.5,230.8 320.5,230.7 321.5,230.6 322.5,230.5 323.5,230.4 324.5,230.2 325.5,230.1 326.5,230.0 327.5,229.9 328.5,229.8 329.5,229.6 330.5,229.5 331.5,229.4 332.5,229.2 333.5,229.1 334.5,229.0 335.5,228.9 336.5,228.7 337.5,228.6 338.5,228.5 339.5,228.3 340.5,228.2 341.5,228.0 342.5,227.9 343.5,227.8 344.5,227.6 345.5,227.5 346.5,227.3 347.5,227.2 348.5,227.0 349.5,226.9 350.5,226.7 351.5,226.6 352.5,226.5 353.5,226.3 354.5,226.2 355.5,226.0 356.5,225.8 357.5,225.7 358.5,225.5 359.5,225.4 360.5,225.2 361.5,225.1 362.5,224.9 363.5,224.8 364.5,224.6 365.5,224.4 366.5,224.3 367.5,224.1 368.5,224.0 369.5,223.8 370.5,223.6 371.5,223.5 372.5,223.3 373.5,223.2 374.5,223.0 375.5,222.8 376.5,222.7 377.5,222.5 378.5,222.3 379.5,222.2 380.5,222.0 381.5,221.8 382.5,221.7 383.5,221.5 384.5,221.3 385.5,221.2 386.5,221.0 387.5,220.8 388.5,220.7 389.5,220.5 390.5,220.3 391.5,220.2 392.5,220.0 393.5,219.8 394.5,219.7 395.5,219.5 396.5,219.3 397.5,219.1 398.5,219.0 399.5,218.8 400.5,218.6 401.5,218.5 402.5,218.3 403.5,218.1 404.5,218.0 405.5,217.8 406.5,217.6 407.5,217.4 408.5,217.3 409.5,217.1 410.5,216.9 411.5,216.8 412.5,216.6 413.5,216.4 414.5,216.2 415.5,216.1 416.5,215.9 417.5,215.7 418.5,215.6 419.5,215.4 420.5,215.2 421.5,215.0 422.5,214.9 423.5,214.7 424.5,214.5 425.5,214.3 426.5,214.2 427.5,214.0 428.5,213.8 429.5,213.7 430.5,213.5 431.5,213.3 432.5,213.1 433.5,213.0 434.5,212.8 435.5,212.6 436.5,212.4 437.5,212.3 438.5,212.1 439.5,211.9 440.5,211.7 441.5,211.5 442.5,211.4 443.5,211.2 444.5,211.0 445.5,210.8 446.5,210.6 447.5,210.5 448.5,210.3 449.5,210.1 450.5,209.9 451.5,209.7 452.5,209.6 453.5,209.4 454.5,209.2 455.5,209.0 456.5,208.8 457.5,208.7 458.5,208.5 459.5,208.3 460.5,208.1 461.5,207.9 462.5,207.7 463.5,207.5 464.5,207.4 465.5,207.2 466.5,207.0 467.5,206.8 468.5,206.6 469.5,206.4 470.5,206.2 471.5,206.0 472.5,205.8 473.5,205.7 474.5,205.5 475.5,205.3 476.5,205.1 477.5,204.9 478.5,204.7 479.5,204.5 480.5,204.3 481.5,204.1 482.5,203.9 483.5,203.7 484.5,203.5 485.5,203.3 486.5,203.1 487.5,202.9 488.5,202.7 489.5,202.5 490.5,202.3 491.5,202.1 492.5,201.9 493.5,201.7 494.5,201.5 495.5,201.3 496.5,201.1 497.5,200.9 498.5,200.7 499.5,200.5 500.5,200.3 501.5,200.1 502.5,199.9 503.5,199.7 504.5,199.5 505.5,199.3 506.5,199.1 507.5,198.9 508.5,198.6 509.5,198.4 510.5,198.2 511.5,198.0 512.5,197.8 513.5,197.6 514.5,197.4 515.5,197.2 516.5,197.0 517.5,196.8 518.5,196.6 519.5,196.4 520.5,196.2 521.5,196.0 522.5,195.7 523.5,195.5 524.5,195.3 525.5,195.1 526.5,194.9 527.5,194.7 528.5,194.5 529.5,194.3 530.5,194.1 531.5,193.9 532.5,193.7 533.5,193.5 534.5,193.2 535.5,193.0 536.5,192.8 537.5,192.6 538.5,192.4 539.5,192.2 540.5,192.0 541.5,191.8 542.5,191.6 543.5,191.4 544.5,191.2 545.5,191.0 546.5,190.8 547.5,190.6 548.5,190.3 549.5,190.1 550.5,189.9 551.5,189.7 552.5,189.5 553.5,189.3 554.5,189.1 555.5,188.9 556.5,188.7 557.5,188.5 558.5,188.3 559.5,188.1 560.5,187.9 561.5,187.7 562.5,187.5 563.5,187.3 564.5,187.1 565.5,186.9 566.5,186.7 567.5,186.5 568.5,186.3 569.5,186.1 570.5,185.9 571.5,185.7 572.5,185.5 573.5,185.3 574.5,185.1 575.5,184.9 576.5,184.7 577.5,184.5 578.5,184.3 579.5,184.1 580.5,183.9 581.5,183.7 582.5,183.5 583.5,183.3 584.5,183.1 585.5,182.9 586.5,182.7 587.5,182.5 588.5,182.3 589.5,182.1 590.5,181.9 591.5,181.7 592.5,181.5 593.5,181.3 594.5,181.0 595.5,180.8 596.5,180.6 597.5,180.4 598.5,180.2 599.5,180.0 600.5,179.8 601.5,179.6 602.5,179.3 603.5,179.1 604.5,178.9 605.5,178.7 606.5,178.5 607.5,178.3 608.5,178.0 609.5,177.8 610.5,177.6 611.5,177.4 612.5,177.2 613.5,177.0 614.5,176.7 615.5,176.5 616.5,176.3 617.5,176.1 618.5,175.9 619.5,175.6 620.5,175.4 621.5,175.2 622.5,175.0 623.5,174.7 624.5,174.5 625.5,174.3 626.5,174.1 627.5,173.8 628.5,173.6 629.5,173.4 630.5,173.2 631.5,172.9 632.5,172.7 633.5,172.5 634.5,172.3 635.5,172.0 636.5,171.8 637.5,171.5 638.5,171.3 639.5,171.1 640.5,170.8 641.5,170.6 642.5,170.4 643.5,170.1 644.5,169.9 645.5,169.6 646.5,169.4 647.5,169.1 648.5,168.9 649.5,168.6 650.5,168.3 651.5,168.1 652.5,167.8 653.5,167.5 654.5,167.3 655.5,167.0 656.5,166.7 657.5,166.5 658.5,166.2 659.5,165.9 660.5,165.6 661.5,165.4 662.5,165.1 663.5,164.8 664.5,164.5 665.5,164.2 666.5,163.9 667.5,163.7 668.5,163.4 669.5,163.1 670.5,162.8 671.5,162.5 672.5,162.2 673.5,161.9 674.5,161.6 674.6,161.6" stroke="#60a8dc" stroke-width="2.05"/>
<polyline points="50.8,127.8 51.5,128.5 52.5,129.6 53.5,130.6 54.5,131.7 55.5,132.7 56.5,133.7 57.5,134.7 58.5,135.7 59.5,136.6 60.5,137.5 61.5,138.4 62.5,139.3 63.5,140.1 64.5,140.9 65.5,141.7 66.5,142.5 67.5,143.2 68.5,143.9 69.5,144.5 70.5,145.2 71.5,145.8 72.5,146.3 73.5,146.9 74.5,147.4 75.5,147.9 76.5,148.4 77.5,148.9 78.5,149.3 79.5,149.8 80.5,150.2 81.5,150.6 82.5,150.9 83.5,151.3 84.5,151.7 85.5,152.0 86.5,152.3 87.5,152.7 88.5,153.0 89.5,153.3 90.5,153.6 91.5,153.9 92.5,154.2 93.5,154.5 94.5,154.7 95.5,155.0 96.5,155.3 97.5,155.5 98.5,155.8 99.5,156.1 100.5,156.3 101.5,156.6 102.5,156.8 103.5,157.1 104.5,157.3 105.5,157.5 106.5,157.8 107.5,158.0 108.5,158.2 109.5,158.4 110.5,158.7 111.5,158.9 112.5,159.1 113.5,159.3 114.5,159.5 115.5,159.7 116.5,159.9 117.5,160.1 118.5,160.2 119.5,160.4 120.5,160.6 121.5,160.8 122.5,160.9 123.5,161.1 124.5,161.3 125.5,161.4 126.5,161.6 127.5,161.7 128.5,161.9 129.5,162.0 130.5,162.2 131.5,162.3 132.5,162.4 133.5,162.6 134.5,162.7 135.5,162.8 136.5,163.0 137.5,163.1 138.5,163.2 139.5,163.3 140.5,163.4 141.5,163.6 142.5,163.7 143.5,163.8 144.5,163.9 145.5,164.0 146.5,164.1 147.5,164.2 148.5,164.3 149.5,164.4 150.5,164.5 151.5,164.6 152.5,164.7 153.5,164.7 154.5,164.8 155.5,164.9 156.5,165.0 157.5,165.1 158.5,165.2 159.5,165.2 160.5,165.3 161.5,165.4 162.5,165.5 163.5,165.5 164.5,165.6 165.5,165.7 166.5,165.8 167.5,165.8 168.5,165.9 169.5,166.0 170.5,166.0 171.5,166.1 172.5,166.2 173.5,166.2 174.5,166.3 175.5,166.3 176.5,166.4 177.5,166.5 178.5,166.5 179.5,166.6 180.5,166.6 181.5,166.7 182.5,166.7 183.5,166.8 184.5,166.8 185.5,166.9 186.5,166.9 187.5,167.0 188.5,167.0 189.5,167.1 190.5,167.1 191.5,167.2 192.5,167.2 193.5,167.3 194.5,167.3 195.5,167.3 196.5,167.4 197.5,167.4 198.5,167.5 199.5,167.5 200.5,167.5 201.5,167.6 202.5,167.6 203.5,167.7 204.5,167.7 205.5,167.7 206.5,167.8 207.5,167.8 208.5,167.8 209.5,167.9 210.5,167.9 211.5,167.9 212.5,168.0 213.5,168.0 214.5,168.0 215.5,168.0 216.5,168.1 217.5,168.1 218.5,168.1 219.5,168.2 220.5,168.2 221.5,168.2 222.5,168.2 223.5,168.2 224.5,168.3 225.5,168.3 226.5,168.3 227.5,168.3 228.5,168.3 229.5,168.4 230.5,168.4 231.5,168.4 232.5,168.4 233.5,168.4 234.5,168.4 235.5,168.4 236.5,168.5 237.5,168.5 238.5,168.5 239.5,168.5 240.5,168.5 241.5,168.5 242.5,168.5 243.5,168.5 244.5,168.5 245.5,168.5 246.5,168.5 247.5,168.5 248.5,168.5 249.5,168.5 250.5,168.5 251.5,168.5 252.5,168.5 253.5,168.5 254.5,168.5 255.5,168.5 256.5,168.5 257.5,168.5 258.5,168.5 259.5,168.5 260.5,168.5 261.5,168.5 262.5,168.5 263.5,168.4 264.5,168.4 265.5,168.4 266.5,168.4 267.5,168.4 268.5,168.4 269.5,168.3 270.5,168.3 271.5,168.3 272.5,168.3 273.5,168.3 274.5,168.2 275.5,168.2 276.5,168.2 277.5,168.2 278.5,168.1 279.5,168.1 280.5,168.1 281.5,168.0 282.5,168.0 283.5,168.0 284.5,167.9 285.5,167.9 286.5,167.9 287.5,167.8 288.5,167.8 289.5,167.7 290.5,167.7 291.5,167.6 292.5,167.6 293.5,167.6 294.5,167.5 295.5,167.5 296.5,167.4 297.5,167.4 298.5,167.3 299.5,167.3 300.5,167.2 301.5,167.2 302.5,167.1 303.5,167.1 304.5,167.0 305.5,166.9 306.5,166.9 307.5,166.8 308.5,166.8 309.5,166.7 310.5,166.6 311.5,166.6 312.5,166.5 313.5,166.5 314.5,166.4 315.5,166.3 316.5,166.3 317.5,166.2 318.5,166.1 319.5,166.1 320.5,166.0 321.5,165.9 322.5,165.9 323.5,165.8 324.5,165.7 325.5,165.6 326.5,165.6 327.5,165.5 328.5,165.4 329.5,165.3 330.5,165.3 331.5,165.2 332.5,165.1 333.5,165.0 334.5,165.0 335.5,164.9 336.5,164.8 337.5,164.7 338.5,164.6 339.5,164.6 340.5,164.5 341.5,164.4 342.5,164.3 343.5,164.2 344.5,164.1 345.5,164.0 346.5,164.0 347.5,163.9 348.5,163.8 349.5,163.7 350.5,163.6 351.5,163.5 352.5,163.4 353.5,163.3 354.5,163.2 355.5,163.2 356.5,163.1 357.5,163.0 358.5,162.9 359.5,162.8 360.5,162.7 361.5,162.6 362.5,162.5 363.5,162.4 364.5,162.3 365.5,162.2 366.5,162.1 367.5,162.0 368.5,161.9 369.5,161.8 370.5,161.7 371.5,161.6 372.5,161.5 373.5,161.4 374.5,161.3 375.5,161.2 376.5,161.1 377.5,161.0 378.5,160.9 379.5,160.8 380.5,160.7 381.5,160.6 382.5,160.5 383.5,160.4 384.5,160.2 385.5,160.1 386.5,160.0 387.5,159.9 388.5,159.8 389.5,159.7 390.5,159.6 391.5,159.5 392.5,159.4 393.5,159.2 394.5,159.1 395.5,159.0 396.5,158.9 397.5,158.8 398.5,158.7 399.5,158.6 400.5,158.4 401.5,158.3 402.5,158.2 403.5,158.1 404.5,158.0 405.5,157.8 406.5,157.7 407.5,157.6 408.5,157.5 409.5,157.4 410.5,157.2 411.5,157.1 412.5,157.0 413.5,156.9 414.5,156.8 415.5,156.6 416.5,156.5 417.5,156.4 418.5,156.3 419.5,156.2 420.5,156.0 421.5,155.9 422.5,155.8 423.5,155.7 424.5,155.6 425.5,155.4 426.5,155.3 427.5,155.2 428.5,155.1 429.5,155.0 430.5,154.8 431.5,154.7 432.5,154.6 433.5,154.5 434.5,154.4 435.5,154.2 436.5,154.1 437.5,154.0 438.5,153.9 439.5,153.8 440.5,153.7 441.5,153.6 442.5,153.4 443.5,153.3 444.5,153.2 445.5,153.1 446.5,153.0 447.5,152.9 448.5,152.8 449.5,152.7 450.5,152.6 451.5,152.4 452.5,152.3 453.5,152.2 454.5,152.1 455.5,152.0 456.5,151.9 457.5,151.8 458.5,151.7 459.5,151.6 460.5,151.5 461.5,151.4 462.5,151.3 463.5,151.2 464.5,151.1 465.5,151.0 466.5,150.9 467.5,150.8 468.5,150.7 469.5,150.6 470.5,150.5 471.5,150.5 472.5,150.4 473.5,150.3 474.5,150.2 475.5,150.1 476.5,150.0 477.5,149.9 478.5,149.8 479.5,149.7 480.5,149.6 481.5,149.5 482.5,149.4 483.5,149.3 484.5,149.2 485.5,149.1 486.5,149.1 487.5,149.0 488.5,148.9 489.5,148.8 490.5,148.7 491.5,148.6 492.5,148.5 493.5,148.4 494.5,148.3 495.5,148.2 496.5,148.1 497.5,148.0 498.5,147.9 499.5,147.8 500.5,147.7 501.5,147.7 502.5,147.6 503.5,147.5 504.5,147.4 505.5,147.3 506.5,147.2 507.5,147.1 508.5,147.0 509.5,146.9 510.5,146.8 511.5,146.7 512.5,146.6 513.5,146.5 514.5,146.4 515.5,146.3 516.5,146.2 517.5,146.1 518.5,146.0 519.5,145.9 520.5,145.8 521.5,145.7 522.5,145.6 523.5,145.5 524.5,145.4 525.5,145.3 526.5,145.2 527.5,145.1 528.5,144.9 529.5,144.8 530.5,144.7 531.5,144.6 532.5,144.5 533.5,144.4 534.5,144.3 535.5,144.2 536.5,144.1 537.5,144.0 538.5,143.9 539.5,143.8 540.5,143.7 541.5,143.5 542.5,143.4 543.5,143.3 544.5,143.2 545.5,143.1 546.5,143.0 547.5,142.9 548.5,142.8 549.5,142.7 550.5,142.5 551.5,142.4 552.5,142.3 553.5,142.2 554.5,142.1 555.5,142.0 556.5,141.9 557.5,141.7 558.5,141.6 559.5,141.5 560.5,141.4 561.5,141.3 562.5,141.2 563.5,141.0 564.5,140.9 565.5,140.8 566.5,140.7 567.5,140.6 568.5,140.4 569.5,140.3 570.5,140.2 571.5,140.1 572.5,139.9 573.5,139.8 574.5,139.7 575.5,139.6 576.5,139.4 577.5,139.3 578.5,139.2 579.5,139.0 580.5,138.9 581.5,138.8 582.5,138.7 583.5,138.5 584.5,138.4 585.5,138.3 586.5,138.1 587.5,138.0 588.5,137.8 589.5,137.7 590.5,137.6 591.5,137.4 592.5,137.3 593.5,137.1 594.5,137.0 595.5,136.8 596.5,136.7 597.5,136.5 598.5,136.4 599.5,136.2 600.5,136.1 601.5,135.9 602.5,135.7 603.5,135.6 604.5,135.4 605.5,135.2 606.5,135.0 607.5,134.8 608.5,134.6 609.5,134.4 610.5,134.2 611.5,134.0 612.5,133.8 613.5,133.5 614.5,133.3 615.5,133.1 616.5,132.8 617.5,132.6 618.5,132.3 619.5,132.0 620.5,131.7 621.5,131.4 622.5,131.1 623.5,130.7 624.5,130.4 625.5,130.0 626.5,129.6 627.5,129.2 628.5,128.8 629.5,128.3 630.5,127.9 631.5,127.4 632.5,126.9 633.5,126.3 634.5,125.8 635.5,125.2 636.5,124.6 637.5,123.9 638.5,123.3 639.5,122.6 640.5,121.9 641.5,121.2 642.5,120.5 643.5,119.8 644.5,119.0 645.5,118.2 646.5,117.4 647.5,116.6 648.5,115.7 649.5,114.8 650.5,113.9 651.5,113.0 652.5,112.0 653.5,111.0 654.5,110.0 655.5,109.0 656.5,107.9 657.5,106.9 658.5,105.8 659.5,104.7 660.5,103.6 661.5,102.4 662.5,101.3 663.5,100.1 664.5,98.9 665.5,97.7 666.5,96.5 667.5,95.3 668.5,94.0 669.5,92.8 670.5,91.5 671.5,90.2 672.5,88.9 673.5,87.6 674.5,86.3 674.6,86.2" stroke="#adb2b6" stroke-width="1.95"/>
<polyline points="50.8,236.0 51.5,236.0 52.5,235.9 53.5,235.9 54.5,235.9 55.5,235.8 56.5,235.8 57.5,235.7 58.5,235.7 59.5,235.7 60.5,235.6 61.5,235.6 62.5,235.6 63.5,235.5 64.5,235.5 65.5,235.4 66.5,235.4 67.5,235.4 68.5,235.3 69.5,235.3 70.5,235.3 71.5,235.2 72.5,235.2 73.5,235.2 74.5,235.1 75.5,235.1 76.5,235.1 77.5,235.0 78.5,235.0 79.5,235.0 80.5,235.0 81.5,234.9 82.5,234.9 83.5,234.9 84.5,234.8 85.5,234.8 86.5,234.8 87.5,234.8 88.5,234.7 89.5,234.7 90.5,234.7 91.5,234.7 92.5,234.6 93.5,234.6 94.5,234.6 95.5,234.6 96.5,234.5 97.5,234.5 98.5,234.5 99.5,234.5 100.5,234.5 101.5,234.4 102.5,234.4 103.5,234.4 104.5,234.4 105.5,234.3 106.5,234.3 107.5,234.3 108.5,234.3 109.5,234.3 110.5,234.2 111.5,234.2 112.5,234.2 113.5,234.2 114.5,234.2 115.5,234.1 116.5,234.1 117.5,234.1 118.5,234.0 119.5,234.0 120.5,234.0 121.5,234.0 122.5,233.9 123.5,233.9 124.5,233.9 125.5,233.8 126.5,233.8 127.5,233.8 128.5,233.7 129.5,233.7 130.5,233.7 131.5,233.6 132.5,233.6 133.5,233.5 134.5,233.5 135.5,233.5 136.5,233.4 137.5,233.4 138.5,233.3 139.5,233.3 140.5,233.2 141.5,233.2 142.5,233.1 143.5,233.1 144.5,233.0 145.5,233.0 146.5,232.9 147.5,232.9 148.5,232.8 149.5,232.7 150.5,232.7 151.5,232.6 152.5,232.6 153.5,232.5 154.5,232.4 155.5,232.4 156.5,232.3 157.5,232.3 158.5,232.2 159.5,232.2 160.5,232.1 161.5,232.0 162.5,232.0 163.5,231.9 164.5,231.9 165.5,231.8 166.5,231.8 167.5,231.7 168.5,231.6 169.5,231.6 170.5,231.5 171.5,231.5 172.5,231.4 173.5,231.4 174.5,231.4 175.5,231.3 176.5,231.3 177.5,231.2 178.5,231.2 179.5,231.1 180.5,231.1 181.5,231.1 182.5,231.0 183.5,231.0 184.5,230.9 185.5,230.9 186.5,230.9 187.5,230.8 188.5,230.8 189.5,230.8 190.5,230.7 191.5,230.7 192.5,230.6 193.5,230.6 194.5,230.6 195.5,230.5 196.5,230.5 197.5,230.5 198.5,230.4 199.5,230.4 200.5,230.4 201.5,230.3 202.5,230.3 203.5,230.3 204.5,230.2 205.5,230.2 206.5,230.1 207.5,230.1 208.5,230.1 209.5,230.0 210.5,230.0 211.5,230.0 212.5,229.9 213.5,229.9 214.5,229.8 215.5,229.8 216.5,229.8 217.5,229.7 218.5,229.7 219.5,229.6 220.5,229.6 221.5,229.6 222.5,229.5 223.5,229.5 224.5,229.4 225.5,229.4 226.5,229.4 227.5,229.3 228.5,229.3 229.5,229.2 230.5,229.2 231.5,229.1 232.5,229.1 233.5,229.1 234.5,229.0 235.5,229.0 236.5,228.9 237.5,228.9 238.5,228.8 239.5,228.8 240.5,228.7 241.5,228.7 242.5,228.7 243.5,228.6 244.5,228.6 245.5,228.5 246.5,228.5 247.5,228.4 248.5,228.4 249.5,228.3 250.5,228.3 251.5,228.2 252.5,228.2 253.5,228.1 254.5,228.1 255.5,228.0 256.5,228.0 257.5,227.9 258.5,227.9 259.5,227.8 260.5,227.8 261.5,227.7 262.5,227.7 263.5,227.6 264.5,227.6 265.5,227.5 266.5,227.5 267.5,227.4 268.5,227.4 269.5,227.3 270.5,227.3 271.5,227.2 272.5,227.2 273.5,227.1 274.5,227.1 275.5,227.0 276.5,227.0 277.5,226.9 278.5,226.9 279.5,226.8 280.5,226.8 281.5,226.7 282.5,226.7 283.5,226.6 284.5,226.6 285.5,226.5 286.5,226.4 287.5,226.4 288.5,226.3 289.5,226.3 290.5,226.2 291.5,226.2 292.5,226.1 293.5,226.1 294.5,226.0 295.5,226.0 296.5,225.9 297.5,225.9 298.5,225.8 299.5,225.8 300.5,225.7 301.5,225.7 302.5,225.6 303.5,225.6 304.5,225.5 305.5,225.5 306.5,225.4 307.5,225.4 308.5,225.3 309.5,225.3 310.5,225.2 311.5,225.2 312.5,225.1 313.5,225.1 314.5,225.0 315.5,225.0 316.5,224.9 317.5,224.9 318.5,224.8 319.5,224.8 320.5,224.7 321.5,224.7 322.5,224.6 323.5,224.6 324.5,224.5 325.5,224.5 326.5,224.5 327.5,224.4 328.5,224.4 329.5,224.3 330.5,224.3 331.5,224.2 332.5,224.2 333.5,224.2 334.5,224.1 335.5,224.1 336.5,224.0 337.5,224.0 338.5,224.0 339.5,223.9 340.5,223.9 341.5,223.9 342.5,223.8 343.5,223.8 344.5,223.7 345.5,223.7 346.5,223.7 347.5,223.6 348.5,223.6 349.5,223.6 350.5,223.5 351.5,223.5 352.5,223.5 353.5,223.4 354.5,223.4 355.5,223.4 356.5,223.4 357.5,223.3 358.5,223.3 359.5,223.3 360.5,223.2 361.5,223.2 362.5,223.2 363.5,223.1 364.5,223.1 365.5,223.1 366.5,223.1 367.5,223.0 368.5,223.0 369.5,223.0 370.5,222.9 371.5,222.9 372.5,222.9 373.5,222.9 374.5,222.8 375.5,222.8 376.5,222.8 377.5,222.8 378.5,222.7 379.5,222.7 380.5,222.7 381.5,222.7 382.5,222.6 383.5,222.6 384.5,222.6 385.5,222.6 386.5,222.5 387.5,222.5 388.5,222.5 389.5,222.5 390.5,222.4 391.5,222.4 392.5,222.4 393.5,222.4 394.5,222.3 395.5,222.3 396.5,222.3 397.5,222.2 398.5,222.2 399.5,222.2 400.5,222.2 401.5,222.1 402.5,222.1 403.5,222.1 404.5,222.1 405.5,222.0 406.5,222.0 407.5,222.0 408.5,222.0 409.5,221.9 410.5,221.9 411.5,221.9 412.5,221.9 413.5,221.8 414.5,221.8 415.5,221.8 416.5,221.8 417.5,221.7 418.5,221.7 419.5,221.7 420.5,221.6 421.5,221.6 422.5,221.6 423.5,221.6 424.5,221.5 425.5,221.5 426.5,221.5 427.5,221.4 428.5,221.4 429.5,221.4 430.5,221.3 431.5,221.3 432.5,221.3 433.5,221.3 434.5,221.2 435.5,221.2 436.5,221.2 437.5,221.1 438.5,221.1 439.5,221.1 440.5,221.0 441.5,221.0 442.5,221.0 443.5,220.9 444.5,220.9 445.5,220.9 446.5,220.8 447.5,220.8 448.5,220.8 449.5,220.7 450.5,220.7 451.5,220.7 452.5,220.6 453.5,220.6 454.5,220.6 455.5,220.5 456.5,220.5 457.5,220.4 458.5,220.4 459.5,220.4 460.5,220.3 461.5,220.3 462.5,220.2 463.5,220.2 464.5,220.2 465.5,220.1 466.5,220.1 467.5,220.0 468.5,220.0 469.5,220.0 470.5,219.9 471.5,219.9 472.5,219.8 473.5,219.8 474.5,219.7 475.5,219.7 476.5,219.7 477.5,219.6 478.5,219.6 479.5,219.5 480.5,219.5 481.5,219.4 482.5,219.4 483.5,219.3 484.5,219.3 485.5,219.2 486.5,219.2 487.5,219.1 488.5,219.1 489.5,219.0 490.5,219.0 491.5,218.9 492.5,218.9 493.5,218.8 494.5,218.8 495.5,218.7 496.5,218.7 497.5,218.6 498.5,218.6 499.5,218.5 500.5,218.4 501.5,218.4 502.5,218.3 503.5,218.3 504.5,218.2 505.5,218.2 506.5,218.1 507.5,218.1 508.5,218.0 509.5,217.9 510.5,217.9 511.5,217.8 512.5,217.8 513.5,217.7 514.5,217.7 515.5,217.6 516.5,217.5 517.5,217.5 518.5,217.4 519.5,217.4 520.5,217.3 521.5,217.2 522.5,217.2 523.5,217.1 524.5,217.1 525.5,217.0 526.5,216.9 527.5,216.9 528.5,216.8 529.5,216.8 530.5,216.7 531.5,216.7 532.5,216.6 533.5,216.5 534.5,216.5 535.5,216.4 536.5,216.4 537.5,216.3 538.5,216.2 539.5,216.2 540.5,216.1 541.5,216.1 542.5,216.0 543.5,215.9 544.5,215.9 545.5,215.8 546.5,215.8 547.5,215.7 548.5,215.7 549.5,215.6 550.5,215.5 551.5,215.5 552.5,215.4 553.5,215.4 554.5,215.3 555.5,215.3 556.5,215.2 557.5,215.1 558.5,215.1 559.5,215.0 560.5,215.0 561.5,214.9 562.5,214.9 563.5,214.8 564.5,214.8 565.5,214.7 566.5,214.7 567.5,214.6 568.5,214.5 569.5,214.5 570.5,214.4 571.5,214.4 572.5,214.3 573.5,214.3 574.5,214.2 575.5,214.2 576.5,214.1 577.5,214.1 578.5,214.0 579.5,214.0 580.5,213.9 581.5,213.9 582.5,213.8 583.5,213.8 584.5,213.7 585.5,213.7 586.5,213.6 587.5,213.6 588.5,213.5 589.5,213.5 590.5,213.4 591.5,213.4 592.5,213.3 593.5,213.3 594.5,213.2 595.5,213.2 596.5,213.1 597.5,213.1 598.5,213.0 599.5,213.0 600.5,212.9 601.5,212.9 602.5,212.8 603.5,212.8 604.5,212.7 605.5,212.7 606.5,212.6 607.5,212.6 608.5,212.6 609.5,212.5 610.5,212.5 611.5,212.4 612.5,212.4 613.5,212.3 614.5,212.3 615.5,212.2 616.5,212.2 617.5,212.1 618.5,212.1 619.5,212.0 620.5,212.0 621.5,211.9 622.5,211.9 623.5,211.8 624.5,211.8 625.5,211.7 626.5,211.7 627.5,211.6 628.5,211.6 629.5,211.5 630.5,211.5 631.5,211.4 632.5,211.4 633.5,211.3 634.5,211.3 635.5,211.2 636.5,211.2 637.5,211.1 638.5,211.1 639.5,211.0 640.5,211.0 641.5,210.9 642.5,210.9 643.5,210.8 644.5,210.8 645.5,210.7 646.5,210.7 647.5,210.6 648.5,210.6 649.5,210.5 650.5,210.5 651.5,210.4 652.5,210.4 653.5,210.4 654.5,210.3 655.5,210.3 656.5,210.2 657.5,210.2 658.5,210.1 659.5,210.1 660.5,210.0 661.5,210.0 662.5,209.9 663.5,209.9 664.5,209.8 665.5,209.8 666.5,209.7 667.5,209.7 668.5,209.6 669.5,209.6 670.5,209.5 671.5,209.5 672.5,209.4 673.5,209.4 674.5,209.3 674.6,209.3" stroke="#2e4da4" stroke-width="2.0"/>
<polyline points="50.8,125.1 51.5,125.1 52.5,125.1 53.5,125.2 54.5,125.2 55.5,125.2 56.5,125.2 57.5,125.3 58.5,125.3 59.5,125.3 60.5,125.3 61.5,125.3 62.5,125.4 63.5,125.4 64.5,125.4 65.5,125.4 66.5,125.4 67.5,125.4 68.5,125.5 69.5,125.5 70.5,125.5 71.5,125.5 72.5,125.5 73.5,125.5 74.5,125.4 75.5,125.4 76.5,125.4 77.5,125.4 78.5,125.3 79.5,125.3 80.5,125.2 81.5,125.2 82.5,125.1 83.5,125.0 84.5,124.9 85.5,124.8 86.5,124.7 87.5,124.6 88.5,124.4 89.5,124.3 90.5,124.1 91.5,123.9 92.5,123.8 93.5,123.5 94.5,123.3 95.5,123.1 96.5,122.9 97.5,122.6 98.5,122.3 99.5,122.1 100.5,121.8 101.5,121.4 102.5,121.1 103.5,120.8 104.5,120.4 105.5,120.1 106.5,119.7 107.5,119.3 108.5,118.9 109.5,118.5 110.5,118.1 111.5,117.7 112.5,117.3 113.5,116.8 114.5,116.4 115.5,115.9 116.5,115.5 117.5,115.0 118.5,114.6 119.5,114.1 120.5,113.6 121.5,113.2 122.5,112.7 123.5,112.2 124.5,111.7 125.5,111.3 126.5,110.8 127.5,110.3 128.5,109.8 129.5,109.4 130.5,108.9 131.5,108.4 132.5,107.9 133.5,107.5 134.5,107.0 135.5,106.5 136.5,106.0 137.5,105.6 138.5,105.1 139.5,104.6 140.5,104.2 141.5,103.7 142.5,103.2 143.5,102.8 144.5,102.3 145.5,101.8 146.5,101.4 147.5,100.9 148.5,100.5 149.5,100.0 150.5,99.6 151.5,99.2 152.5,98.7 153.5,98.3 154.5,97.9 155.5,97.5 156.5,97.0 157.5,96.6 158.5,96.2 159.5,95.8 160.5,95.4 161.5,95.1 162.5,94.7 163.5,94.3 164.5,93.9 165.5,93.6 166.5,93.2 167.5,92.9 168.5,92.5 169.5,92.2 170.5,91.8 171.5,91.5 172.5,91.2 173.5,90.9 174.5,90.6 175.5,90.2 176.5,89.9 177.5,89.6 178.5,89.3 179.5,89.0 180.5,88.8 181.5,88.5 182.5,88.2 183.5,87.9 184.5,87.6 185.5,87.3 186.5,87.1 187.5,86.8 188.5,86.5 189.5,86.2 190.5,85.9 191.5,85.7 192.5,85.4 193.5,85.1 194.5,84.8 195.5,84.6 196.5,84.3 197.5,84.0 198.5,83.8 199.5,83.5 200.5,83.2 201.5,83.0 202.5,82.7 203.5,82.4 204.5,82.2 205.5,81.9 206.5,81.6 207.5,81.4 208.5,81.1 209.5,80.9 210.5,80.6 211.5,80.3 212.5,80.1 213.5,79.8 214.5,79.6 215.5,79.3 216.5,79.1 217.5,78.8 218.5,78.6 219.5,78.3 220.5,78.1 221.5,77.8 222.5,77.6 223.5,77.4 224.5,77.1 225.5,76.9 226.5,76.7 227.5,76.4 228.5,76.2 229.5,76.0 230.5,75.7 231.5,75.5 232.5,75.3 233.5,75.1 234.5,74.9 235.5,74.6 236.5,74.4 237.5,74.2 238.5,74.0 239.5,73.8 240.5,73.6 241.5,73.4 242.5,73.2 243.5,73.0 244.5,72.8 245.5,72.6 246.5,72.4 247.5,72.3 248.5,72.1 249.5,71.9 250.5,71.7 251.5,71.5 252.5,71.4 253.5,71.2 254.5,71.0 255.5,70.9 256.5,70.7 257.5,70.5 258.5,70.4 259.5,70.2 260.5,70.1 261.5,69.9 262.5,69.7 263.5,69.6 264.5,69.4 265.5,69.3 266.5,69.2 267.5,69.0 268.5,68.9 269.5,68.7 270.5,68.6 271.5,68.4 272.5,68.3 273.5,68.2 274.5,68.0 275.5,67.9 276.5,67.8 277.5,67.6 278.5,67.5 279.5,67.4 280.5,67.2 281.5,67.1 282.5,67.0 283.5,66.8 284.5,66.7 285.5,66.6 286.5,66.5 287.5,66.3 288.5,66.2 289.5,66.1 290.5,66.0 291.5,65.9 292.5,65.7 293.5,65.6 294.5,65.5 295.5,65.4 296.5,65.3 297.5,65.2 298.5,65.0 299.5,64.9 300.5,64.8 301.5,64.7 302.5,64.6 303.5,64.5 304.5,64.4 305.5,64.3 306.5,64.2 307.5,64.1 308.5,64.0 309.5,63.8 310.5,63.7 311.5,63.6 312.5,63.5 313.5,63.4 314.5,63.3 315.5,63.2 316.5,63.1 317.5,63.0 318.5,62.9 319.5,62.8 320.5,62.7 321.5,62.6 322.5,62.5 323.5,62.4 324.5,62.3 325.5,62.2 326.5,62.1 327.5,62.0 328.5,61.9 329.5,61.8 330.5,61.7 331.5,61.6 332.5,61.5 333.5,61.4 334.5,61.3 335.5,61.2 336.5,61.1 337.5,61.0 338.5,60.9 339.5,60.8 340.5,60.7 341.5,60.6 342.5,60.5 343.5,60.4 344.5,60.3 345.5,60.2 346.5,60.1 347.5,60.0 348.5,59.9 349.5,59.8 350.5,59.7 351.5,59.6 352.5,59.5 353.5,59.4 354.5,59.3 355.5,59.2 356.5,59.1 357.5,59.0 358.5,58.8 359.5,58.7 360.5,58.6 361.5,58.5 362.5,58.4 363.5,58.3 364.5,58.2 365.5,58.1 366.5,58.0 367.5,57.9 368.5,57.8 369.5,57.7 370.5,57.5 371.5,57.4 372.5,57.3 373.5,57.2 374.5,57.1 375.5,57.0 376.5,56.9 377.5,56.8 378.5,56.7 379.5,56.6 380.5,56.5 381.5,56.3 382.5,56.2 383.5,56.1 384.5,56.0 385.5,55.9 386.5,55.8 387.5,55.7 388.5,55.6 389.5,55.5 390.5,55.4 391.5,55.3 392.5,55.2 393.5,55.1 394.5,55.0 395.5,54.9 396.5,54.8 397.5,54.7 398.5,54.6 399.5,54.5 400.5,54.4 401.5,54.3 402.5,54.2 403.5,54.1 404.5,54.0 405.5,53.9 406.5,53.8 407.5,53.7 408.5,53.6 409.5,53.5 410.5,53.5 411.5,53.4 412.5,53.3 413.5,53.2 414.5,53.1 415.5,53.0 416.5,52.9 417.5,52.8 418.5,52.8 419.5,52.7 420.5,52.6 421.5,52.5 422.5,52.4 423.5,52.3 424.5,52.3 425.5,52.2 426.5,52.1 427.5,52.0 428.5,51.9 429.5,51.8 430.5,51.8 431.5,51.7 432.5,51.6 433.5,51.5 434.5,51.5 435.5,51.4 436.5,51.3 437.5,51.2 438.5,51.1 439.5,51.1 440.5,51.0 441.5,50.9 442.5,50.8 443.5,50.8 444.5,50.7 445.5,50.6 446.5,50.6 447.5,50.5 448.5,50.4 449.5,50.3 450.5,50.3 451.5,50.2 452.5,50.1 453.5,50.0 454.5,50.0 455.5,49.9 456.5,49.8 457.5,49.8 458.5,49.7 459.5,49.6 460.5,49.5 461.5,49.5 462.5,49.4 463.5,49.3 464.5,49.3 465.5,49.2 466.5,49.1 467.5,49.0 468.5,49.0 469.5,48.9 470.5,48.8 471.5,48.8 472.5,48.7 473.5,48.6 474.5,48.6 475.5,48.5 476.5,48.4 477.5,48.4 478.5,48.3 479.5,48.2 480.5,48.1 481.5,48.1 482.5,48.0 483.5,47.9 484.5,47.9 485.5,47.8 486.5,47.7 487.5,47.7 488.5,47.6 489.5,47.5 490.5,47.5 491.5,47.4 492.5,47.3 493.5,47.2 494.5,47.2 495.5,47.1 496.5,47.0 497.5,47.0 498.5,46.9 499.5,46.8 500.5,46.8 501.5,46.7 502.5,46.6 503.5,46.6 504.5,46.5 505.5,46.4 506.5,46.3 507.5,46.3 508.5,46.2 509.5,46.1 510.5,46.1 511.5,46.0 512.5,45.9 513.5,45.8 514.5,45.8 515.5,45.7 516.5,45.6 517.5,45.6 518.5,45.5 519.5,45.4 520.5,45.4 521.5,45.3 522.5,45.2 523.5,45.1 524.5,45.1 525.5,45.0 526.5,44.9 527.5,44.8 528.5,44.8 529.5,44.7 530.5,44.6 531.5,44.6 532.5,44.5 533.5,44.4 534.5,44.3 535.5,44.3 536.5,44.2 537.5,44.1 538.5,44.0 539.5,44.0 540.5,43.9 541.5,43.8 542.5,43.7 543.5,43.7 544.5,43.6 545.5,43.5 546.5,43.5 547.5,43.4 548.5,43.3 549.5,43.2 550.5,43.2 551.5,43.1 552.5,43.0 553.5,42.9 554.5,42.8 555.5,42.8 556.5,42.7 557.5,42.6 558.5,42.5 559.5,42.5 560.5,42.4 561.5,42.3 562.5,42.2 563.5,42.2 564.5,42.1 565.5,42.0 566.5,41.9 567.5,41.9 568.5,41.8 569.5,41.7 570.5,41.6 571.5,41.5 572.5,41.5 573.5,41.4 574.5,41.3 575.5,41.2 576.5,41.2 577.5,41.1 578.5,41.0 579.5,40.9 580.5,40.9 581.5,40.8 582.5,40.7 583.5,40.6 584.5,40.6 585.5,40.5 586.5,40.4 587.5,40.3 588.5,40.3 589.5,40.2 590.5,40.1 591.5,40.0 592.5,40.0 593.5,39.9 594.5,39.8 595.5,39.7 596.5,39.7 597.5,39.6 598.5,39.5 599.5,39.5 600.5,39.4 601.5,39.3 602.5,39.3 603.5,39.2 604.5,39.1 605.5,39.0 606.5,39.0 607.5,38.9 608.5,38.8 609.5,38.8 610.5,38.7 611.5,38.6 612.5,38.6 613.5,38.5 614.5,38.4 615.5,38.4 616.5,38.3 617.5,38.2 618.5,38.2 619.5,38.1 620.5,38.0 621.5,38.0 622.5,37.9 623.5,37.8 624.5,37.8 625.5,37.7 626.5,37.6 627.5,37.6 628.5,37.5 629.5,37.4 630.5,37.3 631.5,37.3 632.5,37.2 633.5,37.1 634.5,37.1 635.5,37.0 636.5,36.9 637.5,36.9 638.5,36.8 639.5,36.7 640.5,36.7 641.5,36.6 642.5,36.5 643.5,36.4 644.5,36.4 645.5,36.3 646.5,36.2 647.5,36.1 648.5,36.1 649.5,36.0 650.5,35.9 651.5,35.8 652.5,35.8 653.5,35.7 654.5,35.6 655.5,35.5 656.5,35.5 657.5,35.4 658.5,35.3 659.5,35.2 660.5,35.2 661.5,35.1 662.5,35.0 663.5,34.9 664.5,34.8 665.5,34.8 666.5,34.7 667.5,34.6 668.5,34.5 669.5,34.4 670.5,34.4 671.5,34.3 672.5,34.2 673.5,34.1 674.5,34.0 674.6,34.0" stroke="#e6382b" stroke-width="2.0"/>
</g>
<g stroke="#2b2b2b" fill="none">
<path d="M50.8,19.7 V294.3 H676.3" stroke-width="1.2" stroke-linejoin="miter" stroke-linecap="square"/>
<path d="M51.00,294.3 v-5.2" stroke-width="1.0"/>
<path d="M207.25,294.3 v-5.2" stroke-width="1.0"/>
<path d="M363.50,294.3 v-5.2" stroke-width="1.0"/>
<path d="M519.75,294.3 v-5.2" stroke-width="1.0"/>
<path d="M676.00,294.3 v-5.2" stroke-width="1.0"/>
<path d="M50.8,294.50 h5.4" stroke-width="1.0"/>
<path d="M50.8,242.50 h5.4" stroke-width="1.0"/>
<path d="M50.8,190.50 h5.4" stroke-width="1.0"/>
<path d="M50.8,138.50 h5.4" stroke-width="1.0"/>
<path d="M50.8,87.50 h5.4" stroke-width="1.0"/>
<path d="M50.8,35.50 h5.4" stroke-width="1.0"/>
<path d="M50.8,278.50 h2.9" stroke-width="0.7"/>
<path d="M50.8,269.50 h2.9" stroke-width="0.7"/>
<path d="M50.8,262.50 h2.9" stroke-width="0.7"/>
<path d="M50.8,257.50 h2.9" stroke-width="0.7"/>
<path d="M50.8,253.50 h2.9" stroke-width="0.7"/>
<path d="M50.8,250.50 h2.9" stroke-width="0.7"/>
<path d="M50.8,247.50 h2.9" stroke-width="0.7"/>
<path d="M50.8,244.50 h2.9" stroke-width="0.7"/>
<path d="M50.8,226.50 h2.9" stroke-width="0.7"/>
<path d="M50.8,217.50 h2.9" stroke-width="0.7"/>
<path d="M50.8,211.50 h2.9" stroke-width="0.7"/>
<path d="M50.8,206.50 h2.9" stroke-width="0.7"/>
<path d="M50.8,202.50 h2.9" stroke-width="0.7"/>
<path d="M50.8,198.50 h2.9" stroke-width="0.7"/>
<path d="M50.8,195.50 h2.9" stroke-width="0.7"/>
<path d="M50.8,192.50 h2.9" stroke-width="0.7"/>
<path d="M50.8,175.50 h2.9" stroke-width="0.7"/>
<path d="M50.8,165.50 h2.9" stroke-width="0.7"/>
<path d="M50.8,159.50 h2.9" stroke-width="0.7"/>
<path d="M50.8,154.50 h2.9" stroke-width="0.7"/>
<path d="M50.8,150.50 h2.9" stroke-width="0.7"/>
<path d="M50.8,146.50 h2.9" stroke-width="0.7"/>
<path d="M50.8,143.50 h2.9" stroke-width="0.7"/>
<path d="M50.8,141.50 h2.9" stroke-width="0.7"/>
<path d="M50.8,123.50 h2.9" stroke-width="0.7"/>
<path d="M50.8,114.50 h2.9" stroke-width="0.7"/>
<path d="M50.8,107.50 h2.9" stroke-width="0.7"/>
<path d="M50.8,102.50 h2.9" stroke-width="0.7"/>
<path d="M50.8,98.50 h2.9" stroke-width="0.7"/>
<path d="M50.8,95.50 h2.9" stroke-width="0.7"/>
<path d="M50.8,92.50 h2.9" stroke-width="0.7"/>
<path d="M50.8,89.50 h2.9" stroke-width="0.7"/>
<path d="M50.8,71.50 h2.9" stroke-width="0.7"/>
<path d="M50.8,62.50 h2.9" stroke-width="0.7"/>
<path d="M50.8,56.50 h2.9" stroke-width="0.7"/>
<path d="M50.8,51.50 h2.9" stroke-width="0.7"/>
<path d="M50.8,46.50 h2.9" stroke-width="0.7"/>
<path d="M50.8,43.50 h2.9" stroke-width="0.7"/>
<path d="M50.8,40.50 h2.9" stroke-width="0.7"/>
<path d="M50.8,37.50 h2.9" stroke-width="0.7"/>
<path d="M50.8,19.50 h2.9" stroke-width="0.7"/>
</g>
<g font-family="Liberation Serif, serif" fill="#222222">
<text x="47.75" y="307.80" font-size="11.5" textLength="6.10" lengthAdjust="spacingAndGlyphs" stroke="#222" stroke-width="0.12">0</text>
<text x="197.90" y="307.80" font-size="11.5" textLength="18.30" lengthAdjust="spacingAndGlyphs" stroke="#222" stroke-width="0.12">100</text>
<text x="354.15" y="307.80" font-size="11.5" textLength="18.30" lengthAdjust="spacingAndGlyphs" stroke="#222" stroke-width="0.12">200</text>
<text x="510.40" y="307.80" font-size="11.5" textLength="18.30" lengthAdjust="spacingAndGlyphs" stroke="#222" stroke-width="0.12">300</text>
<text x="666.65" y="307.80" font-size="11.5" textLength="18.30" lengthAdjust="spacingAndGlyphs" stroke="#222" stroke-width="0.12">400</text>
<text x="18.80" y="298.90" font-size="11.5" textLength="12.00" lengthAdjust="spacingAndGlyphs" stroke="#222" stroke-width="0.12">10</text>
<text x="31.40" y="294.10" font-size="8" textLength="13.20" lengthAdjust="spacingAndGlyphs" stroke="#222" stroke-width="0.12">−2</text>
<text x="18.80" y="247.20" font-size="11.5" textLength="12.00" lengthAdjust="spacingAndGlyphs" stroke="#222" stroke-width="0.12">10</text>
<text x="31.40" y="242.40" font-size="8" textLength="13.20" lengthAdjust="spacingAndGlyphs" stroke="#222" stroke-width="0.12">−1</text>
<text x="27.80" y="195.50" font-size="11.5" textLength="12.00" lengthAdjust="spacingAndGlyphs" stroke="#222" stroke-width="0.12">10</text>
<text x="40.40" y="190.70" font-size="8" textLength="4.60" lengthAdjust="spacingAndGlyphs" stroke="#222" stroke-width="0.12">0</text>
<text x="27.80" y="143.80" font-size="11.5" textLength="12.00" lengthAdjust="spacingAndGlyphs" stroke="#222" stroke-width="0.12">10</text>
<text x="40.40" y="139.00" font-size="8" textLength="4.60" lengthAdjust="spacingAndGlyphs" stroke="#222" stroke-width="0.12">1</text>
<text x="27.80" y="92.10" font-size="11.5" textLength="12.00" lengthAdjust="spacingAndGlyphs" stroke="#222" stroke-width="0.12">10</text>
<text x="40.40" y="87.30" font-size="8" textLength="4.60" lengthAdjust="spacingAndGlyphs" stroke="#222" stroke-width="0.12">2</text>
<text x="27.80" y="40.40" font-size="11.5" textLength="12.00" lengthAdjust="spacingAndGlyphs" stroke="#222" stroke-width="0.12">10</text>
<text x="40.40" y="35.60" font-size="8" textLength="4.60" lengthAdjust="spacingAndGlyphs" stroke="#222" stroke-width="0.12">3</text>
<text x="308.10" y="325.00" font-size="12" textLength="47.90" lengthAdjust="spacingAndGlyphs" stroke="#222" stroke-width="0.1">diffusion</text>
<text x="361.00" y="325.00" font-size="12" textLength="24.40" lengthAdjust="spacingAndGlyphs" stroke="#222" stroke-width="0.1">time</text>
<text x="390.40" y="325.00" font-size="12" textLength="28.00" lengthAdjust="spacingAndGlyphs" stroke="#222" stroke-width="0.1">steps</text>
<g transform="translate(9.3,163.6) rotate(-90)"><text x="0.00" y="0.00" font-size="14" font-style="italic">S</text><text x="8.80" y="0.60" font-size="8.5" font-style="italic">g</text></g>
<path d="M76.3,4.5 H94" stroke="#f49c55" stroke-width="2.0"/>
<text x="100.30" y="7.30" font-size="8" textLength="51.50" lengthAdjust="spacingAndGlyphs" stroke="#222" stroke-width="0.1">Non-robust</text><text x="157.00" y="7.30" font-size="8" textLength="40.30" lengthAdjust="spacingAndGlyphs" stroke="#222" stroke-width="0.1">classifier</text><text x="202.00" y="7.30" font-size="8" textLength="19.50" lengthAdjust="spacingAndGlyphs" stroke="#222" stroke-width="0.1">with</text>
<text x="226.80" y="7.40" font-size="7.6" textLength="5.90" lengthAdjust="spacingAndGlyphs" font-weight="bold" font-style="italic">x</text><text x="228.40" y="6.45" font-size="7" textLength="2.80" lengthAdjust="spacingAndGlyphs" font-weight="bold">ˆ</text><text x="233.60" y="4.30" font-size="6.5" textLength="1.80" lengthAdjust="spacingAndGlyphs" stroke="#222" stroke-width="0.15">(</text><text x="236.80" y="4.30" font-size="5.5" textLength="2.90" lengthAdjust="spacingAndGlyphs" font-weight="bold" font-style="italic">x</text><text x="240.50" y="5.30" font-size="4.2" textLength="2.00" lengthAdjust="spacingAndGlyphs" font-style="italic">t</text><text x="244.00" y="4.30" font-size="6.5" textLength="1.80" lengthAdjust="spacingAndGlyphs" stroke="#222" stroke-width="0.15">)</text><text x="233.40" y="10.50" font-size="5.4" textLength="3.20" lengthAdjust="spacingAndGlyphs">0</text>
<text x="248.10" y="7.30" font-size="8" textLength="51.10" lengthAdjust="spacingAndGlyphs" stroke="#222" stroke-width="0.1">-prediction</text>
<path d="M76.3,18.9 H94" stroke="#d6e262" stroke-width="2.1"/>
<text x="100.30" y="21.80" font-size="8" textLength="51.50" lengthAdjust="spacingAndGlyphs" stroke="#222" stroke-width="0.1">Non-robust</text><text x="157.00" y="21.80" font-size="8" textLength="40.30" lengthAdjust="spacingAndGlyphs" stroke="#222" stroke-width="0.1">classifier</text><text x="202.00" y="21.80" font-size="8" textLength="19.50" lengthAdjust="spacingAndGlyphs" stroke="#222" stroke-width="0.1">with</text>
<text x="226.80" y="21.90" font-size="7.6" textLength="5.90" lengthAdjust="spacingAndGlyphs" font-weight="bold" font-style="italic">x</text><text x="228.40" y="20.95" font-size="7" textLength="2.80" lengthAdjust="spacingAndGlyphs" font-weight="bold">ˆ</text><text x="233.60" y="18.80" font-size="6.5" textLength="1.80" lengthAdjust="spacingAndGlyphs" stroke="#222" stroke-width="0.15">(</text><text x="236.80" y="18.80" font-size="5.5" textLength="2.90" lengthAdjust="spacingAndGlyphs" font-weight="bold" font-style="italic">x</text><text x="240.50" y="19.80" font-size="4.2" textLength="2.00" lengthAdjust="spacingAndGlyphs" font-style="italic">t</text><text x="244.00" y="18.80" font-size="6.5" textLength="1.80" lengthAdjust="spacingAndGlyphs" stroke="#222" stroke-width="0.15">)</text><text x="233.40" y="25.00" font-size="5.4" textLength="3.20" lengthAdjust="spacingAndGlyphs">0</text>
<text x="248.10" y="21.80" font-size="8" textLength="51.10" lengthAdjust="spacingAndGlyphs" stroke="#222" stroke-width="0.1">-prediction</text><text x="315.60" y="21.80" font-size="8" textLength="13.10" lengthAdjust="spacingAndGlyphs" stroke="#222" stroke-width="0.1">0.9</text><text x="333.60" y="21.80" font-size="8" textLength="22.80" lengthAdjust="spacingAndGlyphs" stroke="#222" stroke-width="0.1">EMA</text>
<text x="304.00" y="24.00" font-size="13.5" textLength="7.40" lengthAdjust="spacingAndGlyphs">+</text>
<path d="M76.3,33.3 H94" stroke="#60a8dc" stroke-width="2.05"/>
<text x="100.30" y="36.30" font-size="8" textLength="51.50" lengthAdjust="spacingAndGlyphs" stroke="#222" stroke-width="0.1">Non-robust</text><text x="157.00" y="36.30" font-size="8" textLength="40.30" lengthAdjust="spacingAndGlyphs" stroke="#222" stroke-width="0.1">classifier</text><text x="202.00" y="36.30" font-size="8" textLength="19.50" lengthAdjust="spacingAndGlyphs" stroke="#222" stroke-width="0.1">with</text>
<text x="226.80" y="36.40" font-size="7.6" textLength="5.90" lengthAdjust="spacingAndGlyphs" font-weight="bold" font-style="italic">x</text><text x="228.40" y="35.45" font-size="7" textLength="2.80" lengthAdjust="spacingAndGlyphs" font-weight="bold">ˆ</text><text x="233.60" y="33.30" font-size="6.5" textLength="1.80" lengthAdjust="spacingAndGlyphs" stroke="#222" stroke-width="0.15">(</text><text x="236.80" y="33.30" font-size="5.5" textLength="2.90" lengthAdjust="spacingAndGlyphs" font-weight="bold" font-style="italic">x</text><text x="240.50" y="34.30" font-size="4.2" textLength="2.00" lengthAdjust="spacingAndGlyphs" font-style="italic">t</text><text x="244.00" y="33.30" font-size="6.5" textLength="1.80" lengthAdjust="spacingAndGlyphs" stroke="#222" stroke-width="0.15">)</text><text x="233.40" y="39.50" font-size="5.4" textLength="3.20" lengthAdjust="spacingAndGlyphs">0</text>
<text x="248.10" y="36.30" font-size="8" textLength="51.10" lengthAdjust="spacingAndGlyphs" stroke="#222" stroke-width="0.1">-prediction</text><text x="315.60" y="36.30" font-size="8" textLength="18.60" lengthAdjust="spacingAndGlyphs" stroke="#222" stroke-width="0.1">0.99</text><text x="339.40" y="36.30" font-size="8" textLength="22.00" lengthAdjust="spacingAndGlyphs" stroke="#222" stroke-width="0.1">EMA</text>
<text x="304.00" y="38.50" font-size="13.5" textLength="7.40" lengthAdjust="spacingAndGlyphs">+</text>
<path d="M378.2,4.4 H395.4" stroke="#adb2b6" stroke-width="1.95"/>
<text x="402.40" y="7.30" font-size="8" textLength="51.50" lengthAdjust="spacingAndGlyphs" stroke="#222" stroke-width="0.1">Non-robust</text><text x="459.10" y="7.30" font-size="8" textLength="40.30" lengthAdjust="spacingAndGlyphs" stroke="#222" stroke-width="0.1">classifier</text><text x="504.10" y="7.30" font-size="8" textLength="19.50" lengthAdjust="spacingAndGlyphs" stroke="#222" stroke-width="0.1">with</text>
<text x="528.90" y="7.40" font-size="7.6" textLength="5.90" lengthAdjust="spacingAndGlyphs" font-weight="bold" font-style="italic">x</text><text x="530.50" y="6.45" font-size="7" textLength="2.80" lengthAdjust="spacingAndGlyphs" font-weight="bold">ˆ</text><text x="535.70" y="4.30" font-size="6.5" textLength="1.80" lengthAdjust="spacingAndGlyphs" stroke="#222" stroke-width="0.15">(</text><text x="538.90" y="4.30" font-size="5.5" textLength="2.90" lengthAdjust="spacingAndGlyphs" font-weight="bold" font-style="italic">x</text><text x="542.60" y="5.30" font-size="4.2" textLength="2.00" lengthAdjust="spacingAndGlyphs" font-style="italic">t</text><text x="546.10" y="4.30" font-size="6.5" textLength="1.80" lengthAdjust="spacingAndGlyphs" stroke="#222" stroke-width="0.15">)</text><text x="535.50" y="10.50" font-size="5.4" textLength="3.20" lengthAdjust="spacingAndGlyphs">0</text>
<text x="550.20" y="7.30" font-size="8" textLength="51.10" lengthAdjust="spacingAndGlyphs" stroke="#222" stroke-width="0.1">-prediction</text><text x="617.70" y="7.30" font-size="8" textLength="30.80" lengthAdjust="spacingAndGlyphs" stroke="#222" stroke-width="0.1">ADAM</text>
<text x="606.10" y="9.50" font-size="13.5" textLength="7.40" lengthAdjust="spacingAndGlyphs">+</text>
<path d="M378.2,16.9 H395.4" stroke="#2e4da4" stroke-width="2.0"/>
<text x="402.10" y="19.80" font-size="8" textLength="31.50" lengthAdjust="spacingAndGlyphs" stroke="#222" stroke-width="0.1">Robust</text><text x="438.90" y="19.80" font-size="8" textLength="40.30" lengthAdjust="spacingAndGlyphs" stroke="#222" stroke-width="0.1">classifier</text>
<path d="M378.2,28.5 H395.4" stroke="#e6382b" stroke-width="2.0"/>
<text x="402.40" y="31.40" font-size="8" textLength="51.50" lengthAdjust="spacingAndGlyphs" stroke="#222" stroke-width="0.1">Non-robust</text><text x="459.10" y="31.40" font-size="8" textLength="40.30" lengthAdjust="spacingAndGlyphs" stroke="#222" stroke-width="0.1">classifier</text>
</g>
</svg>
</body></html>
